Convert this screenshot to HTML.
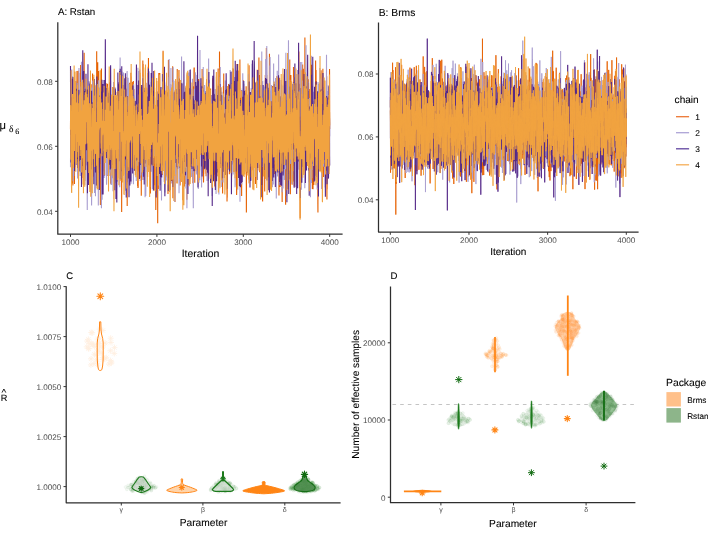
<!DOCTYPE html>
<html><head><meta charset="utf-8"><style>
html,body{margin:0;padding:0;background:#fff;}
svg{display:block;will-change:transform;text-rendering:geometricPrecision;font-family:"Liberation Sans", sans-serif;}
</style></head><body>
<svg width="708" height="534" viewBox="0 0 708 534">
<rect width="708" height="534" fill="#fff"/>
<path transform="translate(70.50,0) scale(0.08643,0.1)" d="M0,1292 l1-302 1-121 1 331 1 117 1 111 1-192 1 45 1-159 1 505 1-516 1 117 1-117 1 125 1 118 1-131 1-147 1 158 1 68 1-155 1 273 1 281 1-289 1 95 1 329 1-84 1-121 1 104 1 119 1-285 1-336 1 86 1 158 1-175 1-162 1 148 1-117 1-170 1 196 1 235 1-144 1-49 1-217 1 429 1 73 1 77 1 240 1-299 1-239 1 165 1-396 1-71 1 9 1 55 1-98 1 467 1-205 1-100 1 484 1-235 1 18 1-224 1 163 1-13 1-88 1 231 1-217 1 50 1-110 1 174 1-275 1-30 1 162 1-102 1-192 1-215 1 649 1-228 1-20 1 116 1 263 1-378 1 379 1-223 1-277 1 515 1-35 1 210 1-245 1-409 1-319 1 697 1 77 1-249 1-322 1 100 1 313 1-79 1 32 1 57 1 149 1-179 1-71 1 55 1 56 1 268 1-46 1-405 1 113 1 337 1-456 1-46 1-379 1 271 1 254 1 349 1-450 1-505 1 510 1 217 1-172 1 235 1-8 1 13 1-115 1-261 1 111 1-146 1 228 1-54 1 528 1 109 1-451 1 87 1-220 1-102 1-227 1 2 1-45 1 231 1 248 1 132 1 10 1 150 1-56 1-130 1-143 1 62 1 387 1-223 1-178 1-283 1-27 1 261 1 149 1-542 1 12 1-236 1-185 1 571 1 14 1-9 1-27 1-10 1 72 1 42 1 399 1-102 1 80 1-157 1 56 1-217 1-154 1 38 1 18 1 59 1 151 1 12 1 80 1-158 1 4 1-125 1 367 1-315 1 214 1 101 1-71 1 47 1-169 1 111 1 166 1 33 1-469 1 51 1 298 1-116 1 295 1-606 1 443 1-230 1-129 1 384 1-202 1-258 1-9 1 41 1-134 1 111 1 15 1 112 1-114 1 297 1-242 1 171 1 217 1-219 1-408 1-40 1 313 1-117 1 201 1 26 1-35 1 525 1-303 1 124 1-13 1 168 1 94 1-82 1-440 1-409 1 177 1-164 1 224 1 483 1-223 1-178 1 108 1-111 1-116 1 265 1 271 1-148 1-75 1-7 1-304 1-319 1 323 1-90 1-99 1 2 1-75 1 287 1-112 1-344 1 102 1 372 1-91 1-192 1 105 1 262 1-343 1 457 1-166 1 34 1 282 1-402 1-5 1 338 1-229 1 119 1 390 1-78 1-254 1-210 1 0 1 28 1-82 1 112 1-256 1 103 1 19 1-46 1 337 1 90 1-459 1 39 1 159 1-61 1 155 1-94 1 166 1-130 1 353 1-478 1 176 1 328 1-141 1-38 1-136 1 223 1-235 1-844 1 682 1-24 1 135 1-46 1 428 1 65 1-330 1-52 1-404 1 326 1-36 1-634 1 511 1 287 1-52 1-24 1-213 1 55 1 227 1-104 1-599 1 8 1 917 1-136 1 98 1-289 1 35 1-457 1-3 1 8 1 162 1 132 1-19 1-225 1 59 1 229 1-252 1 118 1 120 1 220 1 60 1 45 1 509 1-604 1-200 1 75 1-246 1 14 1 22 1 652 1-179 1-261 1-374 1-239 1-26 1 570 1 518 1-364 1-60 1-241 1 125 1-15 1 379 1-248 1 76 1-140 1-95 1 82 1-57 1 47 1-151 1-18 1 227 1 123 1-463 1 184 1-155 1 58 1 244 1 164 1-114 1-87 1-125 1 362 1 29 1-98 1-431 1 677 1-292 1 74 1-181 1 117 1-134 1-338 1 104 1 34 1 31 1 268 1-157 1 91 1 181 1-84 1 1 1-220 1 69 1 144 1-375 1-82 1-105 1 97 1 210 1 175 1 55 1-248 1 64 1 391 1-129 1 245 1-234 1 192 1 109 1-256 1-84 1 314 1-385 1-511 1 565 1-461 1 334 1 124 1-10 1 281 1-478 1-57 1 251 1 19 1 289 1-119 1-349 1 423 1-76 1-170 1-288 1-211 1 300 1 215 1-161 1 102 1 40 1-294 1-284 1 179 1 193 1-76 1 516 1-163 1 153 1-700 1 25 1 144 1 147 1 596 1-429 1-421 1 321 1-158 1-87 1 467 1-325 1-257 1 125 1 128 1-128 1 461 1-138 1-285 1 374 1-316 1 160 1 454 1-217 1 86 1-248 1 212 1-394 1 206 1-144 1 142 1 10 1-336 1 52 1 163 1 275 1-406 1-107 1 185 1-35 1 268 1 131 1 24 1-255 1-114 1 178 1-246 1-133 1 71 1-159 1 219 1 70 1-97 1 66 1-153 1 384 1-411 1 291 1 7 1 276 1-307 1-305 1-107 1 0 1 538 1 95 1-25 1 94 1-416 1 3 1 49 1-91 1 278 1 130 1 59 1-281 1-106 1-106 1-165 1 465 1 54 1-133 1 270 1-48 1-373 1-206 1-97 1 184 1 149 1-216 1 219 1-50 1-248 1 258 1 183 1-44 1-158 1-54 1 47 1-66 1 452 1 59 1-200 1 145 1 166 1 53 1-39 1-186 1 97 1-235 1-446 1 192 1-224 1 110 1 372 1-9 1 160 1-315 1 275 1-419 1-43 1 565 1-350 1-348 1 354 1-223 1 515 1-204 1 329 1-318 1 352 1 366 1-499 1-675 1 311 1-165 1 79 1 138 1-143 1-303 1 497 1-157 1-29 1 384 1-492 1-322 1 493 1-360 1 199 1 149 1-301 1 137 1 47 1-245 1-72 1 54 1 543 1 310 1-452 1 236 1-124 1 213 1-94 1 200 1-555 1 318 1-42 1-6 1-318 1 433 1-96 1-8 1-171 1-72 1 175 1-71 1 102 1-138 1 59 1 155 1-65 1-120 1-488 1 376 1 9 1-256 1 669 1 259 1 5 1-240 1-694 1 113 1-127 1 259 1 634 1 283 1-609 1-116 1 276 1-407 1 395 1-404 1-273 1 362 1 258 1-310 1 281 1-300 1 314 1-295 1 14 1 125 1 167 1-172 1 394 1-167 1-57 1-270 1 300 1-518 1 197 1 284 1-426 1-275 1 279 1 298 1-55 1 131 1-19 1-431 1 47 1 79 1-6 1 88 1-158 1-88 1 238 1 11 1-514 1 192 1 233 1-387 1 265 1 383 1-208 1 250 1 35 1-168 1 18 1 152 1 28 1 24 1-384 1 232 1 83 1-546 1 310 1-304 1-114 1 274 1 422 1-210 1-155 1-144 1 130 1-190 1-137 1 482 1-318 1 123 1 229 1 58 1-465 1-31 1 608 1-117 1-8 1 4 1 78 1 251 1-396 1 207 1-24 1 40 1 48 1-307 1-73 1 202 1 162 1-26 1-336 1 21 1-14 1 120 1 44 1-85 1 421 1-567 1 257 1 78 1-389 1 56 1 69 1 175 1 308 1-240 1-347 1 299 1-361 1 381 1 101 1-228 1 0 1-156 1 245 1 187 1 282 1-8 1-33 1 63 1-360 1 39 1 318 1-848 1 323 1 257 1-434 1-200 1 421 1 284 1 35 1-462 1 93 1 159 1-96 1-326 1 421 1-16 1 217 1-692 1-266 1 62 1 275 1-41 1 602 1-235 1 246 1 120 1-80 1-119 1-268 1-163 1 18 1 280 1-224 1 67 1-260 1 343 1 587 1-221 1-703 1 28 1 163 1-161 1 5 1 12 1 225 1-20 1-38 1 171 1 193 1-187 1-280 1-68 1 0 1-2 1-469 1 289 1-32 1-222 1 318 1 111 1-120 1-205 1 207 1 93 1 107 1 346 1-351 1 134 1 397 1-156 1 278 1-24 1-242 1 90 1-404 1 370 1-205 1-170 1-287 1-23 1 143 1 106 1 85 1-228 1 291 1-120 1 78 1-36 1 95 1-492 1 382 1-14 1-12 1-80 1-5 1 3 1-124 1 498 1-92 1 234 1-213 1 212 1 55 1-174 1-416 1-23 1 52 1-224 1 417 1 467 1-142 1-104 1-393 1-400 1 581 1-567 1-77 1 124 1 168 1-379 1 339 1 294 1 9 1 344 1-243 1 10 1-94 1-54 1 292 1-388 1 331 1-264 1 427 1-228 1 153 1-117 1 98 1 393 1-43 1-289 1-269 1 337 1 316 1-125 1-210 1-11 1 35 1-357 1-204 1-52 1 353 1-53 1 35 1 295 1-372 1-8 1 126 1-366 1-36 1-38 1-97 1 60 1 477 1 41 1-293 1 252 1-55 1-108 1-290 1-112 1 34 1 261 1-118 1 29 1 170 1-258 1 66 1 314 1-298 1 194 1-94 1 429 1-123 1 146 1 80 1 251 1-787 1 122 1-26 1-208 1 172 1-57 1 394 1-154 1 61 1-176 1-15 1 344 1 278 1-50 1-419 1-139 1-65 1 513 1 408 1-262 1-196 1-37 1-234 1 1 1 230 1 46 1-208 1-88 1-10 1-533 1 304 1 65 1 284 1-1 1-199 1-110 1 109 1-70 1 41 1 457 1 543 1-987 1-160 1 120 1 439 1 115 1-535 1 665 1-221 1-380 1-27 1-150 1 124 1-507 1 517 1 334 1-202 1-360 1 154 1-172 1 270 1 282 1-441 1-258 1-122 1 384 1 353 1 179 1-122 1-244 1-105 1 385 1-174 1-47 1-40 1 6 1 42 1-157 1 26 1-9 1 202 1-144 1 45 1 471 1-350 1-6 1-271 1 109 1 40 1-49 1 25 1 111 1 359 1-640 1 451 1-53 1-251 1-64 1-74 1-82 1-153 1 141 1-517 1 625 1 32 1 149 1 116 1-129 1-329 1 324 1 162 1-242 1-80 1-359 1 31 1 194 1 224 1-11 1 82 1 309 1-155 1-36 1-5 1 42 1-456 1-5 1-56 1 320 1 253 1-40 1-139 1 64 1-4 1-261 1 19 1 298 1 24 1 64 1-157 1 225 1-110 1-251 1 24 1 224 1 45 1-144 1-153 1-156 1 143 1 335 1-449 1 28 1-9 1 17 1 311 1-6 1-132 1-242 1 99 1 765 1-265 1-267 1-345 1-41 1-422 1 30 1 32 1 107 1 577 1-214 1-50 1 227 1-136 1-30 1 183 1 15 1 39 1-92 1 102 1-167 1 470 1-133 1 250 1-146 1-298 1-38 1 11 1-35 1-355 1 425 1-237 1 422 1-24 1-154 1 152 1-163 1-199 1 334 1-85 1 25 1 365 1-213 1 31 1-465 1 266 1-447 1 279 1-416 1 106 1 73 1-43 1-44 1-134 1-141 1 397 1 402 1 521 1-253 1-386 1-106 1 6 1 107 1 120 1-21 1-162 1 404 1-359 1 312 1-136 1 39 1-40 1 133 1 90 1-162 1 111 1-742 1 277 1 192 1 72 1 154 1 389 1-301 1-278 1 269 1-205 1 171 1-178 1-179 1-117 1-48 1 233 1-240 1 179 1-90 1-125 1 164 1 304 1-276 1 252 1 75 1 85 1-396 1 29 1 484 1-430 1-515 1-197 1 435 1 72 1-61 1-117 1 134 1 322 1-255 1-97 1 390 1-22 1-154 1-16 1-126 1-124 1-5 1 145 1 351 1-268 1-310 1-284 1 310 1 155 1-256 1-126 1 185 1 8 1 336 1-135 1 250 1-28 1-19 1 68 1 405 1-88 1-305 1-63 1 43 1-164 1-140 1-106 1 320 1-27 1 67 1 156 1 217 1-206 1 72 1-646 1 184 1 121 1 99 1-462 1 403 1 26 1 150 1-71 1-55 1-283 1 425 1-102 1-419 1 269 1 59 1 190 1 485 1-324 1-450 1 145 1 383 1-285 1-100 1-257 1-108 1 211 1-45 1 473 1-420 1-1 1-203 1-96 1 256 1 97 1 211 1 375 1-249 1-188 1 184 1-312 1-18 1-89 1 231 1 339 1-402 1-164 1 80 1 110 1 23 1-20 1 74 1 375 1-442 1 292 1-115 1-64 1-160 1 342 1-464 1-108 1-80 1-152 1 389 1 721 1-421 1-431 1-182 1 291 1 45 1-62 1 440 1-37 1-25 1-513 1 247 1-377 1 161 1 462 1-646 1 394 1-160 1-326 1 342 1 327 1-348 1 46 1 314 1 124 1-93 1-352 1 106 1-159 1-304 1-66 1-71 1 11 1 645 1-315 1 44 1 124 1 278 1 252 1 19 1-236 1 142 1-10 1-50 1-314 1 60 1-4 1-333 1 204 1-105 1 320 1-152 1-29 1-27 1 132 1 192 1-68 1 3 1-336 1-140 1 406 1-210 1 145 1-139 1 142 1 294 1-413 1-80 1 338 1 319 1-146 1 73 1-148 1-295 1-339 1 241 1-269 1-87 1 317 1 435 1-349 1-120 1-453 1-19 1 137 1-136 1 548 1-6 1 103 1-403 1 63 1 848 1-574 1 226 1-266 1 149 1-89 1-132 1 33 1 275 1-393 1 29 1 108 1-109 1 225 1-433 1 158 1 46 1 28 1 297 1 208 1-210 1-135 1-292 1 56 1 375 1-177 1-156 1-117 1 92 1 396 1-339 1 257 1-165 1 401 1-326 1 185 1-327 1-317 1-25 1 514 1 207 1 87 1-302 1-80 1 3 1-33 1-77 1-55 1-261 1 263 1 73 1 500 1 131 1-77 1 73 1-280 1-325 1 170 1 97 1 54 1-117 1 94 1-172 1-58 1-38 1-113 1 108 1 29 1-349 1 232 1-74 1 131 1 181 1 90 1 127 1-124 1 77 1-2 1-371 1 119 1-227 1 83 1-92 1 285 1-28 1-574 1 120 1 20 1 184 1-48 1 430 1 145 1-215 1-196 1 180 1 39 1 59 1-9 1 223 1 164 1-222 1 263 1-40 1-92 1 43 1-269 1 20 1-72 1 174 1 26 1-269 1-100 1 136 1-118 1-19 1-3 1-325 1 288 1-41 1-21 1 137 1 279 1-279 1-42 1 27 1 19 1 11 1 212 1-161 1 391 1-204 1 229 1-142 1-312 1 64 1 82 1-182 1 85 1 74 1 34 1-412 1-15 1 34 1 394 1-211 1 326 1-236 1 241 1-570 1 534 1-387 1-99 1 531 1-80 1-420 1-140 1 559 1 24 1 159 1 46 1-63 1-591 1 89 1 126 1 87 1-181 1-97 1 315 1-380 1 384 1 11 1-159 1-363 1 282 1-2 1-229 1 38 1-94 1-28 1 162 1-3 1-65 1 180 1-277 1 669 1 95 1-485 1-14 1 234 1-113 1-216 1 263 1-168 1 117 1 56 1 18 1-256 1 374 1 17 1-223 1 312 1 238 1-366 1-55 1 6 1-62 1 220 1-765 1 495 1 124 1 284 1-84 1-480 1 100 1-80 1 203 1-416 1 164 1 399 1-254 1 129 1-155 1 28 1-14 1 21 1 245 1 257 1-429 1 36 1-77 1 130 1 416 1 40 1-581 1 200 1 9 1 249 1-87 1-78 1-73 1-70 1 91 1 32 1-110 1-130 1 39 1-404 1 143 1 82 1 225 1-266 1 329 1 298 1 4 1-356 1 218 1-439 1 77 1 374 1-102 1-505 1 344 1 272 1-273 1-316 1-93 1 257 1 12 1-25 1-203 1-322 1 348 1-143 1 298 1-61 1 313 1 118 1-207 1 192 1-305 1 171 1-56 1 8 1 61 1-75 1-251 1-581 1 676 1 3 1 108 1 221 1-160 1 182 1-89 1-341 1 563 1-229 1-159 1 236 1-215 1-69 1 124 1-290 1 422 1-228 1 84 1 226 1-84 1-3 1-265 1 388 1-98 1 9 1-452 1 380 1-300 1 484 1-231 1-7 1-119 1 184 1 373 1 96 1-596 1-50 1 218 1-288 1 226 1 112 1 163 1-456 1-405 1 456 1-53 1-182 1-347 1 843 1-150 1-188 1 384 1-232 1-69 1-153 1 218 1-116 1 172 1-187 1 8 1 124 1 297 1-542 1-150 1-23 1 336 1 98 1-406 1 5 1 362 1-21 1-33 1 61 1 198 1-396 1-49 1 153 1 386 1-30 1-146 1-269 1 144 1-261 1 87 1 242 1 583 1-74 1 35 1-285 1-251 1-364 1 133 1 325 1-629 1 146 1 202 1 100 1 296 1-300 1-91 1-320 1-50 1 27 1-74 1 310 1 191 1 6 1 272 1-112 1-14 1-233 1 38 1 445 1-214 1-420 1 522 1 19 1-166 1 220 1-66 1-169 1 225 1-251 1-152 1 302 1-141 1-308 1 129 1-74 1-83 1 155 1-196 1 36 1 328 1-178 1-165 1-70 1 291 1-103 1-258 1 129 1-151 1-102 1 250 1-33 1 198 1-207 1 157 1 182 1-27 1-3 1-105 1-71 1 332 1 50 1-203 1-129 1 24 1-561 1 60 1 298 1-32 1-154 1 142 1 546 1-142 1-61 1-500 1 644 1-440 1 163 1-164 1 193 1-9 1-220 1 126 1-156 1 177 1 163 1 38 1 83 1-45 1-356 1 391 1 306 1-216 1-492 1-103 1-114 1-40 1 425 1 21 1 637 1-144 1-346 1 314 1 270 1-36 1-361 1-394 1-517 1 2 1 663 1 513 1-300 1-356 1 425 1-35 1-34 1-126 1-16 1-165 1-205 1 119 1-94 1-327 1 515 1 263 1-219 1-413 1 173 1-123 1 254 1-149 1 273 1-158 1-16 1-8 1-226 1-44 1 353 1-158 1 502 1-354 1-575 1 212 1 111 1 154 1-96 1 240 1-133 1 145 1 107 1-71 1 5 1 380 1-669 1 101 1 464 1-393 1 53 1-26 1-127 1 298 1 610 1-335 1-245 1-294 1 250 1 14 1-143 1 90 1 30 1-99 1 232 1-465 1 333 1-50 1 57 1 114 1-223 1-218 1-209 1 92 1 278 1-156 1 442 1-116 1-164 1-91 1 341 1 249 1-587 1 196 1 355 1 85 1-239 1-381 1 76 1-233 1 103 1-3 1-116 1 248 1-27 1 141 1 127 1-228 1 220 1-93 1 150 1-83 1 58 1-336 1 61 1 31 1-337 1 854 1 28 1 381 1-425 1-311 1-202 1-16 1 249 1-466 1 94 1 175 1 281 1-206 1 103 1 42 1-126 1-66 1 202 1-366 1 325 1 189 1-226 1-72 1-23 1 97 1-54 1 110 1 300 1-387 1 200 1-76 1-254 1 32 1-596 1 635 1 171 1-103 1-337 1 194 1 363 1-399 1 267 1-30 1-258 1 220 1 62 1-181 1 65 1-77 1 239 1-67 1 186 1 198 1-647 1-30 1-119 1 365 1-29 1 25 1 286 1-299 1 136 1-49 1 271 1-429 1-162 1 1 1 294 1 64 1-365 1 155 1-45 1 6 1 287 1-452 1 564 1-215 1-37 1 325 1-276 1-180 1 15 1 206 1-185 1-242 1 80 1-298 1 45 1 43 1-118 1 402 1 170 1-148 1-75 1-261 1-48 1 194 1 87 1 155 1 97 1 68 1-272 1 174 1 60 1-86 1 108 1-10 1 435 1-359 1-27 1-126 1-103 1 448 1-736 1 136 1 62 1 470 1-308 1-110 1 118 1-81 1-275 1 225 1 239 1-386 1 46 1 122 1-498 1 233 1 191 1-4 1 149 1-65 1-17 1 173 1-3 1-129 1-80 1-85 1-88 1 77 1-21 1 192 1 68 1-257 1 551 1-253 1-754 1 753 1-378 1 546 1-203 1-384 1-160 1 460 1 320 1 192 1-388 1 56 1-61 1-86 1-77 1-66 1 60 1 420 1-479 1 707 1-543 1 143 1-19 1 63 1-2 1-79 1 18 1 194 1-341 1 151 1-358 1 159 1 203 1-155 1-179 1 318 1 15 1-377 1 357 1 145 1-156 1 233 1 398 1 19 1-450 1-288 1-130 1-19 1 355 1-252 1-233 1 300 1-219 1 185 1-33 1-57 1 389 1-470 1 288 1-26 1 75 1-177 1-82 1 51 1-288 1 110 1 209 1 663 1-253 1-125 1 68 1 32 1-312 1-257 1-320 1 9 1 421 1-6 1 361 1-290 1-62 1 188 1-20 1 22 1 98 1-391 1-598 1 215 1 55 1 229 1 229 1-458 1 348 1 2 1 117 1-101 1 93 1-98 1 370 1-78 1-370 1 356 1 96 1-411 1 12 1-143 1 672 1-200 1 220 1 136 1-338 1-343 1 433 1 129 1-54 1-130 1 207 1-706 1 24 1 226 1 149 1-567 1-264 1 483 1 54 1-179 1 462 1 96 1-389 1 267 1 75 1 245 1-11 1-331 1 175 1 197 1-54 1-570 1 77 1 205 1-59 1-95 1 26 1 449 1-251 1-10 1-244 1 376 1-356 1 172 1 361 1-508 1 165 1-119 1 62 1-254 1-129 1-66 1 57 1 557 1 294 1-280 1 122 1-260 1-63 1 328 1 78 1 61 1-25 1-167 1-285 1-292 1 379 1 96 1-432 1-66 1 116 1 645 1 18 1-256 1 43 1-566 1 150 1 30 1 330 1 152 1-9 1-14 1-97 1-186 1-62 1-205 1 433 1-139 1-76 1-344 1 238 1-5 1 258 1-153 1-71 1 198 1 56 1-65 1-171 1 308 1-309 1 122 1-447 1-123 1 363 1 231 1-586 1 123 1 76 1 263 1 65 1-180 1-47 1 305 1-319 1 53 1 313 1-286 1 123 1-156 1 226 1-96 1 404 1-252 1 304 1-230 1 498 1-313 1-335 1-114 1-218 1 407 1-398 1-207 1 535 1 175 1 37 1-107 1-100 1 553 1-420 1-16 1 165 1-365 1 112 1-281 1-3 1 192 1-243 1-38 1 279 1 391 1-47 1-287 1 50 1-429 1 127 1 78 1-8 1 288 1-29 1 108 1 437 1 89 1-526 1 5 1-71 1 272 1-65 1-344 1-17 1 132 1-399 1 161 1 146 1-266 1 521 1-259 1 249 1 51 1 1 1-184 1-87 1-88 1-22 1-282 1-207 1 120 1 49 1 281 1 305 1-231 1 10 1-181 1 518 1-763 1 515 1-39 1-237 1 421 1 21 1 344 1 38 1 134 1-396 1-241 1 18 1-350 1-203 1 215 1 156 1 90 1 85 1-356 1 64 1 161 1 57 1-147 1 141 1-91 1 33 1-298 1-105 1 531 1-19 1-207 1 159 1-206 1 5 1-56 1 121 1-23 1-62 1 422 1 85 1 66 1-580 1 23 1-4 1 43 1 178 1 141 1-292 1 132 1-377 1 125 1 86 1 114 1 23 1-12 1-344 1-356 1 613 1-14 1-109 1 311 1 93 1 8 1 444 1-469 1-77 1-29 1-53 1-65 1-499 1 232 1-31 1 290 1-52 1 125 1 25 1 183 1 71 1-252 1-191 1-31 1 240 1-104 1 593 1-490 1-23 1-82 1-242 1 236 1-193 1 219 1-113 1 158 1-82 1-300 1 325 1 153 1 12 1-135 1-622 1 441 1 551 1-38 1 191 1-137 1-198 1 121 1-2 1 267 1-330 1 45 1-391 1-189 1 340 1 57 1-68 1-192 1 452 1-136 1-504 1 188 1 24 1 61 1 300 1-334 1-13 1 17 1-119 1-73 1 569 1-252 1 114 1-111 1 142 1 105 1-358 1 37 1 81 1 41 1-63 1-10 1 526 1-75 1-181 1-313 1-296 1 370 1-463 1 184 1 2 1 232 1 131 1-395 1 175 1 62 1-255 1-255 1 600 1 3 1-38 1-432 1-363 1 386 1 97 1-63 1-96 1 283 1-124 1 289 1 590 1 2 1-359 1-308 1 532 1 164 1-320 1 596 1-591 1-404 1 704 1-494 1-31 1-380 1 66 1 151 1-7 1-188 1 74 1 71 1 370 1-251 1-23 1-420 1 208 1 120 1 181 1-214 1 102 1 164 1-439 1-260 1 374 1 316 1-328 1 279 1-687 1 325 1-86 1 468 1-52 1-281 1 7 1 225 1-564 1 105 1 271 1 221 1 35 1-350 1 305 1-29 1 178 1-380 1 131 1-167 1-17 1 252 1-165 1-136 1 404 1-217 1-754 1 495 1 36 1 464 1-174 1 151 1-232 1 69 1 290 1-371 1 113 1 237 1-126 1 171 1-224 1-7 1 66 1-203 1 340 1-340 1 505 1-567 1 40 1 121 1 168 1-208 1 57 1 33 1-259 1 204 1 57 1-123 1-208 1 174 1 17 1 34 1-141 1-241 1 431 1 33 1-2 1-147 1-280 1 205 1 50 1-184 1 449 1 116 1-14 1-108 1-108 1 117 1-460 1 331 1 51 1-268 1-63 1 148 1-15 1-108 1 136 1-83 1 316 1-68 1 358 1 8 1 61 1-515 1 134 1-107 1 226 1-51 1-8 1 128 1-328 1 413 1-317 1-622 1 484 1 48 1 388 1-156 1 314 1-383 1 65 1 344 1 46 1 91 1-252 1-386 1 94 1 227 1 35 1-199 1 485 1-448 1-182 1 566 1-551 1 372 1-139 1-389 1 452 1 275 1-28 1-23 1-227 1-25 1-18 1-13 1-74 1 117 1-213 1-31 1 219 1-545 1 440 1-242 1 219 1-144 1-110 1-133 1-196 1 422 1-640 1 243 1 401 1 326 1-690 1-184 1 290 1-35 1-145 1 207 1 223 1 22 1-191 1 93 1 334 1-289 1 426 1-12 1-464 1-1 1 0 1 29 1-198 1 150 1 513 1-250 1 638 1 85 1-793 1-272 1 210 1 16 1-29 1-226 1 296 1 173 1 29 1-162 1-110 1 96 1-217 1 301 1-66 1 108 1 126 1-451 1 131 1 223 1-129 1 176 1-281 1-198 1-140 1 410 1-5 1-461 1 243 1-219 1-170 1 585 1-305 1-47 1-52 1-213 1 176 1 176 1-34 1 202 1-92 1 532 1-596 1 222 1-135 1-15 1 40 1 19 1 20 1 402 1-50 1-426 1 297 1 157 1-652 1-117 1-140 1 293 1 81 1-72 1 10 1 154 1 394 1 29 1 193 1-611 1 148 1 24 1-94 1 15 1-110 1 210 1 312 1-596 1 268 1 80 1 114 1 0 1-130 1-231 1 297 1-159 1 142 1-359 1 379 1-116 1-198 1 376 1-149 1-82 1 176 1-46 1-298 1 21 1 162 1 34 1-133 1-253 1-19 1 6 1-187 1 615 1 284 1 332 1-541 1 440 1-290 1-327 1 326 1-4 1-92 1-272 1 375 1-229 1-201 1 26 1 10 1-243 1 112 1 111 1 127 1-160 1 133 1-147 1 52 1-207 1 332 1-31 1-77 1-53 1-189 1 72 1-79 1-278 1 113 1 487" fill="none" stroke="#E66101" stroke-width="1.10" vector-effect="non-scaling-stroke"/>
<path transform="translate(70.50,0) scale(0.08643,0.1)" d="M0,1672 l1-338 1 67 1-117 1 47 1-312 1-131 1 460 1-86 1 86 1 271 1-306 1 25 1-119 1-519 1 0 1 50 1 367 1 358 1-370 1 166 1 4 1 97 1-59 1-550 1 340 1 162 1-28 1-33 1 319 1 289 1-124 1-145 1 57 1 78 1 25 1-110 1-116 1 283 1-102 1-255 1-19 1 270 1-92 1-121 1-238 1 421 1-310 1 103 1-98 1-157 1 272 1 121 1-95 1-236 1 168 1 279 1-21 1-253 1-301 1 224 1 72 1 3 1-8 1 179 1-24 1-160 1-54 1-9 1 226 1 11 1 42 1-375 1-277 1 110 1-225 1 310 1 154 1 303 1-191 1 58 1-94 1-135 1 95 1 245 1-119 1-54 1-49 1-169 1 114 1 68 1-413 1-59 1 230 1 304 1 42 1-164 1-185 1-442 1 370 1 96 1 161 1-17 1 94 1 200 1-366 1 15 1-250 1 273 1-35 1-105 1 512 1 131 1-396 1-53 1 404 1-42 1 48 1-103 1-503 1 220 1-470 1 273 1 243 1-391 1-58 1-125 1-189 1 101 1 15 1 662 1 131 1-217 1-55 1-144 1 195 1-257 1-330 1 153 1 20 1 83 1-53 1 132 1 226 1-44 1-2 1 363 1-210 1-60 1-70 1 134 1-163 1-113 1 240 1-109 1-157 1-69 1 336 1 191 1-137 1 170 1-703 1 386 1 190 1-225 1 137 1 487 1-245 1 65 1-69 1 209 1-52 1-190 1-113 1 175 1 0 1 31 1-204 1-37 1 227 1-307 1 145 1-169 1 207 1-166 1 10 1-34 1-116 1-44 1 39 1 21 1 328 1-102 1 420 1 221 1-318 1-178 1-472 1-51 1-124 1 252 1-41 1-181 1 50 1 64 1 87 1 270 1 129 1 184 1-318 1-8 1 85 1-186 1 113 1-304 1-344 1 151 1 330 1 343 1-608 1 43 1 382 1-308 1 455 1-46 1-68 1-6 1 170 1-702 1 271 1-39 1 58 1 393 1-37 1-188 1-255 1 157 1-80 1 117 1-149 1 609 1-381 1 81 1 32 1 521 1-137 1-443 1-601 1 373 1 177 1-169 1-39 1 176 1-6 1 45 1-202 1-140 1-286 1 45 1 78 1 153 1-98 1 381 1-513 1 164 1-172 1 408 1-205 1 39 1 150 1 184 1 139 1-531 1-136 1 180 1 72 1 242 1 370 1 175 1-178 1-190 1 132 1-375 1-124 1 17 1 440 1-127 1-105 1 224 1 320 1-762 1-89 1 181 1-355 1-68 1 114 1 108 1-71 1-189 1 219 1 177 1-95 1 718 1-295 1-36 1-106 1-15 1-125 1-10 1 3 1 47 1-109 1 162 1-254 1 473 1-189 1-150 1 313 1-33 1-411 1 122 1 230 1 587 1-454 1-173 1-201 1-425 1 250 1 94 1 232 1-25 1-20 1-186 1-48 1 273 1 71 1-382 1 336 1-216 1-306 1 66 1 123 1-189 1 133 1 148 1 118 1-245 1-21 1-201 1 322 1 156 1 106 1-108 1 165 1-282 1-9 1 293 1 593 1 40 1-715 1-20 1-57 1 101 1-134 1 454 1 245 1 41 1-363 1-325 1-111 1 80 1 300 1-318 1 84 1-17 1 4 1 90 1 103 1 22 1 169 1-263 1-36 1-287 1 494 1-425 1 68 1 54 1 172 1 89 1 197 1-441 1 31 1-195 1-122 1 238 1 60 1 54 1-282 1 60 1 22 1-113 1 122 1-416 1 462 1-261 1-165 1 492 1-206 1 28 1-119 1 407 1-122 1 215 1-39 1-414 1 143 1 548 1 82 1-17 1-494 1 139 1 263 1-471 1-40 1-41 1 237 1-383 1 157 1 496 1 59 1-36 1-172 1-294 1 188 1 66 1-599 1 179 1 227 1-13 1 283 1-261 1-228 1 235 1-239 1 171 1-45 1 210 1 118 1 216 1-279 1-26 1-19 1 187 1 102 1-69 1-283 1-104 1 170 1-135 1-397 1 173 1-344 1 185 1-109 1 364 1-202 1 431 1-107 1 77 1 413 1 64 1-530 1-120 1-242 1 127 1 761 1-329 1 20 1-5 1-15 1 65 1 75 1-458 1-49 1 222 1 60 1-285 1-8 1 37 1 339 1-9 1 154 1 252 1-506 1 22 1 30 1 139 1-318 1-459 1 110 1-23 1 478 1-80 1-50 1-312 1 178 1 304 1-46 1 60 1-393 1-21 1 62 1 68 1-116 1 243 1 218 1 326 1-528 1-111 1-86 1 93 1-319 1 436 1-274 1 324 1 74 1 210 1-190 1-9 1-167 1 146 1 255 1-314 1-319 1-35 1 160 1-23 1 463 1-76 1-375 1-29 1 281 1-244 1 100 1-144 1 409 1 7 1-189 1-89 1-101 1 76 1 81 1-111 1-144 1 464 1-37 1-45 1-103 1-245 1 405 1-217 1 401 1-19 1-62 1-87 1 33 1-6 1-42 1-36 1 335 1 68 1-183 1-308 1-260 1-546 1 343 1 373 1-30 1-128 1 57 1 298 1-67 1-46 1 283 1 97 1-492 1 523 1-276 1-42 1-390 1-21 1 320 1-316 1 250 1-447 1-148 1 314 1-33 1 115 1 300 1-290 1-2 1-96 1-98 1-126 1 21 1 263 1 91 1-27 1 105 1 79 1-430 1 92 1-269 1 461 1 68 1 122 1 50 1 3 1-36 1 52 1-474 1 15 1 324 1 118 1-229 1-70 1 222 1-231 1 410 1-9 1-495 1 719 1-176 1-354 1 75 1 180 1 114 1 323 1-7 1-314 1-16 1-131 1-36 1-114 1 376 1-113 1-50 1-31 1 113 1 347 1-455 1-269 1-481 1 125 1-141 1 163 1 299 1-46 1 348 1-141 1 8 1 215 1-400 1-177 1 58 1-50 1-210 1 291 1 418 1 119 1-308 1-50 1 358 1-448 1 23 1-300 1-43 1 328 1 45 1 208 1 127 1-57 1-207 1-298 1 356 1-178 1 58 1 87 1-258 1 202 1-286 1 238 1 251 1-252 1 370 1 125 1-162 1-123 1-1 1 381 1 47 1-389 1-201 1 246 1-163 1-68 1-215 1 283 1-348 1 219 1-281 1-25 1 421 1 54 1-107 1-217 1 429 1 16 1-243 1-89 1 298 1 115 1-240 1 205 1-178 1-243 1 81 1 644 1-541 1-266 1-192 1 28 1 585 1-403 1 39 1-114 1 189 1 114 1 55 1-383 1 104 1 160 1 321 1-232 1-13 1-39 1-206 1-44 1 140 1 22 1 39 1-121 1-55 1 96 1 272 1-246 1-135 1 374 1-139 1 104 1 456 1-253 1-349 1 203 1 96 1-339 1 306 1 118 1-81 1-251 1-127 1 196 1 49 1-65 1 75 1 145 1 123 1-343 1 37 1-673 1 166 1 392 1 27 1-63 1-44 1-33 1-18 1 124 1-115 1-403 1 389 1 181 1-154 1-198 1-3 1-91 1 239 1 160 1-118 1-64 1-256 1-102 1 708 1-230 1 210 1 427 1-346 1-48 1 17 1 218 1 49 1-155 1 211 1-206 1-153 1-16 1-110 1 28 1 260 1 101 1-212 1-292 1 37 1 165 1-67 1 410 1 22 1-127 1-134 1-8 1-16 1 197 1-39 1-203 1 367 1 40 1-171 1-497 1-67 1-233 1-66 1 368 1 100 1 297 1-378 1-90 1-13 1-23 1 34 1 73 1 22 1-199 1 349 1 232 1-119 1-320 1 47 1 124 1-172 1 76 1 490 1 44 1 265 1-287 1-92 1-246 1-498 1 359 1 44 1 109 1 599 1-160 1-89 1-268 1 116 1 159 1-342 1-24 1 174 1 56 1-75 1-288 1-280 1 473 1-319 1 90 1-24 1-148 1 359 1-229 1 371 1-3 1 85 1-527 1-253 1 72 1 89 1 280 1-370 1-108 1 58 1 255 1 180 1 31 1-301 1 358 1-59 1-369 1-17 1-201 1 196 1 95 1-166 1 79 1 109 1 245 1 340 1-495 1 178 1 162 1-279 1 252 1 229 1-60 1-143 1-147 1-127 1-166 1 159 1-28 1 92 1 164 1-150 1-65 1-367 1 97 1 337 1-120 1 128 1-343 1 560 1 48 1 23 1-162 1-26 1 313 1 217 1-347 1-460 1-226 1 299 1-42 1 274 1 266 1-462 1-108 1 170 1 94 1-240 1 12 1 153 1-62 1 34 1 106 1 121 1-304 1 158 1 236 1-545 1-148 1 86 1 174 1 29 1 380 1-128 1-128 1 41 1-121 1 207 1-107 1 335 1-174 1 44 1 180 1-116 1-150 1 61 1-306 1 207 1-258 1-83 1 254 1-324 1 456 1-190 1 8 1-150 1 440 1 137 1-10 1-193 1-110 1-40 1 42 1 120 1 206 1-104 1-263 1-239 1 217 1-240 1 416 1-263 1 281 1-154 1 188 1 98 1-45 1-456 1 232 1-168 1 19 1-23 1-14 1-76 1 365 1-92 1-113 1 148 1-132 1 237 1-267 1 182 1-3 1-237 1-182 1 272 1 151 1-282 1 711 1-574 1-277 1 381 1-306 1 29 1-6 1 608 1-98 1-115 1-9 1-10 1-27 1 555 1-310 1-46 1-156 1 12 1-103 1-114 1-386 1 379 1-363 1 244 1 265 1 255 1-382 1 334 1-368 1-60 1 172 1 108 1-200 1-27 1-143 1 92 1 159 1-152 1 307 1-297 1 26 1 271 1 114 1-96 1 282 1-568 1-190 1 360 1-36 1-418 1 76 1 352 1 428 1 101 1-577 1-94 1 312 1-290 1 92 1 114 1 24 1 0 1-474 1 344 1 51 1-360 1-218 1 443 1-456 1-13 1 568 1-448 1 507 1-227 1 294 1 288 1-443 1-125 1 49 1-36 1 47 1 59 1 210 1-264 1-6 1 56 1 100 1-14 1 269 1-135 1 83 1-465 1 267 1 22 1-94 1-220 1-36 1 81 1-438 1 267 1 58 1-509 1 554 1-137 1 48 1 417 1 54 1-299 1 361 1-102 1-301 1 111 1-57 1 180 1 81 1 38 1-40 1-240 1 5 1-421 1 106 1 115 1-383 1 335 1 324 1-53 1 251 1-233 1-306 1 9 1 239 1 60 1-110 1-211 1 247 1 128 1-272 1 57 1 1 1-30 1 265 1-7 1-274 1 135 1 77 1-73 1-56 1-510 1 494 1 35 1-402 1 242 1 44 1 431 1-326 1-141 1-59 1 194 1-26 1 85 1-163 1 112 1-123 1 413 1-19 1 554 1-327 1-369 1 46 1-560 1 467 1 87 1 175 1-7 1-11 1 219 1-1 1-673 1 176 1-175 1 401 1-58 1-174 1 71 1 112 1-17 1-57 1-208 1-188 1 472 1 400 1-216 1-153 1-235 1-196 1 289 1-465 1 171 1 539 1-342 1-17 1-11 1 415 1-81 1-144 1-2 1-189 1-222 1-171 1-25 1 301 1-267 1 192 1-36 1 227 1 372 1 381 1-359 1 14 1-143 1-273 1 406 1 255 1-325 1-186 1 49 1 82 1 279 1-197 1 48 1-239 1-234 1 219 1-108 1-2 1-117 1-245 1 73 1 26 1-6 1 270 1 41 1-58 1-229 1-127 1-283 1 612 1 71 1 412 1-59 1 217 1-520 1-168 1 326 1-153 1-167 1-307 1 50 1 182 1 140 1-90 1 26 1 189 1 260 1-379 1 208 1 3 1-238 1 73 1-230 1 389 1-226 1 354 1 216 1 6 1-257 1 49 1 182 1-487 1 241 1-70 1-117 1 105 1-135 1-125 1 99 1-206 1 262 1 236 1-165 1 180 1-211 1 1 1 83 1-193 1-87 1 740 1-222 1-213 1-185 1 139 1 205 1-183 1-216 1 506 1 128 1-141 1 378 1-257 1-447 1 200 1-170 1 145 1-221 1-161 1-228 1 162 1-138 1 77 1 235 1-320 1 305 1-19 1-521 1 93 1 427 1-38 1 172 1-6 1 302 1-235 1 279 1-291 1-147 1-179 1-400 1 672 1 232 1 72 1-60 1-356 1 96 1 104 1 174 1-25 1-56 1-103 1 247 1-181 1-235 1-68 1 324 1-302 1-148 1 40 1 363 1 236 1-222 1 130 1 134 1-434 1-222 1-50 1-175 1 4 1 465 1-285 1 88 1-29 1-267 1 119 1-195 1 244 1 220 1 184 1-37 1 329 1-199 1-87 1 50 1 407 1 184 1-550 1 100 1-475 1 233 1-126 1 343 1-10 1-99 1-230 1-362 1-20 1 534 1-62 1 9 1 110 1-221 1-334 1 292 1-209 1-167 1 470 1-404 1-182 1 222 1-207 1 224 1-90 1 67 1 375 1-66 1 64 1 105 1 202 1 16 1 111 1-479 1 458 1-230 1 41 1 163 1-363 1 162 1-371 1 127 1-52 1 78 1-136 1-133 1 246 1 24 1-387 1 333 1-371 1 311 1 192 1 351 1-14 1 195 1-167 1-367 1-15 1 115 1 153 1 0 1 173 1 45 1-702 1 33 1 277 1-219 1-296 1 333 1 48 1 282 1 218 1-561 1-742 1 567 1 484 1-444 1-141 1 61 1-195 1 311 1 17 1-107 1 195 1-81 1 121 1-95 1 18 1 491 1-220 1 232 1-14 1 176 1-470 1 22 1 24 1-355 1-57 1 180 1 510 1-362 1 27 1 36 1-229 1 192 1-27 1-232 1-45 1 245 1-343 1-103 1-219 1 329 1 103 1-137 1 70 1 102 1 105 1 98 1 127 1 63 1-206 1 57 1 278 1-191 1-457 1-161 1 678 1 77 1-327 1-7 1-1 1 44 1-20 1 232 1-379 1 311 1-47 1-401 1-99 1 196 1 98 1 181 1 69 1-25 1-366 1 214 1-117 1-28 1-9 1 149 1-153 1 52 1 40 1 148 1 450 1-422 1-216 1 173 1 14 1-97 1 233 1-260 1-131 1-97 1-65 1 600 1-243 1 94 1-300 1-139 1-15 1 194 1-548 1 364 1 403 1-249 1 416 1-546 1-70 1-105 1 10 1 148 1 459 1 68 1-226 1 58 1-99 1 186 1 116 1-185 1-191 1 69 1 254 1 280 1-683 1 365 1 123 1 30 1-347 1 195 1-193 1-40 1 301 1-140 1 239 1-117 1-260 1 89 1 195 1-12 1-58 1-145 1 515 1 158 1-442 1-84 1-71 1-80 1 44 1 88 1-82 1-164 1-9 1 67 1 270 1-149 1 235 1 10 1-178 1-82 1-258 1-82 1 47 1 204 1 33 1 67 1-406 1 81 1 287 1 187 1-371 1 284 1-133 1-25 1-210 1 327 1-134 1-10 1-137 1-194 1 183 1 164 1-163 1 426 1-141 1 189 1 145 1 155 1 94 1-506 1-262 1 39 1-187 1 130 1 181 1 221 1-301 1-161 1-180 1 368 1 70 1 271 1-419 1-112 1-13 1 111 1 84 1 91 1-279 1 244 1-217 1 26 1 300 1 248 1-24 1-177 1 190 1-332 1-280 1-7 1 493 1 393 1-519 1-398 1 221 1-94 1 129 1 146 1-290 1 199 1-213 1-300 1 260 1-314 1 553 1-221 1 92 1-524 1 301 1 337 1-372 1 519 1-181 1 179 1-390 1 137 1-147 1 128 1 301 1 386 1-688 1 3 1 312 1-32 1-307 1 402 1-641 1 243 1 148 1-296 1 93 1 319 1-271 1-31 1-167 1 376 1 234 1-276 1 100 1 436 1-133 1-339 1 134 1-382 1 209 1 13 1 349 1-9 1-143 1-243 1-33 1-213 1 620 1-183 1-54 1 175 1-137 1 89 1-219 1 65 1-160 1 239 1-371 1 11 1-306 1 278 1 222 1-33 1 119 1 189 1-143 1-54 1 105 1-7 1 129 1-187 1 241 1-564 1 93 1-159 1 404 1-146 1 34 1-234 1-93 1 520 1-368 1 411 1-433 1 98 1 306 1-275 1 12 1 239 1 63 1-244 1 296 1 33 1-597 1 294 1-111 1-72 1-152 1-58 1 740 1-91 1-422 1 235 1-474 1 119 1 392 1-208 1-416 1 384 1-87 1 283 1 74 1-121 1-151 1-39 1 12 1-491 1 545 1 448 1-324 1-78 1 329 1-551 1 274 1 297 1-266 1-183 1-481 1 642 1 262 1-96 1-10 1-88 1 100 1 242 1-130 1-328 1-182 1 237 1-153 1-48 1 182 1 58 1-60 1-656 1 270 1 375 1 21 1 101 1-335 1 583 1 49 1-414 1-113 1 33 1-142 1 395 1-187 1 248 1 157 1-327 1 132 1-35 1-241 1 260 1-247 1-496 1 309 1-110 1-12 1 458 1 251 1-186 1 393 1-299 1-198 1-147 1-70 1-236 1 262 1-253 1 60 1 30 1 171 1-168 1 305 1-184 1-182 1 316 1 223 1 67 1-130 1-157 1-195 1-331 1-103 1 256 1 279 1 326 1-300 1-80 1 142 1 44 1 12 1 566 1-291 1-233 1-14 1 208 1-150 1-173 1-388 1-25 1 94 1 194 1 390 1-3 1 203 1-187 1-359 1-176 1-56 1 174 1-134 1 221 1 495 1-231 1-92 1 360 1-97 1 389 1-255 1-512 1 167 1-363 1 66 1 254 1 363 1-395 1-178 1 402 1-42 1-369 1 238 1-142 1 465 1-3 1-377 1 247 1 183 1 80 1-192 1 178 1-245 1-276 1-360 1 261 1-329 1 76 1 216 1-61 1-258 1-124 1 107 1 247 1-88 1 97 1 59 1 9 1-350 1 512 1 0 1 232 1-331 1-222 1-166 1 307 1 60 1-133 1 67 1 8 1 26 1-4 1 86 1-84 1 392 1-42 1 187 1-190 1 51 1-263 1-296 1 421 1 106 1-200 1-353 1-25 1 63 1 146 1 160 1-108 1-81 1 38 1 187 1 327 1-8 1-112 1 123 1-277 1 259 1-125 1-211 1-212 1 25 1-207 1 306 1 194 1-327 1 285 1-22 1 347 1-476 1-145 1 261 1 357 1-276 1-142 1-275 1-293 1 221 1 214 1 111 1 70 1 278 1 32 1-168 1 270 1 60 1-546 1 157 1-256 1-196 1 150 1-112 1 173 1 245 1-52 1-66 1-46 1-11 1 100 1-280 1 145 1 122 1-244 1 315 1-68 1-370 1 135 1-240 1 260 1 187 1 14 1 97 1 3 1 20 1-272 1-44 1 115 1 180 1-806 1 368 1-178 1 494 1 148 1-371 1 341 1 164 1-148 1 79 1-59 1-131 1-228 1 42 1-4 1-236 1-138 1 331 1 505 1 61 1-440 1 131 1 117 1 0 1-462 1 116 1 156 1 151 1 166 1-804 1 245 1 80 1 146 1-241 1 349 1 381 1-113 1-264 1-567 1 245 1 301 1 6 1 129 1 65 1-166 1-129 1 152 1-322 1 104 1 10 1 147 1-127 1-73 1-94 1 288 1-184 1 180 1-61 1-178 1-263 1 313 1 306 1-130 1-310 1 196 1-527 1 714 1-411 1-129 1-52 1 414 1-289 1-102 1-69 1 299 1 154 1-272 1 79 1 200 1 207 1-145 1 295 1-291 1-50 1 362 1-274 1-306 1 63 1 389 1 31 1-312 1 329 1-46 1-367 1 141 1 138 1-246 1-305 1 122 1 453 1 291 1-163 1 271 1-255 1-352 1 632 1-246 1-237 1 78 1-173 1-110 1-181 1-465 1 308 1 431 1 244 1 170 1-357 1-94 1-76 1 23 1-306 1-39 1-1 1 384 1 111 1 279 1-10 1-172 1 212 1-27 1-617 1 192 1 395 1 140 1-194 1-308 1 57 1-188 1 32 1 340 1-318 1 179 1-442 1 341 1 69 1 126 1 0 1-165 1 64 1-280 1 33 1-247 1 220 1-168 1-63 1 273 1-472 1-4 1 218 1 277 1 112 1 76 1-66 1 289 1-126 1 87 1-471 1-33 1-221 1-272 1 295 1-201 1 271 1 77 1 397 1-36 1-323 1 50 1 222 1 25 1 181 1 75 1 212 1-472 1-233 1 157 1 358 1-71 1-546 1 484 1 56 1 20 1-278 1 330 1-183 1 155 1-28 1 180 1-304 1 78 1 62 1-352 1-6 1-459 1 209 1 181 1 81 1-555 1 64 1 378 1 53 1 215 1-159 1 184 1 105 1-175 1-293 1-34 1 7 1 164 1 639 1-190 1-85 1-211 1-382 1 35 1 585 1-108 1 5 1-214 1 71 1 455 1-1 1-132 1 326 1-273 1-100 1-357 1 91 1 161 1-32 1-49 1-240 1 317 1 455 1-912 1-1 1 162 1-460 1 581 1 211 1 25 1-198 1 117 1-224 1 146 1-303 1 39 1 503 1-119 1 194 1-132 1-96 1-560 1 285 1 457 1-164 1 209 1-578 1-34 1-214 1 344 1 319 1-145 1 308 1 61 1-17 1-148 1 241 1 244 1-677 1 113 1-26 1-191 1-60 1 220 1 63 1-441 1-139 1 47 1-187 1 719 1-103 1 42 1 398 1-320 1-230 1-28 1 461 1-135 1-166 1 20 1-109 1-105 1-264 1 140 1-482 1 314 1 141 1-43 1 174 1 144 1-287 1 632 1 232 1-768 1-77 1 7 1 57 1 34 1 299 1-3 1 169 1-416 1-90 1 46 1-11 1 114 1 291 1-511 1-13 1 182 1-85 1-198 1-79 1 80 1 2 1 243 1-241 1-29 1-14 1 509 1-191 1-102 1-81 1 741 1 204 1-392 1 86 1-262 1-21 1-230 1 213 1 223 1-253 1 57 1 237 1 304 1-1029 1 294 1 120 1 457 1 11 1-192 1-209 1-208 1 249 1-160 1-234 1 267 1 31 1 417 1-20 1 121 1-413 1-10 1-415 1 117 1-84 1 24 1 85 1 337 1-463 1 173 1 491 1-46 1 98 1-479 1-210 1-217 1-260 1 527 1 551 1 56 1-285 1 581 1-199 1-435 1 177 1-82 1 143 1-547 1-321 1 530 1 226 1-116 1-191 1-34 1-72 1-116 1-113 1-215 1 285 1 293 1 51 1-513 1 66 1 61 1-117 1-34 1-281 1 600 1 64 1-98 1-63 1 250 1 416 1-108 1 44 1-114 1-339 1-75 1 394 1 106 1-168 1-304 1 130 1-1 1 406 1-35 1 54 1-204 1 9 1 148 1 124 1-240 1 83 1-376 1 43 1 120 1-214 1 386 1-300 1 232 1-221 1 219 1 172 1 297 1-292 1-249 1 316 1-583 1 127 1 324 1-559 1 273 1-299 1 850 1-736 1 90 1 91 1-30 1 330 1-321 1-47 1 5 1 210 1 244 1-234 1-223 1 47 1 103 1 126 1-225 1-284 1 232 1 280 1-633 1 619 1-112 1 28 1-315 1 179 1 445 1 99 1-239 1-89 1 104 1 29 1 246 1 105 1-146 1-59 1-156 1 162 1-556 1 492 1-363 1-108 1-295 1-102 1 577 1-101 1-146 1-115 1 41 1 272 1-296 1 178 1 175 1-70 1 112 1 107 1-130 1-646 1 211 1 161 1 204 1-84 1 312 1-229 1-65 1 9 1-85 1 114 1-143 1-42 1-26 1 115 1-145 1 173 1-253 1 197 1-223 1 125 1 129 1 289 1-234 1-54 1 45 1-61 1 33 1 259 1 190 1-323 1-58 1-338 1-283 1 132 1 110 1 71 1 143 1 243 1 581 1-493 1-206 1 25 1-10 1-199 1-87 1 123 1 164 1-115 1-103 1-377 1 532 1-59 1 289 1 46 1-624 1 326 1 96 1 152 1-256 1 168 1 372 1-231 1-274 1 60 1-12 1 192 1 152 1-142 1 193 1-63 1 95 1-126 1-302 1 42 1-249 1 53 1 142 1 251 1-108 1 239 1-324 1 324 1 173 1-37 1 171 1-326 1 41 1-52 1-275 1 516 1-195 1-237 1-273 1 70 1 220 1-261 1-129 1-362 1-167 1 462 1-134 1 202 1 385 1-207 1-242 1 725 1-489 1 255 1-436 1 99 1 69 1-253 1 273 1-424 1 494 1 164 1 195 1-279 1 2 1-200 1-168 1-14 1-73 1-38 1 253 1 278 1 196 1-302 1 145 1 175 1 58 1-115 1-160 1 32 1 196 1-264 1 509 1-186 1-406 1-24 1-225 1 139 1-40 1 105 1 162 1-106 1-189 1 586 1 26 1 310 1-112 1 26 1-172 1-127 1-352 1-239 1 351 1 104 1-205 1 190 1 40 1 354 1-418 1-101 1 231 1 199 1 40 1-326 1 50 1 194 1-109 1-328 1-254 1-149 1 203 1 70 1 26 1-73 1-20 1 347 1 121 1-20 1-261 1 149 1 134 1-345 1-273 1 407 1 27 1-284 1 215 1-195 1 439 1-56 1-229 1-315 1-25 1 579 1 270 1-18 1-399 1-176 1-170 1 5 1 293 1 102 1 169 1-311 1 325 1-141 1-113 1-282 1 317 1-109 1 267 1-332 1 153 1 64 1 180 1 11 1 14 1-1 1-407 1 290 1-138 1-206 1 350 1 408 1-397 1 287 1-56 1-184 1-177 1 35 1 118 1-330 1 11 1-383 1 455 1 42 1 10 1-129 1 6 1 50 1-417 1 276 1 0 1 58 1 212 1-204 1 494 1-441 1 397 1-85 1-138 1 67 1 40 1-373 1-460 1 79 1 241 1 300 1 183 1-361 1-108 1-152 1-3 1-75 1 402 1 244 1 174 1-139 1-31 1-85 1 258 1-185 1-237 1 47 1 657 1-281 1-65 1-322 1 84 1-139 1 163 1-81 1-187 1 189 1-37 1 14 1-95 1 119 1-76 1 487 1-120 1-301 1-115 1 314 1 120 1-212 1-97 1-73 1 55 1 18 1-202 1 345 1 275 1-405 1 200 1-229 1 195 1 194 1-503 1 114 1 361 1-89 1-55 1-18 1-94 1 251 1-70 1-201 1-139 1 52 1 226 1 378 1-588 1 290 1-6 1-108 1-152 1 30 1 194 1-78 1-517 1-355 1 437 1 23 1 552 1-167 1-197 1 131 1-414 1 6 1 62 1 760 1-72 1-336 1 104 1 338 1-97 1-523 1-72 1-78 1 112 1-264 1 864 1 70 1-669 1-138 1 113 1 189 1 426 1-100 1-115 1 120 1-460 1-152 1 221 1-158 1 135 1-4 1 168" fill="none" stroke="#A99ED0" stroke-width="1.10" vector-effect="non-scaling-stroke"/>
<path transform="translate(70.50,0) scale(0.08643,0.1)" d="M0,661 l1 664 1 26 1-253 1-125 1 537 1 115 1-135 1 92 1 16 1-86 1-65 1-317 1 476 1-386 1 97 1-135 1 143 1-538 1 669 1-341 1 198 1 51 1-349 1 193 1-154 1-201 1 362 1-411 1-34 1 318 1 58 1 241 1-107 1-185 1-123 1 115 1 226 1 141 1 141 1-82 1-241 1 148 1 96 1 133 1-302 1 37 1 327 1-454 1-216 1 128 1 147 1 2 1 203 1-335 1-254 1-46 1 156 1 79 1-28 1-280 1 426 1 37 1 170 1 203 1-247 1-304 1 343 1-291 1-74 1 9 1-197 1 357 1-334 1 278 1-64 1 438 1-348 1 39 1 153 1 182 1-187 1-347 1 6 1 200 1 196 1 161 1-81 1 247 1-153 1-408 1 57 1 49 1 126 1-233 1-98 1-227 1 364 1 276 1 25 1 153 1-190 1-8 1 93 1-137 1-305 1-88 1 259 1-19 1-73 1-115 1 170 1 297 1-218 1 186 1-41 1-44 1-290 1 169 1-59 1 56 1 103 1-269 1 167 1-128 1-21 1 470 1 190 1-701 1 575 1-271 1 40 1 20 1-36 1 52 1-107 1-54 1 165 1-438 1-126 1 256 1-452 1-290 1 128 1 74 1 436 1 158 1 363 1-80 1-353 1 134 1 353 1-562 1-363 1-80 1 645 1-208 1 269 1-21 1-200 1-287 1 342 1 109 1 260 1-156 1 144 1-37 1-301 1 23 1-18 1-45 1-141 1-201 1 474 1 337 1-310 1-196 1-255 1 9 1-209 1 171 1 344 1-198 1 329 1 118 1-188 1 56 1-241 1 175 1-410 1 439 1-171 1 178 1-335 1 282 1-162 1 807 1-145 1-614 1 24 1 35 1-164 1-426 1 580 1 60 1 115 1-206 1 216 1 302 1 142 1-423 1-110 1-202 1 456 1 69 1-46 1-338 1-78 1 100 1 239 1-151 1 75 1-271 1-330 1 203 1 382 1-601 1 94 1 69 1 130 1 52 1 43 1-16 1 390 1 17 1-132 1-121 1-71 1-88 1 465 1 39 1-48 1-205 1-29 1-507 1 281 1 110 1 350 1-588 1 100 1 95 1 167 1-82 1 58 1-326 1 295 1 63 1 54 1-227 1-56 1-175 1 12 1 0 1 116 1-134 1 28 1 48 1 462 1-26 1 37 1 274 1-569 1-317 1-77 1 79 1-168 1 632 1-351 1 571 1-209 1-95 1-136 1-100 1-63 1 288 1 138 1 105 1-165 1 25 1 294 1-429 1 260 1-17 1 49 1 25 1-286 1 144 1 240 1-55 1 56 1 143 1-482 1-296 1 439 1-460 1-290 1 582 1-117 1 99 1-201 1 751 1-429 1 9 1-186 1-185 1 641 1-202 1-112 1-192 1-217 1-23 1 334 1-168 1 248 1-221 1 102 1 52 1-44 1 368 1-104 1 146 1-407 1-280 1 473 1 416 1-352 1 7 1 85 1-684 1 268 1 272 1-33 1-144 1-363 1 105 1 404 1 30 1-511 1 553 1-106 1-329 1 40 1 129 1 216 1-128 1-146 1-6 1-183 1 93 1-200 1 160 1-93 1 231 1-351 1-65 1 94 1 426 1-53 1 680 1-242 1-240 1 113 1-175 1-202 1-360 1 225 1 470 1 411 1-288 1-384 1-242 1 109 1 227 1 123 1-66 1-86 1-157 1 29 1-411 1 211 1 30 1-110 1-33 1 344 1 391 1 124 1-316 1-208 1-48 1-126 1-176 1 377 1-562 1-305 1 276 1 349 1 78 1 413 1-116 1 132 1-97 1 2 1-537 1 391 1-68 1 127 1-386 1-75 1 547 1 151 1-209 1 98 1-193 1-13 1 256 1-49 1-199 1 24 1-36 1-70 1 76 1-294 1 443 1-170 1 138 1-139 1-169 1-38 1-28 1-33 1 35 1 190 1-123 1-116 1-33 1 115 1 58 1 541 1 7 1-136 1-339 1-214 1 132 1 352 1-188 1-207 1-53 1 304 1 238 1 79 1 80 1-430 1-59 1-447 1-108 1 90 1 428 1-90 1 3 1 421 1 180 1-31 1-466 1 140 1 295 1-185 1-209 1 306 1-554 1 326 1-246 1-39 1 302 1 12 1-25 1 73 1-215 1 50 1 431 1-198 1 182 1-116 1-163 1-4 1-258 1 120 1 160 1-412 1 2 1 197 1 67 1 126 1-46 1 213 1-511 1-135 1 721 1 69 1-172 1 50 1 361 1-459 1 197 1-326 1-111 1-297 1 398 1-416 1 484 1-377 1-90 1 97 1 395 1-416 1-25 1 548 1 486 1-196 1-53 1-383 1-62 1-71 1 152 1-255 1 217 1 322 1 364 1-482 1 15 1 259 1-60 1-141 1-317 1 483 1-150 1-336 1-108 1-133 1-331 1 479 1 181 1-292 1-270 1 155 1 226 1 304 1-254 1-65 1 290 1 20 1 114 1-299 1 16 1-307 1-179 1 142 1-125 1-30 1-119 1 388 1-57 1-306 1 116 1 301 1 0 1-465 1 375 1 242 1-228 1 177 1 359 1 183 1-272 1 11 1-472 1 234 1 297 1 9 1 109 1-494 1 198 1-422 1 3 1-334 1 321 1-57 1 641 1-49 1 38 1-414 1 86 1-141 1 247 1 254 1-148 1-392 1 114 1-314 1 277 1 144 1 72 1 15 1 105 1-50 1 106 1 103 1-532 1-119 1 210 1 175 1 306 1-338 1 119 1-535 1 570 1-190 1-295 1 252 1-461 1 4 1 5 1 425 1-219 1-105 1 146 1-307 1 180 1 684 1-253 1-450 1 314 1-152 1 240 1-25 1 608 1 97 1-296 1-84 1 254 1-462 1-149 1 208 1 376 1-417 1 37 1-260 1-222 1 228 1 89 1-182 1 144 1 467 1-357 1-111 1 150 1-175 1 121 1 67 1-241 1 378 1 246 1-212 1 162 1-420 1 159 1 307 1-151 1 344 1-653 1-7 1-166 1-45 1 50 1 310 1-264 1 124 1 161 1 373 1-575 1 61 1 70 1 378 1-462 1 8 1-252 1 113 1 243 1-203 1 388 1 190 1-245 1-308 1-239 1 156 1 85 1-32 1 78 1 107 1-176 1 142 1 5 1-321 1 63 1 201 1-178 1 103 1-136 1 284 1 122 1 210 1-477 1-302 1-102 1 139 1 105 1 152 1-111 1 120 1 249 1-333 1-144 1 13 1 141 1 143 1-37 1-45 1 291 1-17 1 129 1-428 1 345 1 140 1-3 1-238 1 128 1-544 1-40 1 689 1-249 1-152 1 289 1-121 1-100 1 114 1-65 1-131 1 127 1-38 1 238 1-294 1 139 1-350 1-366 1-96 1 436 1 16 1 164 1-80 1 251 1 168 1-134 1 103 1-407 1-91 1 43 1 131 1 71 1-223 1 91 1 59 1-391 1 196 1 188 1 87 1-297 1 253 1 122 1-295 1-163 1-138 1 444 1-71 1 192 1-127 1 388 1-118 1-348 1 23 1 604 1-470 1-91 1 98 1-12 1 66 1-301 1 118 1 414 1 38 1-544 1-158 1-5 1 357 1-123 1-172 1 124 1-81 1-133 1-44 1 110 1 52 1 410 1-7 1-260 1-327 1 181 1-114 1 186 1 314 1-159 1-86 1 263 1 125 1-144 1 54 1-202 1 320 1-333 1 159 1-141 1 363 1-383 1-26 1-445 1 631 1 354 1-400 1-240 1 487 1-281 1-232 1-223 1 177 1 468 1 323 1-751 1 6 1-128 1 232 1 96 1 42 1 186 1-53 1 160 1-78 1-385 1 53 1 186 1-452 1-130 1 220 1 515 1-430 1-219 1 320 1-296 1 363 1 54 1 71 1-111 1 18 1-347 1 230 1-65 1 58 1-16 1 235 1-62 1-353 1-50 1 428 1 40 1 157 1 14 1-11 1 126 1-319 1-260 1 40 1 163 1-62 1 177 1-320 1-454 1 909 1-239 1-43 1-55 1 80 1 317 1-163 1-9 1-62 1-53 1 75 1-593 1 504 1 58 1 230 1-138 1-456 1 133 1 245 1 235 1-306 1 131 1-238 1 181 1 53 1-80 1 317 1-483 1 288 1-148 1-141 1-502 1 174 1 5 1 307 1 71 1 5 1-240 1 345 1-144 1-626 1 550 1 474 1-62 1-118 1-466 1 33 1-132 1 353 1 24 1-62 1 225 1-143 1 57 1-87 1 323 1 307 1-617 1-10 1 26 1-592 1 57 1 156 1 328 1-70 1-4 1 107 1-326 1-12 1 35 1 331 1 136 1-339 1 28 1 192 1-102 1 14 1 111 1-2 1-213 1-11 1 264 1 104 1-180 1 212 1-158 1-23 1 255 1 375 1-163 1-267 1-135 1-351 1 107 1 71 1-64 1 151 1-411 1 313 1 220 1 31 1-371 1 215 1 152 1-227 1-247 1 237 1-133 1 239 1-343 1 385 1 13 1 42 1 133 1-124 1-230 1 222 1-504 1 122 1 41 1 270 1-24 1-226 1 313 1 86 1 75 1 145 1-363 1 141 1-481 1 412 1 2 1-87 1 191 1 354 1-159 1-220 1 99 1-225 1 367 1-303 1-555 1-23 1-20 1 295 1 163 1-268 1 195 1-122 1 304 1-155 1-31 1 525 1-211 1-260 1-124 1-24 1-218 1 196 1 255 1-250 1-398 1 356 1-241 1 262 1 426 1 79 1 32 1-440 1 18 1 157 1-74 1-325 1 172 1 231 1-128 1 205 1-199 1-210 1 77 1 177 1-35 1 329 1-510 1-433 1 312 1 626 1 0 1 174 1 184 1-300 1-144 1 33 1-376 1 54 1 256 1-187 1 286 1-63 1 77 1-216 1 20 1 80 1-151 1-122 1-10 1-202 1 388 1-133 1-354 1 198 1 601 1-419 1 57 1-165 1 3 1-77 1-174 1 159 1-69 1 437 1 127 1-111 1-440 1 324 1 54 1-202 1 168 1 259 1 280 1-482 1 192 1-237 1-157 1 264 1-195 1 487 1-214 1 103 1-236 1-111 1-51 1-125 1 222 1 294 1 100 1-455 1 233 1-40 1-179 1 26 1 201 1 354 1-512 1 87 1 280 1-82 1-197 1 356 1-297 1-119 1-159 1 19 1 238 1 262 1-192 1-23 1-475 1 174 1-71 1 45 1 430 1-350 1 99 1 273 1-283 1-328 1 143 1 108 1 135 1 19 1-337 1 63 1-44 1-57 1 761 1-316 1-250 1-46 1 362 1 23 1-318 1-100 1-56 1 329 1-154 1-341 1 146 1-222 1-1 1 8 1 341 1 165 1 88 1-365 1-206 1 412 1 261 1-187 1-359 1 54 1-55 1 7 1-18 1 151 1-63 1-77 1 140 1-332 1 450 1 72 1 140 1-359 1-184 1 320 1-25 1 106 1 257 1 4 1-253 1-179 1 201 1-63 1-216 1-233 1 115 1 316 1 329 1-203 1-17 1 52 1 50 1-4 1-161 1-198 1 235 1-481 1-143 1 301 1 27 1-257 1 414 1 141 1 69 1 123 1-323 1 46 1-47 1-21 1 53 1-356 1 197 1 252 1 242 1-34 1-211 1-102 1-77 1 119 1-131 1-70 1 334 1-190 1-98 1 103 1-253 1 105 1 233 1-261 1-316 1 494 1 5 1-209 1-45 1-113 1-122 1 630 1-238 1 398 1 47 1 55 1-321 1 316 1-234 1 243 1-661 1 233 1 2 1 260 1-4 1-424 1 27 1 327 1 17 1-69 1-461 1 187 1-30 1-153 1-374 1 201 1 485 1 224 1-490 1 44 1 544 1-43 1-34 1-43 1-242 1-127 1-214 1 617 1-181 1 21 1 203 1-325 1 323 1 176 1-587 1-22 1-104 1-163 1 501 1-345 1 112 1-41 1-82 1-3 1 227 1 32 1-25 1-213 1 628 1-502 1 277 1-561 1 100 1-236 1 328 1-278 1 157 1 79 1 30 1 679 1 113 1 88 1-341 1-101 1-286 1-37 1-219 1 329 1-73 1 155 1 228 1 252 1-252 1 62 1-57 1 68 1 65 1-852 1 202 1 407 1-49 1-72 1 301 1-421 1 239 1-208 1 119 1 140 1-845 1 449 1 432 1-11 1 103 1-421 1-63 1 337 1-501 1 203 1 346 1-371 1-87 1 336 1 194 1-123 1 55 1-250 1-64 1 303 1 127 1-126 1-415 1 233 1-165 1 201 1-146 1 157 1-148 1 226 1 80 1-570 1-56 1 469 1-319 1 148 1-273 1 478 1-44 1 53 1 89 1 150 1-633 1 127 1 134 1 373 1-448 1-225 1 182 1 366 1-261 1-1 1 333 1-644 1-11 1 386 1 152 1-288 1-238 1 17 1 23 1 216 1-452 1 309 1 39 1-18 1 143 1-172 1-262 1 731 1-95 1-383 1-227 1 315 1-103 1 58 1 39 1 196 1-275 1-182 1-182 1 212 1 135 1-159 1-580 1 520 1 227 1-310 1 506 1 573 1-517 1-353 1-161 1-8 1-26 1 396 1-199 1 366 1 314 1-149 1 169 1 42 1-82 1-94 1-175 1 180 1-7 1-104 1-123 1-133 1-134 1 56 1-23 1-61 1 126 1 17 1 259 1-132 1-237 1 256 1-323 1 257 1-235 1-254 1 203 1 243 1-70 1 158 1 195 1-347 1 501 1-392 1 187 1-296 1 180 1-442 1 310 1 553 1-903 1 209 1 141 1 44 1 93 1-94 1 193 1-574 1 370 1-122 1-219 1 247 1-126 1 260 1 234 1 72 1-394 1-190 1 353 1-263 1 308 1-95 1-165 1 548 1-339 1 42 1 291 1-348 1-84 1-58 1 117 1 149 1 222 1-137 1 120 1-79 1-233 1-206 1-17 1 23 1 139 1-209 1-157 1 303 1 138 1 194 1-60 1 3 1-545 1-136 1 551 1-210 1 126 1 406 1-252 1 87 1-182 1-140 1 198 1-391 1 115 1 267 1 328 1-717 1 333 1-32 1-65 1-171 1 426 1 461 1-349 1 191 1-181 1-626 1 295 1-143 1 337 1-767 1 385 1 15 1 130 1 173 1-297 1 149 1 233 1 29 1-37 1-110 1-63 1 186 1 25 1-578 1 245 1-247 1 290 1-37 1 207 1 413 1-118 1-386 1-281 1-97 1 325 1 112 1 244 1-203 1-225 1 23 1 235 1-146 1-3 1-89 1 107 1-36 1 194 1 123 1 450 1-404 1-191 1 161 1-493 1-173 1-202 1 318 1 190 1-40 1-158 1-212 1 458 1 48 1 450 1-180 1-360 1-128 1-448 1 160 1 333 1 243 1-113 1-376 1 480 1 171 1-152 1 20 1-273 1 175 1-30 1-2 1-53 1-291 1 466 1 334 1 111 1-220 1-203 1-198 1-48 1 18 1 448 1-34 1-267 1 250 1-48 1-36 1-230 1 200 1 282 1-158 1-98 1-306 1 176 1 4 1 67 1 26 1-574 1 772 1-333 1 152 1-124 1 309 1-244 1 109 1-260 1-314 1 443 1 303 1-480 1-426 1 234 1 594 1 180 1-488 1-427 1 218 1 390 1-380 1 387 1 38 1 8 1 5 1-268 1 213 1-151 1-291 1-146 1-132 1 329 1 471 1-200 1-109 1-69 1 121 1-134 1 274 1-287 1-362 1 193 1 115 1-76 1-19 1-14 1 77 1 149 1-350 1 460 1-302 1 303 1-154 1 250 1 262 1 13 1-7 1-531 1 178 1 112 1 120 1-157 1-80 1-173 1 201 1 217 1-152 1-290 1-116 1 338 1 57 1-161 1 128 1 252 1-239 1 6 1-145 1-200 1 207 1 250 1 39 1-331 1-11 1-160 1 176 1-160 1 198 1 135 1-77 1-12 1 20 1-56 1-234 1 254 1 373 1-308 1-488 1-55 1 484 1-133 1-217 1-60 1-241 1 102 1 879 1-327 1 144 1 107 1 233 1 18 1-198 1-434 1-227 1-5 1-133 1 306 1 255 1-501 1 79 1 227 1-139 1 272 1-395 1 462 1 55 1-53 1-24 1 229 1-368 1-130 1 63 1-87 1 194 1-230 1 237 1 232 1-88 1-40 1-146 1-147 1-307 1 538 1 329 1-265 1-368 1-121 1 198 1 129 1 76 1-434 1 234 1-4 1 350 1-314 1 82 1 71 1 43 1-17 1-656 1 149 1 63 1 355 1 326 1 331 1-191 1-267 1-148 1 309 1-324 1 113 1-328 1 151 1 7 1 180 1 79 1-125 1-185 1-125 1 261 1 252 1-252 1-321 1 242 1 106 1 56 1-148 1-215 1 321 1-150 1-302 1 39 1 328 1 318 1-178 1-387 1-68 1-180 1 318 1 62 1 227 1-194 1 72 1 169 1-6 1-218 1-181 1-69 1-384 1 163 1 459 1-222 1 324 1 217 1-302 1 144 1-63 1 84 1-30 1 333 1-426 1-287 1 186 1-243 1-34 1-94 1-111 1 554 1-183 1 124 1-141 1 159 1-445 1-132 1 310 1 52 1 74 1 32 1-137 1 360 1 281 1-432 1-42 1 159 1 130 1 247 1-148 1 253 1-294 1-179 1 127 1-316 1-99 1 78 1 252 1 106 1 119 1 289 1-297 1-310 1 353 1-246 1 14 1-74 1-172 1-132 1 296 1-173 1 177 1 573 1-752 1 77 1 119 1-316 1 43 1 251 1-48 1-50 1 94 1 540 1-302 1 96 1 72 1-211 1-582 1 468 1-108 1 352 1 205 1-178 1-381 1-45 1-23 1-225 1 54 1 271 1 218 1-37 1-167 1 70 1 15 1 80 1 96 1 137 1-23 1-595 1-138 1-139 1 218 1 162 1-130 1 204 1-242 1 108 1-96 1 307 1-434 1 148 1-30 1 304 1 140 1-245 1 408 1-449 1 191 1-257 1 238 1-19 1-39 1-208 1 297 1-170 1-26 1-122 1 303 1-38 1 148 1-6 1-332 1-192 1 383 1 18 1-11 1 192 1-29 1 139 1-299 1 192 1-439 1 545 1-301 1-158 1 205 1 340 1-253 1 190 1-428 1 8 1 32 1-12 1-151 1 100 1-79 1 2 1 201 1-266 1-244 1-12 1 217 1-17 1 385 1 138 1 82 1-26 1-332 1 208 1 62 1 227 1-70 1 184 1-482 1-6 1-246 1-221 1 90 1 76 1 83 1 167 1 475 1-291 1 53 1 92 1-47 1-148 1-234 1 260 1 190 1-428 1-97 1-103 1 188 1 344 1-436 1-199 1 312 1-70 1-188 1-406 1 83 1 187 1 265 1 186 1 4 1 136 1-222 1-2 1 83 1 215 1-144 1 27 1-149 1 225 1-252 1 52 1-430 1 385 1-420 1-420 1 445 1-243 1 79 1 566 1 134 1-286 1 14 1-121 1 38 1-213 1 275 1 320 1 72 1-106 1 143 1-124 1-22 1 13 1-54 1 50 1-283 1 58 1-121 1 433 1-111 1 57 1 359 1-714 1 395 1-281 1-126 1-153 1 281 1 614 1-406 1-40 1-190 1 87 1-281 1 32 1 210 1-512 1 415 1 565 1-235 1-199 1-119 1 188 1-23 1 173 1-9 1-246 1 142 1-206 1 113 1-18 1 83 1-288 1 88 1 245 1-81 1-277 1 67 1 330 1 98 1 111 1-479 1 24 1-142 1-59 1 228 1-205 1 170 1-13 1 520 1-169 1-13 1 74 1-180 1 241 1-102 1 461 1-289 1-38 1-563 1 66 1-59 1 761 1-178 1 76 1-518 1-180 1 99 1 40 1 34 1 53 1-131 1-52 1 140 1 199 1-425 1 245 1 189 1-590 1 202 1 157 1 349 1 102 1-490 1 134 1-265 1 367 1-244 1 26 1 138 1 373 1-514 1 12 1 40 1-184 1 331 1-380 1-54 1 28 1 3 1 286 1 30 1-122 1 152 1-343 1-52 1-154 1 573 1-398 1 258 1 191 1-11 1-389 1 21 1 23 1-131 1-75 1-54 1 20 1 153 1 29 1 436 1-52 1 433 1-255 1-171 1 108 1 2 1-353 1 140 1-13 1-428 1 139 1-63 1 75 1 11 1-121 1 243 1-94 1 229 1 99 1-180 1 186 1 542 1-261 1-470 1 279 1-216 1 107 1 310 1-111 1 385 1-584 1 62 1-139 1 17 1 339 1-73 1-387 1-111 1 209 1 183 1-52 1 246 1-222 1 310 1-42 1-376 1 1 1 146 1-105 1 39 1-96 1-233 1 147 1 429 1-258 1 144 1-362 1-144 1 150 1-31 1 411 1 268 1-177 1-241 1-346 1 277 1 196 1 81 1 17 1-197 1 258 1-357 1 283 1-653 1 204 1 53 1 414 1-224 1 376 1-423 1 118 1-139 1-127 1-158 1-171 1-36 1 66 1 335 1 283 1-276 1-45 1 165 1-20 1-231 1-108 1 280 1 299 1 283 1-182 1-123 1 162 1-448 1-409 1 386 1-141 1 118 1-93 1 41 1 78 1-189 1-41 1 226 1-86 1 198 1-26 1-156 1-47 1 424 1-262 1 264 1-182 1-199 1 389 1 100 1-368 1-74 1 494 1-426 1 136 1 192 1-222 1 87 1-106 1-102 1-531 1 67 1 182 1 126 1 8 1-27 1 233 1-135 1 198 1 73 1-70 1-281 1-97 1 791 1-530 1-9 1-9 1-310 1 328 1 236 1 326 1-15 1-450 1 137 1 118 1-256 1 183 1 36 1 28 1-252 1 116 1 17 1-62 1 336 1-183 1 253 1-7 1-163 1-213 1-23 1-302 1 58 1-72 1 197 1 135 1-446 1 512 1-367 1 243 1-193 1 337 1-227 1-74 1 501 1-75 1-322 1-244 1 38 1 209 1-9 1 272 1 68 1-235 1-68 1-190 1 21 1-79 1 111 1-102 1-459 1 531 1 16 1 142 1-143 1-64 1 249 1-90 1-57 1 41 1-73 1-275 1 34 1 209 1-7 1-392 1 382 1-194 1 298 1 356 1-24 1-239 1 8 1 107 1 71 1 76 1 60 1-70 1 381 1-455 1-196 1-56 1-207 1 229 1-15 1 567 1-334 1-36 1-241 1-173 1 140 1 310 1-199 1-211 1-121 1 258 1 217 1-35 1 153 1 323 1-395 1-214 1-155 1 258 1-52 1 234 1 176 1-342 1 336 1-160 1-676 1-86 1 76 1 53 1 205 1 189 1-483 1 248 1 211 1-173 1 74 1-265 1 296 1 190 1 1 1-443 1-74 1 110 1 93 1-10 1 286 1-185 1 129 1-97 1-2 1-63 1 137 1-244 1 9 1 254 1-141 1 102 1-109 1-158 1 217 1 7 1-18 1-3 1-443 1 151 1 405 1-75 1 108 1-606 1 376 1 292 1-260 1 147 1 42 1-11 1 91 1-12 1 388 1-269 1-300 1-421 1 188 1-75 1 305 1-330 1-339 1 252 1 275 1 50 1-306 1 464 1-326 1 339 1 133 1-176 1-171 1-157 1-180 1 475 1-29 1-169 1 26 1-177 1 153 1 150 1 505 1 172 1-503 1 177 1-233 1-193 1 74 1-213 1 260 1-143 1 87 1 344 1 287 1-257 1-531 1-163 1 71 1-35 1-42 1 234 1-228 1 118 1 230 1-853 1 281 1 315 1-40 1 420 1 212 1-591 1-8 1 374 1 308 1-182 1 119 1-467 1 490 1-455 1 272 1 188 1-193 1 196 1-54 1-32 1 401 1-75 1-379 1 351 1 17 1-90 1-456 1-228 1-241 1 428 1-184 1 38 1 363 1-226 1 5 1 150 1 169 1 204 1-372 1-173 1 77 1 60 1 79 1-266 1-6 1 441 1-199 1-186 1 148 1 46 1 48 1-250 1 107 1-30 1-41 1-348 1 511 1-607 1 492 1 24 1 144 1-139 1-164 1-483 1 15 1 428 1 11 1 29 1 190 1-187 1-21 1 149 1 130 1-250 1 61 1-264 1-58 1 437 1 420 1-273 1 26 1 94 1-24 1-500 1 125 1-415 1 44 1 589 1-197 1-334 1 570 1 169 1-176 1 11 1-501 1 326 1-415 1 492 1 123 1-206 1-146 1 10 1-325 1-209 1-140 1 396 1-21 1 248 1-261 1 716 1-18 1-108 1 8 1-467 1 441 1 91 1 132 1-196 1 98 1-370 1-173 1 593 1 300 1-516 1-162 1 368 1-168 1 188 1-367 1 296 1-10 1-253 1-30 1-241 1 22 1 444 1-170 1 224 1-470 1-265 1-33 1-256 1 188 1-59 1 91 1 58 1 33 1 147 1-268 1 520 1 368 1 4 1-531 1 154 1 201 1 108 1-243 1-3 1-286 1 202 1-179 1 312 1-161 1-646 1 409 1 188 1-155 1 366 1 63 1 51 1-155 1 290 1-489 1 49 1 13 1 85 1 13 1 522 1-550 1 212 1-280 1 81 1 54 1-134 1-334 1 234 1 227 1-123 1 602 1-62 1-2 1-143 1 157 1-422 1 49 1-76 1-10 1 69 1 112 1-384 1-87 1-194 1 276 1 40 1 1 1 156 1 12 1 364 1 84 1-18 1 41 1-335 1-152 1-86 1 108 1-233 1-96 1 31 1 219 1-314 1 460 1 330 1 91 1-521 1-10 1 150 1 466 1-240 1 53 1 274 1-581 1-51 1-333 1 152 1-55 1 255 1-170 1 147 1-154 1 11 1 302 1-102 1-84 1 154 1-56 1-263 1-201 1 164 1 609 1-378 1-434 1 250 1 266 1-129 1-44 1-173 1 254 1-409 1-17 1 426 1-249 1 138 1-116 1 16 1 78 1-21 1 157 1 149 1-39 1-8 1-156 1-33 1 392 1-358 1 19 1-193 1-57 1 64 1-35 1 433 1-456 1-315 1 136 1 326 1-109 1 178 1-354 1 288 1 307 1 78 1 20 1-320 1 13 1-67 1 106 1-320 1 132 1 20 1-294 1 139 1 254 1 65 1-279 1 31 1 275 1-300 1 441 1 377 1-75 1 168 1-297 1-201 1-32 1 53 1 134 1-378 1 461 1-375 1-81 1 33 1-100 1 401 1-370 1-79 1-175 1 626 1-207 1-16 1 479 1-202 1-189 1 96 1-216 1-149 1 154 1 54 1-224 1 282 1-193 1-282 1 165 1-9 1 74 1-142 1 452 1 272 1-55 1-82 1-398 1-289 1 33 1-133 1 306 1 182 1 317 1-449 1-84 1 88 1 338 1 96" fill="none" stroke="#542788" stroke-width="1.10" vector-effect="non-scaling-stroke"/>
<path transform="translate(70.50,0) scale(0.08643,0.1)" d="M0,1298 l1-249 1 80 1 241 1 228 1-151 1-444 1-300 1 462 1-51 1 253 1-95 1 649 1-170 1 180 1-645 1 93 1-145 1 24 1 321 1-281 1-244 1 71 1-38 1-146 1 49 1 180 1 430 1 39 1 0 1-343 1-302 1 144 1-146 1 689 1-257 1 199 1-378 1-262 1-101 1 23 1-67 1-182 1 429 1-257 1 297 1 384 1-252 1-164 1 16 1 225 1-171 1 103 1-552 1 196 1 85 1 250 1-126 1-303 1 384 1 113 1 404 1-209 1-483 1 390 1 16 1 89 1-60 1 82 1-52 1 146 1-226 1-282 1-96 1 544 1-444 1-87 1-137 1 384 1 128 1-222 1-351 1 430 1-61 1-66 1 144 1-85 1 150 1-327 1 487 1-188 1 90 1-56 1 162 1 551 1-739 1-192 1-28 1 87 1-34 1 123 1-36 1-305 1 300 1 204 1-512 1 273 1-23 1 76 1-133 1-78 1 78 1 284 1 136 1-161 1-471 1 572 1-90 1-172 1 146 1-106 1 22 1-190 1-288 1 298 1 11 1-27 1 51 1 59 1 511 1-244 1 138 1-72 1-229 1-144 1 156 1 81 1 1 1 172 1-495 1-290 1 287 1-259 1 58 1 442 1-224 1-56 1 87 1 404 1 10 1 386 1-314 1-99 1 135 1 98 1-528 1 372 1-316 1-18 1-261 1 508 1-132 1-321 1 155 1 356 1 299 1-130 1-449 1-339 1 158 1-106 1-78 1 49 1 347 1-176 1 299 1-101 1-203 1-166 1 185 1-188 1-182 1 33 1 243 1 41 1 84 1 35 1-133 1-149 1 167 1-81 1 70 1 56 1 281 1-163 1 29 1-75 1-198 1-42 1-13 1 266 1 379 1-81 1-124 1-108 1-313 1 79 1-213 1 303 1 302 1-283 1 302 1 250 1-100 1-249 1-294 1 95 1-151 1 130 1 423 1 94 1 174 1-239 1 300 1 4 1-130 1-449 1-144 1 132 1-62 1 68 1-628 1 663 1 414 1 185 1-18 1-247 1-408 1 57 1 36 1-7 1-79 1 207 1-238 1 32 1-48 1-92 1-50 1-74 1 331 1-131 1 382 1 313 1-224 1-285 1-158 1-52 1-134 1 511 1-13 1-77 1 90 1-206 1-159 1-19 1 33 1-469 1 259 1 140 1-193 1-229 1 486 1 261 1-386 1-143 1-11 1 237 1-83 1 413 1 149 1-520 1 359 1-63 1-205 1-32 1 293 1 36 1-239 1 104 1-406 1 190 1-335 1 237 1-156 1 96 1 130 1 377 1-235 1-8 1-64 1 165 1 171 1 91 1-142 1-294 1 129 1 234 1 57 1 98 1 156 1-196 1-37 1-83 1-536 1-61 1-143 1 241 1 67 1 268 1 345 1 133 1-201 1-285 1-531 1 244 1 442 1-33 1-211 1 261 1-18 1-227 1-29 1-85 1 39 1 37 1-287 1-42 1 121 1-1 1 127 1 63 1-71 1 8 1-512 1 249 1 86 1-335 1 503 1 23 1-241 1 109 1 110 1 228 1-73 1 123 1-323 1-57 1 159 1-237 1 357 1 145 1-280 1-38 1 293 1 60 1-83 1 49 1-162 1-11 1-137 1 53 1-65 1 140 1-109 1-46 1-101 1 27 1 176 1 16 1-290 1 197 1 26 1-318 1 46 1 14 1 349 1 178 1-169 1-485 1 613 1 281 1-348 1-108 1 216 1-302 1 5 1 148 1-12 1 94 1-136 1 151 1 169 1-5 1-239 1-284 1 241 1 204 1-184 1-270 1 190 1-316 1 339 1-310 1 5 1 521 1-224 1 52 1 16 1 129 1-99 1 97 1-123 1-263 1-199 1-42 1 30 1 110 1 193 1 296 1-315 1 158 1-57 1 309 1-238 1-323 1 158 1-137 1 160 1 12 1 145 1 548 1-384 1-218 1-130 1-308 1 15 1 107 1 297 1-628 1 612 1 95 1 72 1-304 1 8 1-41 1 477 1-28 1-353 1 158 1 240 1-195 1 75 1-91 1-123 1 230 1-90 1-349 1 176 1 78 1 115 1-139 1-109 1 248 1-94 1-384 1 530 1-311 1-133 1 462 1 258 1-107 1-478 1 203 1-45 1-41 1 24 1-442 1 153 1 394 1-123 1-139 1 307 1-122 1 111 1 211 1 18 1-366 1 30 1 340 1-350 1 52 1 605 1-106 1 228 1-267 1-876 1-281 1 248 1 370 1 257 1 34 1-201 1-324 1 103 1-213 1 197 1 532 1-266 1-288 1-49 1-138 1 377 1 44 1-44 1-93 1-96 1-139 1 237 1 263 1-4 1-56 1 27 1 119 1-338 1-190 1-100 1-3 1 51 1 244 1 112 1-97 1 423 1-251 1 365 1-658 1-63 1 246 1-10 1 102 1-403 1-106 1 171 1 216 1-133 1 4 1 70 1 139 1 297 1 108 1-85 1 157 1-74 1-638 1 68 1-113 1 227 1-312 1 111 1-93 1-114 1 90 1-285 1 488 1 113 1-126 1 67 1-89 1-422 1 334 1 41 1 196 1 163 1 324 1-366 1-386 1 107 1-205 1 458 1-23 1-20 1-205 1 50 1-84 1-249 1 447 1 4 1-110 1 180 1-139 1 400 1 36 1-148 1 269 1-742 1-306 1-18 1 84 1 25 1 273 1 128 1 465 1-424 1 34 1 413 1-45 1-318 1 311 1-87 1 322 1-211 1-196 1 418 1-151 1-344 1 8 1-404 1-68 1-97 1 479 1 175 1-194 1-138 1 163 1 13 1 173 1-23 1-205 1-333 1 26 1-58 1 150 1-23 1-114 1 359 1-236 1-36 1-110 1 72 1 282 1 90 1-60 1 537 1-107 1-100 1-64 1 67 1 52 1-148 1 2 1-426 1 79 1 55 1-173 1 115 1 44 1-241 1-75 1 220 1 353 1 21 1-245 1 360 1-112 1-114 1 262 1-463 1 87 1 325 1 45 1-289 1-353 1 59 1 53 1 110 1-341 1-100 1 583 1-66 1-153 1 91 1-94 1-94 1 295 1-332 1 82 1-160 1 93 1 127 1-250 1 86 1-220 1 103 1-293 1 502 1 61 1 216 1 179 1-190 1 269 1-166 1-388 1-28 1 220 1 49 1-187 1-279 1 258 1 46 1-57 1 119 1-58 1-11 1-234 1 300 1 4 1-56 1 205 1 17 1-58 1 282 1-69 1 105 1-82 1-4 1-43 1-281 1-257 1-40 1 336 1-78 1 308 1-244 1-160 1 155 1-6 1-171 1-67 1 246 1 161 1 288 1-147 1-19 1-136 1-191 1 330 1 26 1-77 1 235 1-188 1-28 1-198 1-167 1-90 1 162 1-27 1-6 1-185 1 532 1-77 1 72 1-151 1-279 1 40 1 37 1 199 1-121 1-42 1 246 1-230 1 122 1 419 1-207 1-253 1-114 1 12 1 44 1-130 1-46 1 495 1 9 1-172 1-49 1-219 1-148 1 110 1 169 1-368 1 370 1 24 1-450 1 77 1 45 1 153 1-185 1-465 1 330 1 284 1-161 1-241 1 212 1 365 1-73 1 209 1-274 1 116 1-100 1 46 1-139 1 547 1-236 1-88 1-65 1 344 1-436 1 217 1-133 1 146 1 5 1 56 1 282 1-71 1-459 1 301 1-123 1 347 1-444 1 313 1 109 1-164 1-233 1 286 1-122 1-198 1 15 1 177 1-176 1-233 1-378 1 34 1 667 1-319 1-102 1 107 1-32 1-109 1 246 1 334 1-45 1-224 1 155 1 97 1 183 1-302 1 200 1-88 1 69 1-409 1-140 1-353 1 479 1 301 1-122 1 297 1-44 1-278 1-3 1-176 1 261 1 70 1-37 1-233 1-174 1-110 1 186 1 274 1 71 1-58 1 310 1 22 1 187 1-350 1-159 1 170 1-326 1 26 1 61 1-143 1 0 1 305 1 68 1 200 1-346 1-15 1-230 1 238 1 223 1-390 1-134 1 433 1-332 1 221 1-376 1 33 1 258 1 49 1 8 1 611 1-485 1-27 1-245 1 657 1-442 1-72 1 215 1-567 1-34 1 367 1 154 1-225 1-376 1 89 1 252 1-363 1 343 1-248 1 17 1 183 1 196 1 91 1-74 1-344 1 143 1 250 1-359 1-113 1 150 1-179 1 142 1-288 1 279 1 276 1 74 1-86 1-49 1 133 1 56 1 200 1-67 1-507 1 144 1 245 1 54 1 50 1-117 1 102 1-388 1 242 1-4 1-377 1 137 1-214 1 211 1-109 1-357 1 498 1-68 1 322 1-71 1 103 1-122 1 228 1 316 1-432 1-113 1-317 1 82 1 62 1 243 1 234 1-215 1 180 1-472 1-245 1 73 1-114 1 230 1 214 1-542 1 314 1-178 1 369 1-81 1-140 1 487 1 208 1-72 1-114 1-148 1 106 1 50 1 90 1 45 1-287 1 52 1 153 1 95 1-35 1 162 1-319 1-204 1 281 1-34 1-55 1-286 1 199 1 10 1 157 1 66 1-35 1-892 1 32 1 186 1 111 1 455 1 106 1-332 1-4 1-241 1 121 1-60 1 66 1-59 1 5 1-157 1 280 1 74 1 139 1-80 1-145 1 13 1 456 1-50 1-59 1-77 1 30 1-44 1-307 1-83 1-225 1 565 1 153 1 125 1-442 1-154 1 208 1 96 1-133 1-298 1-201 1 386 1-149 1 167 1-315 1-381 1 266 1 119 1 769 1-315 1 350 1-73 1-363 1 366 1-697 1 299 1-147 1 223 1-165 1 203 1-16 1 499 1-485 1-181 1 141 1 62 1 206 1 24 1-206 1-118 1-155 1-173 1-50 1 107 1 67 1 155 1-244 1 318 1 173 1-167 1 313 1-93 1 222 1-37 1-992 1 654 1-262 1 224 1 235 1 195 1-372 1 35 1-70 1-401 1 473 1 410 1-303 1-428 1 56 1-250 1-66 1 143 1 318 1-44 1-246 1 21 1 125 1-27 1 75 1-150 1 161 1-338 1 108 1 100 1 490 1 328 1-277 1-78 1-570 1 312 1 207 1-291 1 489 1-228 1 195 1 432 1-3 1-370 1-216 1-49 1 122 1-155 1-127 1-14 1-357 1-32 1 409 1 144 1 137 1-175 1-285 1-265 1 182 1 265 1 235 1 245 1-630 1 148 1 110 1-469 1 317 1 37 1-99 1 459 1 118 1-971 1 160 1 602 1-10 1-113 1-214 1 49 1 266 1-130 1-315 1 226 1 236 1 106 1 323 1-632 1-112 1 38 1-39 1-262 1 233 1 330 1-377 1 571 1-149 1-417 1-290 1 214 1 110 1 65 1 63 1-2 1-338 1 32 1-258 1 128 1 272 1 115 1-492 1 380 1-178 1 356 1-159 1 123 1 79 1 136 1 42 1-181 1-365 1 39 1 307 1-146 1 590 1-249 1-648 1 721 1-106 1-349 1-376 1-46 1 357 1-292 1-131 1 365 1 88 1 265 1-1 1-380 1 383 1-340 1 19 1 5 1 220 1-196 1 105 1 65 1 350 1-192 1-3 1-282 1 25 1 60 1 131 1 84 1 69 1-286 1 343 1 176 1-302 1-416 1 42 1 136 1-450 1 181 1 291 1-21 1-200 1 215 1-159 1 179 1-20 1-47 1 603 1-532 1-119 1-26 1 47 1 120 1-298 1 156 1-116 1 522 1-569 1 114 1 41 1 316 1 131 1-230 1 720 1-662 1 123 1 74 1-149 1-496 1 132 1-132 1 466 1 85 1-291 1 313 1 491 1-190 1-168 1-117 1-271 1-118 1 184 1-134 1 87 1-11 1 236 1-247 1 101 1-304 1 444 1-352 1 344 1-192 1 253 1 81 1-326 1 366 1-393 1-467 1 83 1 551 1-220 1 57 1-33 1 26 1-234 1-261 1 178 1-158 1 350 1-473 1 516 1 288 1-18 1-279 1-179 1 488 1-165 1-119 1-548 1 371 1 434 1 278 1-193 1-258 1-65 1 37 1 179 1-80 1-58 1-593 1 297 1 375 1 43 1-28 1 415 1-263 1-179 1-82 1 219 1-57 1-153 1-201 1 20 1 375 1-268 1-329 1 243 1 652 1-455 1-274 1 93 1 144 1-282 1-70 1 153 1 110 1-27 1-204 1 101 1 348 1 47 1-151 1-127 1 154 1-223 1 202 1-263 1-291 1 49 1 190 1-13 1 610 1-507 1 276 1 170 1-42 1 108 1-156 1-13 1-56 1-304 1 20 1 239 1 27 1 161 1-336 1 310 1 0 1-465 1 208 1 0 1-79 1 444 1-192 1-274 1 44 1-73 1 301 1-63 1 50 1-48 1 278 1-20 1-259 1 123 1-204 1-325 1 121 1 99 1-69 1 305 1 65 1 159 1 28 1-558 1 275 1-34 1 58 1 48 1-7 1-20 1-136 1 76 1-120 1 65 1 63 1 10 1-417 1 434 1-16 1-195 1-64 1 306 1 176 1-140 1-340 1-77 1 140 1 132 1 38 1 5 1 275 1 136 1-221 1-545 1 94 1 482 1 99 1-176 1 115 1-212 1 105 1 65 1 149 1-309 1-134 1-81 1-103 1 125 1-230 1 373 1-202 1 152 1 91 1 89 1-230 1-35 1-215 1 330 1-81 1 214 1-218 1-304 1 364 1-266 1 328 1-383 1 98 1-39 1 340 1-421 1 163 1 160 1-235 1 264 1 23 1 34 1 106 1-356 1-308 1 420 1-341 1-66 1 284 1-78 1-335 1 407 1 187 1 188 1-578 1-57 1 367 1 40 1-156 1 122 1-249 1 115 1-204 1 97 1 74 1 214 1-98 1-154 1 443 1-245 1-280 1-63 1 80 1 171 1 275 1 100 1-68 1 116 1-194 1 32 1-27 1-345 1 50 1-84 1 479 1-255 1 173 1-437 1 450 1 69 1-309 1-422 1 549 1 6 1 116 1-450 1-324 1 214 1-28 1 316 1 268 1-224 1 95 1-212 1 118 1-282 1 175 1 55 1-179 1 78 1-217 1 316 1 229 1-278 1-52 1 207 1 220 1 17 1-126 1-16 1 173 1 38 1-280 1-263 1-217 1 383 1 260 1-225 1 79 1-190 1-127 1 216 1 56 1 340 1 163 1-401 1-492 1 561 1 227 1-89 1-300 1 402 1-200 1-384 1 581 1 55 1-369 1-272 1 276 1-223 1-126 1 435 1-58 1 73 1-22 1-122 1 223 1 278 1 34 1 2 1-236 1-360 1 130 1 105 1 10 1-266 1 57 1-8 1 149 1-60 1 44 1-307 1 80 1-207 1 59 1 69 1 462 1-95 1 109 1-361 1-39 1-31 1 104 1-272 1 585 1-292 1 93 1 181 1 28 1-130 1-139 1-242 1 259 1 147 1-308 1-176 1 375 1 120 1-161 1 52 1-184 1 219 1 88 1-760 1 39 1-88 1 214 1 334 1-232 1-193 1 278 1 157 1-104 1 92 1 355 1-301 1-177 1 475 1-540 1 369 1 209 1 35 1-174 1-73 1 318 1-237 1-188 1 154 1 434 1-42 1-115 1-374 1 81 1-163 1-608 1 320 1 203 1-140 1-148 1-95 1 239 1 407 1 347 1-54 1-143 1 121 1 122 1-189 1-68 1-6 1-532 1-74 1 461 1-263 1 106 1 199 1 52 1-698 1 273 1 309 1-7 1-205 1 34 1 94 1 209 1 44 1 181 1-221 1-218 1-99 1 65 1-280 1 64 1-10 1 366 1 27 1 30 1-326 1 103 1 60 1 45 1-373 1 278 1 187 1-131 1 2 1-324 1-112 1 129 1 166 1 41 1-277 1 69 1-14 1 672 1 58 1-190 1-273 1-140 1 53 1 444 1-194 1 108 1 359 1-100 1-160 1-212 1-237 1 13 1 46 1 137 1-41 1 224 1-298 1 8 1-228 1-8 1 206 1 38 1 6 1-15 1 572 1-74 1-682 1 69 1-263 1 306 1 378 1-87 1-31 1 78 1-403 1-257 1 348 1-420 1 22 1 480 1-257 1 20 1 89 1 407 1-253 1 144 1-501 1 385 1 295 1-290 1 219 1-486 1 294 1-220 1 275 1 30 1-134 1 123 1-251 1 186 1-382 1-73 1 525 1-549 1 102 1 310 1-97 1-11 1-161 1-91 1-121 1 489 1-98 1 151 1 286 1-28 1 45 1-300 1 3 1-146 1 27 1-36 1-96 1 241 1-26 1-10 1 75 1 145 1-216 1-186 1-367 1 186 1 81 1 344 1-59 1-327 1-331 1 170 1-176 1-96 1-147 1 229 1 421 1 35 1-218 1 292 1 27 1 194 1 37 1 216 1-477 1 175 1-87 1-134 1 115 1 236 1 11 1 108 1-209 1 61 1-360 1 152 1-121 1 267 1 326 1-161 1-372 1-191 1-144 1 289 1 134 1-42 1 83 1-156 1-144 1-96 1 344 1-338 1 591 1-58 1 20 1-102 1 3 1-314 1 270 1-203 1 318 1-89 1-134 1-202 1 380 1 420 1-665 1 258 1-15 1-34 1-370 1-34 1-124 1-92 1 140 1 232 1-236 1-42 1 134 1 547 1-4 1-234 1 88 1-275 1-522 1 311 1 96 1-65 1-239 1 760 1 13 1-425 1 116 1 437 1-289 1 273 1-368 1-199 1 206 1 282 1-239 1 77 1 24 1 80 1 17 1 118 1-350 1-244 1 328 1 261 1-330 1-285 1 25 1-124 1 18 1 172 1 161 1 194 1-55 1 351 1-555 1 308 1-160 1-102 1 52 1 15 1 176 1 5 1-261 1-118 1 398 1-86 1 340 1-208 1-138 1 252 1-503 1 380 1-392 1 453 1-310 1 440 1-96 1 132 1-296 1 106 1-83 1-140 1 206 1 14 1-182 1 179 1-213 1 384 1-668 1-124 1 517 1 109 1-45 1-229 1-156 1-151 1-97 1 466 1-56 1 45 1-149 1 95 1 416 1-85 1-713 1 200 1-167 1 203 1 149 1 7 1 58 1-215 1 188 1 412 1-412 1-128 1 150 1 15 1-198 1-13 1 300 1-377 1-458 1 342 1 400 1-265 1-207 1 410 1 345 1 137 1-123 1 75 1-105 1-53 1 245 1-318 1-398 1 575 1-114 1-7 1 68 1-152 1 178 1-330 1 97 1 203 1-222 1-39 1-318 1 127 1 184 1-421 1 170 1 52 1-221 1 343 1 69 1 186 1-518 1 374 1 244 1 129 1-601 1-134 1 332 1 176 1-604 1 363 1 30 1 184 1-630 1 407 1 364 1-181 1-115 1 77 1 133 1 317 1-53 1-654 1 470 1-430 1-445 1-8 1 213 1-106 1-47 1 562 1-152 1 276 1 382 1-499 1 152 1-166 1 270 1-387 1-100 1 160 1 215 1 63 1-166 1 102 1 134 1-295 1-96 1-199 1-66 1 434 1-78 1 188 1 203 1-238 1-27 1-171 1 105 1-197 1 92 1-50 1-206 1-260 1 347 1 543 1 172 1-547 1-392 1 5 1-143 1 346 1 214 1-307 1-38 1 30 1-1 1 143 1 440 1-411 1-8 1 219 1 54 1-278 1 204 1 209 1-239 1-223 1-130 1-45 1 97 1 158 1 467 1-163 1 23 1-497 1 234 1-68 1-142 1 363 1 190 1-452 1-212 1 541 1-122 1-347 1 310 1-35 1-29 1 88 1 82 1 525 1-81 1-215 1-231 1-470 1-389 1 48 1 291 1 435 1 15 1-278 1 134 1-22 1-241 1 373 1 137 1-427 1-4 1-92 1 106 1 342 1-356 1 209 1-99 1-67 1-8 1 356 1-189 1 306 1-211 1 59 1-400 1 272 1 38 1 23 1 408 1-174 1-129 1 101 1-88 1-141 1-95 1-85 1-156 1-97 1 272 1-3 1 80 1 137 1 77 1 169 1-200 1-271 1 173 1 100 1 148 1 163 1 33 1-269 1 279 1-592 1-117 1 112 1 201 1-236 1 158 1-431 1 250 1-8 1 285 1-288 1-12 1-8 1-267 1 434 1 434 1 246 1-161 1-158 1-74 1-229 1-247 1 280 1-297 1 246 1 221 1-274 1-164 1-43 1 354 1-355 1 40 1 284 1-41 1-56 1 24 1 133 1-436 1 264 1-61 1 65 1-37 1 398 1-605 1-191 1 249 1-141 1 164 1-80 1 162 1 404 1-10 1-10 1 22 1 306 1-244 1-300 1-106 1 210 1-444 1 195 1-30 1 112 1 189 1-114 1 182 1 127 1 235 1-336 1-266 1 13 1 82 1 2 1-228 1 180 1-9 1-97 1 57 1-70 1-107 1 153 1-409 1 367 1 33 1-38 1 45 1 263 1-124 1 155 1-97 1-201 1-149 1 96 1 149 1-503 1 244 1-300 1 419 1-14 1-302 1 389 1 263 1-343 1-306 1 13 1 89 1 258 1-65 1-146 1 203 1 374 1-414 1 294 1 185 1-98 1-392 1 328 1-129 1-464 1 87 1 181 1 220 1 274 1-507 1 343 1-151 1-260 1 213 1 23 1-258 1 68 1-205 1-84 1-122 1 578 1-91 1 6 1 61 1 362 1-158 1-391 1-128 1 301 1 20 1 12 1-197 1 229 1 106 1 223 1-373 1-427 1 112 1 11 1-37 1 404 1-181 1-288 1-39 1 249 1 249 1 106 1-354 1 215 1-51 1-52 1 89 1 181 1-205 1 158 1 7 1-341 1-77 1 594 1 67 1-379 1 179 1-287 1-199 1-98 1-204 1 564 1 194 1 10 1 0 1-312 1-52 1 257 1 47 1 190 1-92 1 169 1-623 1-78 1 215 1 64 1-175 1 89 1-235 1 121 1-409 1 155 1 466 1 214 1 0 1-503 1 206 1-171 1 432 1-214 1 247 1-10 1-107 1 251 1-696 1 416 1 70 1-449 1-57 1 713 1-271 1-279 1 320 1-65 1 131 1 68 1-512 1-94 1 352 1 265 1-306 1-38 1 103 1-74 1 305 1 29 1 13 1-431 1 62 1 249 1 66 1-370 1-26 1 184 1 52 1-216 1 121 1 50 1 121 1 447 1-445 1-55 1-246 1-627 1 449 1 18 1 220 1 193 1 112 1-41 1-111 1-431 1 88 1 250 1-217 1 309 1-201 1 4 1 172 1-133 1-215 1-1 1 556 1 254 1-236 1-76 1 213 1-375 1-129 1-225 1 93 1-273 1 390 1 137 1-163 1-21 1 411 1 44 1-284 1-39 1 169 1-11 1-37 1-5 1-150 1-119 1 257 1-555 1 167 1 179 1-355 1 235 1 380 1 222 1-49 1-17 1 241 1-180 1 14 1-465 1-48 1 260 1-283 1 128 1 462 1-204 1-425 1 88 1 198 1-55 1 118 1-200 1-32 1 117 1-195 1-291 1 155 1-135 1 34 1 240 1 68 1-284 1 99 1-78 1 520 1-254 1 425 1-606 1 61 1-96 1 296 1 14 1 234 1 88 1-215 1 16 1-2 1-29 1-354 1-98 1-245 1 347 1 249 1-56 1-145 1 406 1-252 1 83 1-130 1-29 1 116 1 170 1-30 1-316 1 466 1-185 1-20 1-2 1-86 1-95 1 48 1-267 1 222 1-436 1 685 1-435 1 220 1 300 1 81 1-47 1-170 1-31 1-324 1 162 1 113 1 69 1-163 1 26 1-314 1 307 1 110 1 80 1 112 1-24 1 95 1 342 1 68 1-93 1 285 1-247 1-443 1-144 1 354 1 158 1-137 1-11 1-310 1-55 1-55 1 88 1-224 1 51 1-520 1 152 1 199 1 185 1 172 1 182 1-177 1-165 1-313 1 118 1-79 1 93 1 163 1-87 1-55 1 158 1 81 1 13 1 436 1-309 1 233 1-718 1 189 1-3 1-21 1 457 1-503 1 228 1-272 1-193 1-5 1 851 1 38 1-137 1 115 1-215 1-473 1-162 1 291 1 302 1-272 1-130 1 164 1 216 1-442 1-255 1-30 1 90 1 323 1 4 1 316 1-447 1 380 1 120 1-51 1-51 1-398 1-54 1 341 1-84 1-33 1-293 1 567 1 39 1 129 1-216 1-271 1 116 1-486 1 474 1-14 1 179 1 257 1-92 1-157 1 92 1 42 1-120 1 84 1-328 1-90 1 80 1-181 1 654 1 37 1-493 1 250 1-298 1-31 1 58 1 99 1 276 1 214 1 157 1-415 1-99 1-129 1 266 1-135 1-307 1 270 1 75 1 9 1-552 1-63 1-219 1-269 1 526 1 135 1 684 1-226 1 30 1-113 1-72 1 489 1-326 1 17 1 199 1-51 1-346 1 163 1-391 1 8 1 129 1 281 1 124 1-395 1 64 1-24 1-18 1-142 1-48 1 229 1-37 1 93 1-117 1 411 1-92 1-395 1 393 1 64 1-173 1 244 1-174 1-139 1-177 1 47 1-2 1 165 1-75 1-41 1-68 1-97 1-51 1-12 1 91 1 87 1 177 1-179 1-221 1 281 1-113 1 115 1 70 1 227 1-58 1-233 1-86 1-122 1 285 1 495 1-422 1-37 1-184 1-360 1-2 1 731 1-7 1-40 1-464 1 310 1 59 1-298 1 516 1-26 1 179 1 21 1-346 1-76 1 4 1-17 1 79 1-46 1-157 1 220 1-105 1 86 1-282 1-208 1 24 1-74 1 308 1 119 1-64 1 81 1-164 1 93 1 300 1 90 1-249 1-611 1 214 1 490 1-166 1 132 1 213 1-805 1-351 1 388 1 192 1 153 1-179 1-94 1-104 1 449 1 37 1-230 1 35 1 393 1-145 1-304 1 573 1-564 1 110 1-324 1-42 1 115 1 163 1 100 1 171 1-108 1-97 1 378 1-17 1 398 1 15 1-170 1-377 1-78 1-60 1 100 1 203 1-350 1-143 1 358 1-19 1-165 1 252 1 64 1-256 1-57 1-222 1 177 1-128 1-38 1-339 1 445 1 57 1 244 1-249 1-148 1-294 1 279 1-100 1 89 1-294 1 230 1 169 1-156 1 137 1 208 1 353 1-341 1-350 1 81 1-160 1 238 1-141 1-96 1 241 1 349 1-85 1-108 1-212 1 503 1-530 1-63 1 164 1 268 1 37 1-223 1-112 1-41 1 426 1-44 1-120 1-17 1 86 1-136 1-313 1 418 1-368 1 319 1 156 1 91 1-364 1-112 1-192 1 328 1 255 1-627 1 45 1 716 1 29 1-238 1-439 1-318 1 517 1-141 1 130" fill="none" stroke="#F1A340" stroke-width="1.10" vector-effect="non-scaling-stroke"/>
<path d="M57.80,22.20 V234.20 H342.60" fill="none" stroke="#2e2e2e" stroke-width="1.25" stroke-linejoin="round"/>
<line x1="55.10" y1="211.30" x2="57.80" y2="211.30" stroke="#333" stroke-width="1"/>
<text x="52.80" y="214.60" font-size="8.10" text-anchor="end" fill="#4D4D4D" stroke="#4D4D4D" stroke-width="0.00" >0.04</text>
<line x1="55.10" y1="146.30" x2="57.80" y2="146.30" stroke="#333" stroke-width="1"/>
<text x="52.80" y="149.60" font-size="8.10" text-anchor="end" fill="#4D4D4D" stroke="#4D4D4D" stroke-width="0.00" >0.06</text>
<line x1="55.10" y1="81.30" x2="57.80" y2="81.30" stroke="#333" stroke-width="1"/>
<text x="52.80" y="84.60" font-size="8.10" text-anchor="end" fill="#4D4D4D" stroke="#4D4D4D" stroke-width="0.00" >0.08</text>
<line x1="70.50" y1="234.20" x2="70.50" y2="236.90" stroke="#333" stroke-width="1"/>
<text x="70.50" y="245.20" font-size="8.10" text-anchor="middle" fill="#4D4D4D" stroke="#4D4D4D" stroke-width="0.00" >1000</text>
<line x1="156.90" y1="234.20" x2="156.90" y2="236.90" stroke="#333" stroke-width="1"/>
<text x="156.90" y="245.20" font-size="8.10" text-anchor="middle" fill="#4D4D4D" stroke="#4D4D4D" stroke-width="0.00" >2000</text>
<line x1="243.30" y1="234.20" x2="243.30" y2="236.90" stroke="#333" stroke-width="1"/>
<text x="243.30" y="245.20" font-size="8.10" text-anchor="middle" fill="#4D4D4D" stroke="#4D4D4D" stroke-width="0.00" >3000</text>
<line x1="329.70" y1="234.20" x2="329.70" y2="236.90" stroke="#333" stroke-width="1"/>
<text x="329.70" y="245.20" font-size="8.10" text-anchor="middle" fill="#4D4D4D" stroke="#4D4D4D" stroke-width="0.00" >4000</text>
<text x="200.50" y="256.90" font-size="10.40" text-anchor="middle" fill="#000" stroke="#000" stroke-width="0.08" >Iteration</text>
<text x="57.90" y="15.20" font-size="9.75" text-anchor="start" fill="#000" stroke="#000" stroke-width="0.08" >A: Rstan</text>
<text x="-0.40" y="129.30" font-size="11.20" text-anchor="start" fill="#000" stroke="#000" stroke-width="0.08" >μ</text>
<text x="9.00" y="131.60" font-size="9.40" text-anchor="start" fill="#000" stroke="#000" stroke-width="0.08" font-family="Liberation Serif">δ</text>
<text x="15.20" y="133.60" font-size="8.00" text-anchor="start" fill="#000" stroke="#000" stroke-width="0.08" font-family="Liberation Serif">6</text>
<path transform="translate(390.30,0) scale(0.07870,0.1)" d="M0,1104 l1 46 1 71 1 506 1-468 1 436 1-547 1-71 1-67 1-16 1 111 1 207 1 3 1-392 1 354 1 12 1 111 1-18 1-50 1-134 1 86 1 34 1 66 1-137 1 276 1-233 1-330 1 366 1-64 1-635 1 665 1 302 1-183 1-528 1-182 1 658 1-222 1 67 1 145 1 329 1-559 1 267 1-183 1 1 1-387 1 54 1 517 1-64 1-296 1 438 1-94 1-158 1 360 1 7 1 103 1-404 1 82 1-302 1 101 1-74 1 123 1-149 1 147 1 227 1-411 1-59 1-293 1 447 1 207 1 239 1 581 1-406 1-490 1 175 1 413 1-589 1 112 1-22 1 10 1-62 1-147 1 441 1-216 1 7 1-354 1 381 1-483 1 102 1-194 1 455 1-213 1 43 1 413 1-165 1 1 1 111 1-15 1 141 1-175 1-217 1 187 1 216 1-510 1 179 1-42 1 47 1 77 1-227 1 188 1-74 1 300 1 117 1-241 1-557 1 234 1-320 1 240 1 60 1 239 1-62 1-407 1 29 1 399 1 66 1-374 1 307 1-234 1 337 1-248 1-256 1 85 1 150 1 59 1 64 1 2 1-259 1-59 1 146 1 397 1-60 1-192 1 5 1 305 1-360 1-508 1 700 1-104 1-363 1 350 1 86 1-104 1-112 1 184 1-255 1 560 1-414 1-41 1 104 1-92 1 50 1-265 1 322 1-11 1 288 1 16 1-188 1 238 1-94 1 80 1-160 1-172 1-222 1 569 1-235 1-289 1-183 1-52 1 602 1-49 1-245 1-143 1 107 1 30 1 13 1 221 1-146 1-177 1 205 1-276 1 799 1-344 1-524 1 48 1-112 1 253 1 350 1-57 1-454 1 613 1-38 1 155 1-217 1-78 1-236 1 244 1-487 1 109 1 269 1 179 1 155 1-312 1-480 1 343 1 273 1-141 1 63 1 100 1 240 1-338 1-418 1-49 1 40 1 177 1-12 1-120 1 200 1-22 1 141 1-296 1 371 1-254 1-102 1-21 1 21 1 260 1 86 1-11 1-11 1 160 1-108 1 15 1 71 1-266 1 175 1-173 1-308 1-124 1 330 1-135 1 133 1-430 1 53 1 128 1 308 1 97 1-148 1 88 1 69 1-187 1 374 1 257 1-149 1-6 1-235 1 113 1-118 1 367 1-667 1 67 1 290 1-183 1-245 1 23 1 209 1-101 1-84 1 434 1 158 1-144 1-379 1-202 1 242 1-238 1 51 1 245 1 208 1 30 1-151 1-325 1 42 1 476 1 103 1-419 1 30 1 256 1-289 1-223 1 68 1 168 1-226 1 318 1 124 1 103 1-587 1-197 1 422 1-33 1 22 1-99 1-81 1 91 1 191 1 140 1 144 1 383 1-452 1 47 1-176 1-14 1 197 1-65 1-216 1 0 1 228 1 29 1-280 1 2 1-15 1 99 1-171 1 97 1-504 1 525 1 182 1-466 1 258 1 218 1-209 1 545 1-463 1-23 1-60 1 218 1-405 1 116 1 101 1-57 1 245 1-92 1 275 1-18 1-307 1-38 1-145 1 269 1-53 1 112 1-176 1-158 1-101 1 83 1 316 1-138 1 236 1 250 1-390 1-78 1-162 1-58 1 431 1 38 1-186 1-63 1-88 1 349 1-141 1-228 1-328 1 599 1-471 1 294 1 324 1-518 1 389 1 119 1-378 1-163 1 169 1 213 1 220 1-291 1 457 1-77 1-562 1-45 1-141 1 140 1 371 1-256 1 429 1-434 1-253 1 449 1-326 1 132 1 77 1 411 1-290 1-294 1 485 1-145 1 12 1 203 1-527 1 89 1 18 1-199 1 325 1-785 1 607 1 303 1-313 1-24 1 283 1 58 1-361 1 25 1-20 1-105 1 292 1-331 1 184 1-105 1 328 1-280 1 32 1-468 1 451 1-251 1 130 1-170 1 245 1 8 1 585 1-57 1-516 1 5 1-74 1 205 1-175 1 202 1-14 1-278 1-40 1 317 1-26 1-46 1 70 1 8 1 184 1-280 1 279 1 51 1-469 1-237 1-64 1 307 1 268 1-208 1-227 1 253 1 175 1 317 1 83 1-713 1 509 1-45 1-91 1-140 1 298 1-328 1-83 1 88 1 172 1-11 1 333 1-467 1 132 1 215 1-233 1-173 1-13 1-60 1-132 1 332 1-70 1-32 1 361 1-458 1 192 1-76 1-30 1 234 1-295 1-106 1 147 1 697 1-743 1 140 1 142 1 23 1 113 1-126 1-244 1 311 1-206 1 122 1-42 1 13 1-142 1-188 1 174 1-153 1-165 1 592 1-334 1 150 1 13 1-247 1 198 1 135 1-375 1-48 1 124 1-489 1 699 1 312 1-227 1 142 1-289 1 134 1 36 1-123 1 153 1 271 1-190 1-356 1 12 1-147 1-199 1 124 1 233 1 207 1-210 1-299 1-35 1 96 1 399 1-199 1-77 1-130 1 504 1 3 1-179 1-42 1 148 1-202 1 121 1-272 1 275 1-78 1 475 1-377 1 92 1-273 1 122 1-272 1 312 1 273 1-293 1-147 1 249 1 182 1-398 1-163 1 28 1 146 1 56 1-339 1 95 1 392 1 134 1-333 1-106 1 263 1 97 1-347 1 189 1-201 1 368 1 67 1 172 1-319 1 1 1 275 1-326 1 65 1-49 1-362 1 2 1 103 1 204 1 236 1-56 1-75 1-370 1 378 1 12 1-112 1-114 1-178 1-97 1 294 1-374 1 177 1 359 1 131 1-88 1-58 1-239 1 287 1 19 1 65 1-225 1 315 1-353 1 201 1-74 1-158 1-11 1-538 1 661 1 419 1-62 1-477 1 290 1-379 1 173 1-164 1 450 1-442 1-136 1 417 1-382 1-379 1 474 1 320 1 7 1-65 1-297 1-251 1 422 1 64 1 267 1-120 1-244 1 474 1-464 1-160 1-108 1 357 1 305 1-203 1 113 1 185 1-170 1 94 1-692 1 81 1-9 1 428 1-429 1 270 1-197 1 354 1-266 1 430 1-217 1-39 1 233 1-243 1 68 1-20 1-250 1-183 1 277 1-251 1-2 1 55 1-168 1 625 1-455 1 91 1 189 1-1 1-256 1-104 1 78 1 425 1 171 1-283 1-198 1 236 1-280 1-12 1 24 1 275 1-364 1-32 1-92 1 188 1 401 1-255 1-168 1 175 1 260 1-302 1-94 1 386 1-17 1 152 1-345 1-54 1-349 1 485 1-363 1 244 1-45 1 314 1-193 1 71 1-72 1-82 1-85 1-97 1 161 1 227 1-356 1 114 1 177 1-382 1 137 1-59 1 506 1-104 1-595 1 177 1 49 1 269 1-56 1-123 1 65 1 25 1 360 1-116 1-103 1-245 1-51 1 102 1 179 1 45 1-198 1 296 1-170 1-22 1-18 1-416 1 284 1-145 1-194 1 184 1 156 1 310 1-542 1 453 1 314 1-590 1 398 1 43 1-93 1 79 1 234 1-451 1-175 1-102 1 144 1 116 1 58 1-362 1-9 1 273 1-92 1 298 1-288 1 268 1-133 1-14 1 524 1-591 1 4 1 163 1 28 1-126 1-17 1-136 1 31 1-91 1 55 1 366 1 92 1-378 1-79 1 65 1 296 1-55 1 8 1-315 1 237 1 177 1-76 1-256 1-336 1 360 1-257 1 272 1 64 1 106 1-326 1 191 1-259 1 224 1-404 1 224 1 91 1 289 1-460 1 96 1 71 1 29 1 118 1 34 1-177 1 201 1-92 1-538 1 377 1 127 1-221 1 346 1-422 1 192 1 299 1-144 1 82 1-277 1 179 1-210 1 515 1-190 1-263 1-52 1 82 1-127 1-38 1 158 1-6 1-149 1 119 1 615 1-58 1-211 1-340 1 48 1-113 1-105 1 73 1 337 1-298 1 396 1 85 1-158 1 354 1-755 1-337 1 460 1 162 1 408 1-459 1 150 1 148 1 76 1-252 1-41 1-28 1 97 1 264 1-612 1-20 1 296 1 239 1-14 1-369 1-52 1 34 1-187 1 329 1-344 1 184 1 244 1-211 1-11 1 216 1-482 1 617 1-254 1-96 1 217 1-111 1-298 1 447 1 104 1-135 1-216 1-185 1 69 1 383 1-385 1-10 1-70 1 560 1 149 1-179 1-92 1-116 1 205 1 46 1-309 1 471 1-84 1-280 1-225 1 45 1-272 1 209 1-34 1-31 1 158 1 332 1-139 1-50 1 131 1-297 1 184 1 252 1-253 1 151 1-292 1 603 1-46 1-378 1-146 1 0 1-309 1 302 1 132 1-255 1 184 1-109 1-213 1 251 1 52 1 119 1-185 1-96 1-114 1 50 1-274 1 325 1 85 1 110 1-308 1 178 1 123 1 247 1-190 1-260 1 672 1-148 1-79 1-41 1-195 1 42 1-100 1-59 1-242 1 282 1-58 1 107 1-56 1 93 1 195 1-281 1-218 1 377 1-99 1-25 1 440 1-757 1-87 1 38 1 49 1 407 1 441 1-398 1-131 1 43 1 47 1-292 1-29 1 163 1 144 1-557 1 170 1 197 1 349 1 140 1 295 1-462 1-232 1 42 1-27 1-59 1-142 1 522 1 18 1-451 1 17 1-44 1 311 1-459 1 181 1 121 1 168 1-187 1-43 1 50 1-360 1 2 1 256 1 186 1 16 1-164 1 627 1-505 1-13 1-507 1 234 1 188 1-1 1 145 1 50 1-123 1 385 1-335 1 277 1-137 1-31 1-314 1-264 1-37 1 400 1 45 1-46 1-37 1-217 1 42 1 156 1-376 1 126 1-170 1 363 1-45 1 40 1 43 1 273 1-211 1 314 1-317 1-366 1 33 1 188 1 174 1-183 1 342 1 121 1 51 1-351 1 280 1-340 1-176 1 27 1 177 1-69 1 330 1-217 1-371 1-46 1 641 1-163 1 16 1-263 1 71 1 98 1 141 1-135 1 30 1-36 1 36 1 242 1-292 1-82 1 30 1-2 1-206 1-23 1-128 1 174 1 11 1 172 1 278 1 97 1-338 1 0 1-90 1 590 1-299 1-143 1 70 1-4 1 329 1-278 1-363 1 426 1-256 1 209 1-141 1-302 1 218 1-14 1-62 1 128 1-244 1 638 1-202 1 291 1-11 1-326 1 175 1-128 1-410 1 71 1-672 1 660 1 127 1 578 1-382 1-2 1-201 1 43 1 158 1 322 1-505 1 191 1 268 1-388 1 419 1-191 1 266 1-315 1 224 1-937 1 152 1 180 1 72 1-49 1-54 1 111 1 324 1-191 1 326 1-178 1-211 1 271 1-263 1 133 1-587 1 451 1-77 1-46 1 92 1-17 1 123 1-57 1-24 1-148 1-134 1 243 1-250 1 243 1 263 1-46 1 37 1-86 1-86 1-55 1-221 1 38 1 262 1-146 1 98 1-158 1-141 1 257 1-126 1-163 1 176 1 360 1-122 1 139 1-374 1 78 1-6 1-316 1 143 1 168 1 462 1-161 1-4 1-109 1 201 1-353 1-224 1 292 1 312 1-261 1 9 1-264 1 162 1 188 1 186 1-255 1 444 1-156 1-432 1 81 1-4 1 41 1 258 1-151 1-221 1-68 1 320 1-161 1-223 1 89 1-251 1 262 1 422 1-246 1-98 1-135 1 2 1-219 1 143 1 123 1 185 1-15 1-336 1-213 1 280 1 103 1 111 1-66 1 22 1 125 1-270 1 363 1-177 1-48 1-118 1 146 1 208 1-132 1 167 1-103 1 63 1-671 1 822 1-3 1-524 1 178 1 296 1-357 1-408 1 345 1-96 1 453 1-49 1-182 1-41 1 174 1 24 1 14 1 39 1-41 1-6 1-220 1 347 1-325 1-352 1 254 1 199 1 150 1-52 1 136 1-280 1 6 1-185 1 59 1-100 1-179 1 70 1-369 1 253 1 406 1-130 1-67 1 122 1-106 1 8 1-162 1 272 1 244 1-47 1 311 1 238 1-286 1-182 1-7 1-407 1 391 1 125 1-659 1 595 1-349 1 102 1 554 1-626 1 127 1-122 1 3 1-25 1-128 1-308 1 335 1 183 1-191 1 47 1 659 1-478 1 62 1-17 1 257 1-660 1 139 1 241 1 54 1-37 1-27 1-200 1 37 1 203 1-7 1-185 1 296 1-48 1-309 1 130 1-279 1 487 1-28 1 69 1 29 1-344 1-152 1 168 1 87 1-389 1-61 1 778 1-234 1 361 1-14 1-194 1 58 1-364 1 130 1-8 1-35 1-403 1 209 1-79 1 64 1-133 1 218 1 79 1-271 1 173 1 425 1 33 1-169 1-244 1 213 1-437 1 124 1 178 1 251 1-352 1-69 1 367 1-444 1-89 1-77 1 307 1-131 1 611 1-379 1 86 1-47 1-129 1 218 1-57 1 160 1-2 1 72 1-299 1-271 1 413 1 239 1-237 1-191 1-17 1 303 1-175 1 139 1-57 1-75 1 45 1-179 1 163 1-394 1 202 1 318 1-374 1-67 1 111 1 85 1-53 1-123 1 179 1-159 1 259 1-164 1 279 1-218 1-103 1 213 1-140 1 441 1-267 1-32 1-198 1 93 1-204 1-240 1 325 1-85 1-192 1 106 1-5 1 277 1-60 1 281 1-330 1 11 1 2 1 487 1-494 1-231 1-31 1 191 1-139 1 239 1 205 1-76 1 122 1-494 1 771 1-380 1 138 1-29 1-275 1 98 1-221 1 207 1 49 1-34 1-250 1 346 1 9 1 54 1-6 1 163 1-154 1-196 1-253 1 136 1 256 1-364 1 578 1-322 1 279 1-158 1 216 1 92 1-181 1-536 1 165 1-73 1 241 1-15 1 162 1 3 1-54 1-283 1 61 1 238 1-59 1 132 1-263 1-9 1 0 1-96 1 6 1-188 1 416 1-209 1 139 1-197 1 251 1 303 1-182 1-2 1 95 1-125 1-352 1 224 1-158 1-185 1 27 1 123 1-64 1 267 1 250 1 107 1-486 1-211 1 295 1 6 1 492 1-513 1 46 1 379 1-399 1-122 1-80 1 179 1-33 1 229 1-422 1 260 1-271 1 83 1 181 1-278 1 343 1-131 1 15 1 60 1-52 1-123 1 197 1 75 1-44 1 63 1 108 1-236 1 364 1-252 1 20 1-124 1-94 1 21 1 61 1-264 1 322 1 221 1-145 1-234 1-290 1-134 1 325 1-86 1-120 1 410 1-313 1 141 1 153 1-102 1-48 1 546 1-300 1-103 1 167 1-142 1 86 1 108 1-116 1 364 1-414 1-127 1 15 1-46 1 196 1 77 1 271 1 63 1-190 1-397 1 98 1-261 1 54 1 389 1 8 1 107 1 103 1-331 1-171 1 287 1-340 1-49 1 292 1-119 1 244 1-145 1-144 1 464 1-582 1 520 1-247 1 59 1-274 1 302 1-7 1-764 1 107 1 202 1 383 1-127 1 391 1-84 1-279 1-145 1 204 1-177 1-66 1 369 1-168 1 21 1-309 1 491 1-237 1 71 1-448 1 807 1-647 1 241 1-94 1 409 1 63 1-208 1-122 1 508 1-253 1-106 1-89 1-201 1 28 1 130 1 238 1 143 1-330 1-374 1 216 1-141 1 404 1-338 1 156 1-29 1-126 1-53 1 93 1-3 1 11 1 225 1-30 1-75 1-366 1 511 1-146 1-229 1 9 1 346 1 158 1-114 1-207 1-161 1 178 1-26 1 103 1 119 1-406 1-216 1 351 1 230 1-256 1 388 1 68 1-298 1-431 1 362 1-4 1-318 1 501 1 206 1-741 1 59 1 315 1-116 1-112 1 222 1-539 1 753 1-506 1 134 1 77 1 3 1 193 1-47 1 53 1 215 1-380 1 316 1 2 1-621 1 370 1-346 1-40 1 227 1-231 1 397 1 168 1-47 1-34 1-192 1-361 1 510 1 7 1-52 1-75 1 108 1-336 1 294 1 190 1-514 1-70 1 286 1 260 1-161 1-161 1-223 1-75 1 396 1 20 1 63 1-39 1 100 1 6 1-43 1-69 1 397 1-205 1-295 1-12 1-57 1-25 1 39 1-100 1 193 1 316 1-451 1 80 1 464 1-434 1-95 1 425 1-266 1 36 1-79 1 182 1-438 1 455 1 137 1-97 1-106 1 86 1-419 1 431 1-606 1 651 1-240 1-338 1-210 1 491 1 395 1-68 1-59 1-270 1 281 1-338 1 317 1-294 1-447 1 269 1-25 1 204 1 156 1-140 1-54 1 731 1-260 1-686 1 151 1 121 1 157 1 37 1-39 1 654 1-900 1 62 1 270 1-387 1 216 1-276 1 367 1-219 1 480 1-423 1 404 1-225 1-141 1 402 1-278 1 57 1-109 1-213 1 156 1-231 1 391 1 126 1-379 1 336 1-219 1 207 1-117 1-130 1 215 1 44 1 174 1-443 1 258 1 80 1-168 1 20 1 106 1-219 1-4 1 168 1 2 1-376 1 156 1 174 1-46 1-150 1-330 1 580 1-201 1 161 1-145 1 148 1 75 1 23 1-49 1-180 1-393 1 526 1 89 1-54 1-441 1-99 1-14 1 184 1 161 1 295 1-196 1-100 1 138 1 75 1 136 1-308 1 38 1-213 1 280 1 61 1-365 1 143 1 387 1-78 1 42 1-166 1 323 1-468 1-116 1 135 1 31 1 8 1 89 1-317 1 368 1-633 1 581 1-145 1 231 1 15 1-123 1 254 1-375 1-18 1-84 1-63 1 318 1-54 1-4 1-292 1 193 1 206 1-206 1 112 1-246 1-171 1 39 1 388 1-261 1 314 1-32 1-292 1 85 1-328 1 137 1 170 1-159 1 184 1-215 1 702 1-278 1 110 1-140 1 57 1-523 1 161 1 187 1-165 1 681 1-654 1 573 1-330 1-471 1 548 1 84 1 309 1-3 1-458 1-93 1 112 1-149 1 139 1 128 1-74 1 151 1 281 1-374 1-238 1-226 1 62 1 215 1 170 1-117 1-121 1 53 1 109 1-164 1 537 1-501 1-357 1 551 1-264 1 150 1 115 1-280 1-61 1 158 1-377 1 168 1 548 1-586 1 158 1-281 1 488 1 106 1-71 1-189 1-132 1 285 1-832 1 738 1 71 1-509 1-98 1 55 1 259 1 120 1-428 1 654 1 18 1-132 1-66 1-202 1 154 1-3 1-35 1 157 1-77 1 283 1 20 1-195 1 29 1-202 1 74 1-32 1-155 1 543 1 0 1-170 1-501 1 356 1-391 1 72 1 211 1-13 1-40 1 208 1-357 1 129 1 130 1 162 1-212 1-53 1-75 1-327 1 271 1 338 1 92 1 151 1-23 1 63 1-468 1 565 1-642 1 283 1 228 1-57 1-179 1-68 1 103 1-307 1 427 1 28 1-346 1 346 1-25 1-290 1-88 1-18 1-21 1 140 1-12 1 8 1 45 1-202 1 145 1-145 1 147 1-157 1 656 1-769 1 428 1-9 1 30 1-505 1 591 1-90 1-38 1-574 1 65 1 505 1-4 1-88 1 176 1-434 1 132 1 465 1-262 1-38 1 82 1-137 1-132 1 175 1 123 1-181 1 405 1-485 1 379 1-223 1 15 1-151 1 202 1-160 1 401 1-553 1 41 1-74 1 299 1-90 1 119 1-55 1 216 1-164 1 507 1-674 1 335 1-372 1-202 1 97 1 421 1-212 1-138 1-49 1 65 1 90 1 108 1 16 1-90 1 31 1 57 1 26 1-82 1 116 1-297 1 113 1-213 1 355 1 127 1-43 1-103 1-50 1-226 1 603 1-349 1 319 1-72 1-178 1-95 1-299 1 259 1-248 1 66 1 193 1-193 1 246 1-155 1-327 1 174 1 207 1 183 1-36 1 65 1-504 1 76 1 166 1-24 1-332 1 388 1 117 1-374 1 82 1 397 1-256 1 73 1 68 1 45 1 33 1-127 1-180 1 336 1-214 1 366 1-176 1-309 1 134 1 102 1-366 1 106 1 81 1-40 1 393 1-119 1-477 1 104 1-169 1 507 1 17 1-259 1-79 1 604 1-291 1-4 1 80 1-194 1 232 1-204 1-93 1 235 1-64 1 501 1-481 1-10 1 365 1 95 1-318 1-561 1 276 1 351 1-93 1 362 1-219 1-14 1-203 1-281 1 247 1-428 1 331 1 9 1 98 1 209 1-26 1-55 1-435 1 249 1 339 1-294 1-77 1 283 1-255 1-17 1 319 1-400 1 398 1-17 1-327 1 393 1 317 1-339 1-254 1-33 1 90 1 214 1-471 1-82 1 139 1-31 1 483 1-413 1-251 1 53 1-7 1 141 1 46 1 520 1-227 1-218 1 196 1 167 1-195 1 58 1-439 1 232 1 5 1-316 1 436 1-180 1-322 1 440 1 12 1-297 1-56 1 300 1 67 1 22 1 57 1-309 1 139 1 126 1 33 1-333 1 695 1-333 1-224 1 142 1 98 1-294 1-15 1-369 1 460 1-111 1 281 1-410 1-57 1 65 1-72 1 50 1 68 1 113 1-168 1 35 1 197 1-11 1-54 1-296 1 235 1 98 1 264 1-372 1 22 1 20 1 5 1-77 1 444 1-43 1-146 1-261 1 8 1-94 1 94 1-33 1 268 1 33 1-57 1-5 1-199 1 89 1 18 1 24 1-306 1 320 1-152 1 210 1-132 1-36 1 110 1 197 1-235 1-30 1 87 1 1 1 34 1-546 1 446 1 344 1 104 1-463 1 406 1-391 1 131 1-117 1 14 1-182 1 243 1-18 1 161 1 307 1-637 1 400 1-306 1-168 1 81 1 294 1-470 1 481 1-341 1-138 1 500 1-300 1 250 1-231 1 470 1-689 1 55 1 147 1 124 1-362 1 118 1 48 1 181 1 26 1-39 1 145 1-189 1-384 1 168 1-23 1 67 1-382 1 507 1 415 1 346 1-444 1-281 1-237 1 481 1-74 1-461 1 552 1-1 1-131 1 124 1-184 1 365 1-169 1-58 1-356 1 15 1-9 1 355 1-413 1 212 1-267 1 561 1 48 1-91 1-473 1 420 1-112 1 63 1-282 1 157 1-351 1 474 1-552 1 324 1 348 1-337 1 93 1 198 1-435 1 287 1 225 1-270 1-166 1-28 1 468 1-549 1 158 1-37 1 362 1 31 1-50 1-138 1-509 1 302 1 92 1-248 1-107 1 120 1 321 1 344 1 224 1-357 1-14 1-339 1-333 1 443 1 60 1-41 1 409 1-325 1-284 1-473 1 786 1-305 1-243 1 539 1-70 1-373 1 353 1 17 1-132 1-255 1 122 1 229 1-194 1 311 1 165 1-181 1-73 1-90 1-38 1 153 1 344 1 65 1-298 1-326 1 296 1-4 1-265 1 356 1-351 1 178 1 54 1-241 1 217 1-300 1 380 1 44 1-68 1-285 1 304 1-199 1-78 1-174 1 329 1-131 1-142 1-273 1 367 1-8 1 59 1 785 1-552 1-80 1 210 1-9 1-150 1-100 1 12 1 100 1-96 1-215 1 176 1-267 1-133 1 76 1 351 1 30 1 552 1-385 1-61 1 98 1 353 1-608 1-204 1 233 1-179 1 224 1 424 1-321 1 5 1-39 1-44 1 209 1 167 1-548 1 66 1-51 1 333 1 418 1-148 1-648 1-1 1 570 1-149 1 74 1-268 1-458 1 416 1-125 1 94 1 92 1 144 1-45 1-287 1-45 1-74 1 312 1 56 1-167 1 26 1 168 1-43 1-481 1 272 1-92 1-109 1 208 1-375 1 235 1-57 1 254 1-187 1 119 1-118 1 243 1 58 1-95 1-208 1 402 1-207 1-19 1-263 1 677 1-3 1-503 1-31 1-48 1 96 1-42 1-38 1-108 1 453 1 11 1-419 1-103 1 426 1-481 1 136 1-44 1 237 1 199 1-142 1-15 1 227 1-208 1-38 1 362 1-92 1-172 1 102 1-294 1-185 1 443 1-166 1-82 1-122 1 498 1 7 1-297 1-244 1 122 1 285 1-219 1 209 1 211 1-296 1-245 1-81 1 153 1 246 1 159 1-362 1 269 1-206 1-73 1 212 1-55 1-40 1-181 1 253 1-53 1-86 1 287 1-86 1-15 1-150 1 244 1-173 1-122 1-267 1 226 1-269 1 170 1-10 1 300 1 48 1-217 1 182 1-435 1 200 1-485 1 573 1-114 1-6 1 72 1-30 1 532 1-337 1-295 1 169 1 310 1-119 1-122 1-213 1 280 1-312 1 324 1-286 1 82 1-422 1 249 1-60 1 320 1 430 1-318 1-89 1 148 1-108 1 369 1-248 1 13 1-433 1 188 1 43 1 23 1 426 1-94 1-504 1 16 1 428 1-240 1 83 1-162 1 34 1 39 1 290 1-143 1 76 1-103 1-279 1 42 1-25 1-56 1 402 1-91 1-297 1-119 1 704 1-72 1-322 1-657 1 645 1 46 1-68 1-159 1 449 1-51 1-46 1 33 1-20 1-233 1-222 1 85 1 98 1 87 1 159 1 161 1 33 1-497 1-143 1 106 1 77 1 75 1-73 1 173 1 152 1 140 1-293 1 162 1 238 1-256 1 28 1-347 1-232 1 125 1-33 1-243 1 636 1 148 1-236 1 27 1-130 1-227 1 196 1 423 1-883 1 616 1 204 1-466 1 489 1 11 1-257 1 116 1-180 1-256 1 159 1 145 1-167 1 8 1-559 1 698 1-317 1 261 1-85 1 510 1-70 1 15 1 110 1-208 1-522 1 566 1-522 1 210 1 19 1 315 1-271 1-340 1 359 1-56 1 7 1 90 1 150 1-437 1-28 1 318 1-333 1 368 1-115 1 339 1 157 1-270 1-563 1 211 1-162 1-185 1 258 1 320 1-124 1 103 1-201 1 188 1-379 1-37 1 181 1 73 1-65 1 99 1-28 1-177 1 315 1 17 1-36 1 432 1-671 1 192 1-347 1 680 1 191 1-334 1-177 1-244 1-25 1-127 1 249 1-477 1 251 1 633 1-48 1-9 1-157 1 88 1-187 1-266 1 545 1-59 1-549 1-132 1-58 1 337 1-137 1 152 1 497 1-93 1-326 1 54 1 237 1 82 1-295 1-34 1 168 1-422 1 343 1 82 1-90 1 2 1 12 1 418 1-871 1 179 1 97 1 238 1-43 1-142 1 208 1-270 1-34 1 206 1 146 1-292 1-419 1 351 1-77 1 227 1 207 1-383 1 227 1-492 1 501 1 319 1-323 1-195 1-53 1 151 1 328" fill="none" stroke="#E66101" stroke-width="0.85" vector-effect="non-scaling-stroke"/>
<path transform="translate(390.30,0) scale(0.07870,0.1)" d="M0,970 l1 413 1-615 1 466 1 37 1 26 1-364 1-211 1 272 1 63 1 335 1-343 1 645 1-602 1 0 1 286 1-295 1-63 1-264 1-18 1 324 1 20 1 382 1-360 1 358 1-53 1 176 1-149 1-271 1 231 1-140 1 250 1-313 1-177 1 139 1 64 1 209 1-301 1-186 1 262 1 23 1 104 1 203 1-205 1 271 1-531 1-271 1 121 1 157 1 139 1-13 1 290 1-255 1-27 1-132 1-281 1 250 1-233 1 109 1 361 1-212 1 76 1-91 1-26 1 29 1 122 1-139 1 154 1 132 1-121 1 299 1-384 1-148 1 175 1-288 1 38 1 150 1-45 1-75 1 275 1-136 1-77 1 18 1 206 1-310 1 662 1-212 1-136 1-372 1 580 1 66 1 23 1-183 1 73 1 85 1-404 1-18 1 121 1 170 1-42 1-44 1-505 1 572 1 17 1 5 1-71 1-216 1 405 1 29 1-468 1 75 1-255 1 418 1 283 1-129 1-10 1-297 1 246 1-136 1-179 1 89 1 123 1 26 1-112 1-125 1 338 1 164 1-596 1 517 1-132 1 93 1-447 1 112 1-209 1-44 1 419 1-89 1 373 1-143 1-315 1-14 1 8 1 76 1 128 1-212 1 54 1 53 1-212 1 259 1-432 1 342 1-325 1 243 1 204 1-8 1-201 1-6 1-32 1 79 1 122 1 114 1 55 1-86 1 340 1-379 1-58 1 26 1 168 1-139 1-185 1 328 1 77 1-132 1-151 1 263 1-337 1 497 1-666 1 499 1 56 1-88 1 145 1-214 1 57 1-467 1 203 1-140 1 134 1-197 1 107 1 425 1-114 1-198 1-57 1 528 1-109 1 121 1 16 1-352 1-85 1 499 1-100 1-519 1-166 1 35 1 440 1-175 1-245 1 188 1 123 1 83 1-191 1-178 1-233 1 351 1 48 1 360 1-487 1 267 1-383 1 377 1-51 1-174 1 45 1 574 1-314 1-166 1-542 1 100 1-27 1 187 1-137 1 271 1 381 1-39 1-259 1 159 1-71 1 6 1-350 1 806 1-91 1-339 1 5 1-503 1 114 1 185 1 222 1-101 1 35 1 309 1-59 1-331 1-38 1 51 1-343 1 488 1-6 1-253 1-146 1 379 1-137 1 109 1 170 1-187 1 125 1-328 1 36 1 143 1-272 1-120 1 424 1 317 1-119 1-207 1 487 1 70 1-695 1 83 1-93 1 77 1 145 1-147 1 82 1-257 1 172 1-24 1 103 1 228 1-44 1-303 1 267 1-137 1 88 1-18 1-378 1 476 1 61 1 2 1-465 1 36 1 460 1-24 1-141 1-12 1 57 1-320 1 313 1-205 1 37 1 37 1 373 1-98 1-512 1 51 1 438 1-269 1 357 1-452 1 212 1-460 1-32 1 98 1 436 1-147 1 189 1-52 1 51 1-126 1-200 1-80 1 601 1-89 1 17 1-473 1 323 1-270 1 28 1-142 1 209 1 96 1-270 1-126 1 235 1 114 1 53 1-42 1-270 1 309 1-365 1 465 1-204 1 158 1-209 1-496 1 547 1-277 1 479 1-274 1-489 1 325 1 506 1-114 1-171 1 222 1-527 1 53 1 342 1-238 1 31 1 444 1-623 1-31 1 666 1-543 1 156 1-137 1 149 1 291 1-218 1-359 1 648 1-227 1 79 1-259 1 359 1-308 1 94 1-182 1 98 1 238 1-148 1-136 1 5 1-301 1 332 1-65 1-133 1-185 1 401 1 74 1-19 1 158 1 92 1-427 1-35 1-141 1-93 1 440 1 0 1 117 1-85 1-367 1 497 1-448 1 325 1-193 1-379 1 91 1 575 1-171 1-297 1 491 1 129 1-279 1 241 1 61 1-241 1-336 1 100 1-152 1 126 1 39 1-105 1 267 1-3 1 4 1 29 1 156 1-109 1-20 1-305 1 303 1-258 1 236 1-453 1 491 1 572 1-665 1-125 1-25 1-241 1 20 1 362 1 172 1-182 1 137 1 3 1-6 1-331 1-106 1 187 1-146 1 329 1-41 1-199 1 255 1-384 1 245 1 3 1-154 1 455 1-296 1 106 1 316 1-223 1-263 1 540 1-402 1 428 1-193 1-153 1-427 1 188 1 57 1-82 1-67 1 162 1-4 1-46 1 157 1-268 1 52 1-70 1-42 1 361 1 7 1-141 1 109 1 16 1-5 1-22 1-225 1 583 1-446 1 259 1-525 1 144 1-89 1 48 1 112 1 182 1-98 1-249 1 301 1 34 1 26 1-125 1 66 1-241 1 388 1 72 1-359 1-143 1 37 1-251 1 99 1 409 1 177 1-102 1-6 1-171 1 119 1 24 1-30 1-100 1-121 1 34 1-182 1 110 1 51 1-180 1-262 1 429 1 289 1 137 1-428 1 454 1-297 1-292 1 635 1-332 1-199 1 34 1 36 1 493 1-306 1 240 1-98 1-206 1-192 1 28 1-173 1 447 1-261 1 71 1 141 1-13 1-232 1-144 1 494 1-498 1 392 1-99 1-75 1 109 1 404 1-253 1-266 1 122 1-168 1 70 1-85 1-88 1-331 1 262 1-86 1 307 1-110 1 369 1-329 1-120 1 415 1-287 1-1 1-114 1 89 1 135 1 222 1-144 1-137 1 282 1 9 1 322 1-374 1-241 1-132 1 554 1-289 1 217 1-485 1 399 1 176 1-489 1 291 1-77 1 312 1-721 1 567 1 26 1 22 1-197 1 237 1-185 1-182 1-454 1-37 1 527 1-57 1 127 1 357 1-100 1-188 1 8 1-71 1-250 1-3 1 77 1 245 1-63 1-267 1 38 1 456 1-312 1 46 1 75 1-261 1 137 1 142 1-143 1 186 1-140 1 246 1-365 1 386 1-250 1 230 1-386 1-20 1 254 1-116 1-159 1 326 1-12 1-227 1 495 1 169 1-454 1 17 1 292 1-132 1-328 1-21 1 338 1-437 1 41 1 163 1-228 1-53 1 223 1 207 1-360 1-175 1 188 1 380 1-28 1-583 1 466 1-17 1-73 1 128 1-237 1-51 1 247 1-176 1-61 1-271 1-144 1 651 1-26 1-146 1-173 1 360 1 282 1-508 1 218 1 22 1-26 1 19 1-326 1 599 1-523 1-150 1 173 1-26 1 352 1-234 1 24 1 236 1-120 1-57 1-144 1 129 1 173 1-111 1 137 1-332 1-30 1-52 1-240 1 58 1 254 1 237 1-142 1 155 1-414 1 97 1 200 1-249 1 83 1-139 1 153 1 158 1-511 1 238 1 76 1 59 1 212 1 107 1-299 1 252 1 101 1 0 1-160 1 489 1-474 1 7 1-478 1 153 1 515 1-670 1 241 1 314 1-306 1 293 1-439 1 572 1 11 1-166 1-204 1-171 1 318 1 190 1 12 1-308 1-184 1 613 1-361 1-296 1 174 1 149 1-185 1-136 1 148 1 296 1-314 1-457 1 200 1 100 1 442 1-11 1-236 1-36 1 108 1 463 1-260 1-292 1-552 1 395 1 139 1-230 1 293 1 45 1-138 1-43 1-60 1-39 1 98 1 210 1-6 1-172 1 172 1 137 1-209 1 582 1-609 1 15 1 160 1 28 1 7 1-291 1 259 1-237 1 47 1 60 1-132 1 244 1-696 1 325 1 251 1 344 1-162 1 27 1-5 1-65 1-506 1 122 1-49 1 180 1 333 1-107 1 114 1-211 1-77 1-361 1 563 1-331 1 190 1-92 1 260 1-550 1 219 1-55 1-259 1 330 1 132 1-90 1 176 1 193 1-369 1 0 1 329 1-330 1 257 1 171 1-184 1-129 1 68 1 10 1-264 1-83 1 173 1 484 1-189 1 407 1-70 1-344 1-265 1-213 1 136 1-196 1-59 1 507 1 28 1-137 1 241 1-185 1 110 1 92 1-183 1-343 1 535 1-62 1-90 1-218 1 107 1 314 1-385 1-54 1-54 1-57 1 81 1 601 1-56 1-233 1-157 1-95 1-59 1 303 1-164 1 68 1-141 1-312 1 464 1-200 1 210 1-23 1 111 1-127 1-129 1 505 1-690 1-81 1-144 1 236 1-5 1 283 1-131 1 223 1-424 1 256 1-173 1 135 1-189 1 88 1 427 1 251 1-256 1-123 1 211 1-412 1-132 1 30 1 17 1 70 1 251 1-210 1 447 1-310 1-222 1 519 1-683 1 461 1-328 1 220 1-31 1 164 1-113 1-14 1 114 1-333 1 12 1 70 1 326 1-285 1-229 1-8 1-15 1 132 1 8 1 337 1-266 1 151 1 190 1-245 1-56 1-63 1 290 1-172 1-271 1 74 1 83 1 11 1 175 1-178 1 509 1-60 1 68 1 203 1-573 1 71 1-61 1-17 1 125 1-236 1 233 1-160 1 85 1 175 1-255 1-333 1 34 1-90 1 453 1-380 1 649 1-293 1-110 1-72 1 7 1 160 1 100 1-156 1 105 1 323 1-756 1 364 1-255 1 193 1 165 1-46 1 26 1 72 1-37 1 86 1-207 1-18 1-22 1 364 1-300 1-361 1 512 1-144 1-290 1 221 1-222 1 285 1 493 1-840 1 66 1 516 1-163 1-58 1 222 1 318 1-475 1-130 1 346 1 172 1-597 1 39 1 157 1-238 1 127 1 312 1-210 1-548 1 530 1-213 1 162 1-101 1-5 1-108 1-89 1 270 1-302 1 169 1 385 1-792 1 361 1 319 1-235 1-23 1-256 1-35 1 186 1 69 1-58 1-18 1 5 1 11 1 321 1-298 1-97 1 7 1 362 1-45 1 548 1 70 1-494 1-208 1 72 1-53 1-116 1 294 1-243 1-112 1 312 1-265 1 248 1-76 1 0 1 23 1 476 1-725 1 471 1-234 1 41 1-31 1 191 1-111 1-87 1-138 1-141 1 168 1 194 1-162 1-23 1-100 1 311 1-197 1 502 1-496 1 81 1-248 1 135 1-128 1-113 1 529 1 167 1-434 1-24 1 287 1 15 1 11 1-262 1 312 1 131 1-170 1 47 1-290 1-46 1 309 1-291 1-95 1 187 1 166 1 173 1-325 1-302 1-26 1 142 1-482 1 740 1-246 1 256 1-177 1 190 1-24 1-227 1 382 1-66 1 92 1-264 1-113 1-67 1 464 1 94 1-350 1-68 1 229 1-187 1-70 1 141 1-697 1 641 1-256 1 158 1 29 1 228 1-55 1-43 1 32 1-206 1-97 1 106 1-97 1 178 1 158 1 29 1 49 1-80 1-41 1-169 1 118 1-288 1-15 1 199 1 285 1-196 1-89 1-125 1-45 1 39 1 20 1-59 1-239 1 302 1 178 1-430 1 140 1 363 1-96 1 88 1-383 1 389 1 36 1 107 1 149 1-483 1 550 1-480 1 94 1-311 1 205 1-276 1-97 1-59 1 192 1 52 1-12 1 608 1-734 1 272 1 91 1-90 1-84 1 102 1 210 1-15 1-379 1 143 1 147 1 137 1 76 1-93 1-202 1 27 1 320 1-31 1 211 1-356 1-245 1-3 1-269 1 382 1-385 1 535 1-164 1 98 1-86 1-133 1 264 1 331 1-139 1-116 1 38 1-537 1 316 1 156 1-285 1 18 1 153 1 70 1-199 1-17 1-90 1 24 1 363 1-333 1 464 1 93 1 54 1-260 1-589 1 292 1 49 1 86 1-324 1 611 1-335 1-151 1-230 1 266 1 130 1 54 1 300 1-227 1-132 1-123 1-97 1 448 1 38 1-301 1 293 1-622 1 576 1-141 1 108 1-304 1 233 1-151 1 70 1 60 1-137 1-238 1 88 1 178 1 284 1-48 1 181 1-541 1 321 1-274 1-212 1-236 1 154 1 448 1-92 1 63 1 236 1 220 1-626 1 158 1-163 1-11 1 163 1 13 1-285 1-104 1-14 1 220 1-25 1 158 1 359 1-505 1 364 1-68 1 144 1-289 1-374 1-20 1 369 1-265 1 558 1-161 1 126 1-87 1-221 1 405 1-549 1-78 1 58 1 163 1-138 1-95 1 280 1 384 1-165 1-141 1 376 1-436 1 88 1 21 1-342 1 322 1 144 1-261 1 215 1-334 1 264 1-8 1-246 1 207 1 149 1-367 1 475 1-37 1-363 1 85 1-190 1 298 1-172 1 123 1-370 1-16 1-72 1 95 1 149 1 58 1 140 1-120 1 202 1-76 1 332 1-404 1-11 1 56 1 57 1-89 1 177 1 29 1-449 1 692 1-485 1 247 1-233 1 286 1-96 1-496 1 473 1 53 1-212 1 60 1 123 1 333 1-214 1-49 1-288 1-4 1 433 1-307 1-236 1-66 1 121 1-307 1 651 1 197 1-690 1 223 1-69 1 172 1-13 1-556 1 8 1 74 1 353 1 35 1 485 1-39 1-298 1-119 1 42 1-125 1-252 1 170 1 325 1-208 1 46 1-194 1 77 1 243 1-139 1-369 1-239 1 130 1 478 1-29 1-66 1 249 1-145 1 182 1 338 1-382 1-5 1-549 1 127 1 338 1 124 1 23 1-713 1 122 1 358 1 317 1-496 1 269 1 264 1-343 1-17 1-38 1 8 1 79 1-41 1 144 1-332 1 449 1-385 1 106 1 329 1-406 1 93 1-193 1-354 1 482 1 179 1 217 1 103 1-86 1-439 1-145 1 428 1-386 1-68 1 363 1 112 1-81 1 151 1 124 1-309 1 48 1 417 1-144 1-191 1-643 1 203 1 157 1 123 1-132 1 171 1 147 1-647 1 675 1-168 1-573 1 141 1-84 1 792 1-646 1 27 1 521 1-729 1-44 1 567 1-8 1-117 1 378 1-128 1-338 1 129 1 53 1-44 1-39 1-27 1 291 1-648 1 199 1 109 1 235 1 145 1-332 1 333 1 83 1-138 1-445 1 239 1-141 1 318 1 13 1 70 1-203 1 296 1-167 1 180 1-412 1-103 1 32 1 335 1 107 1 48 1-411 1 124 1-77 1-188 1-290 1 346 1 127 1 158 1-342 1 331 1-507 1 355 1 94 1-116 1-125 1 145 1-46 1 347 1-322 1 191 1-72 1 28 1-162 1-44 1 178 1-308 1 486 1 553 1-648 1-573 1 777 1-147 1-127 1 4 1-47 1-18 1-22 1 78 1-166 1 236 1 97 1 118 1-48 1 225 1-367 1-103 1-177 1 271 1-243 1 111 1-305 1 153 1 42 1 212 1-279 1 210 1-352 1 52 1 371 1-93 1-111 1-272 1 170 1 100 1-216 1 399 1 152 1 54 1-304 1 287 1-631 1 213 1-79 1 73 1 258 1 49 1 38 1-327 1 113 1 608 1-508 1-329 1 21 1 121 1-290 1 247 1-92 1 134 1-31 1 45 1 381 1-260 1-121 1 27 1-157 1-46 1 488 1-331 1-419 1 309 1 71 1 385 1-290 1-182 1-608 1 301 1 115 1 323 1 125 1-108 1 183 1-222 1-208 1 301 1-354 1 279 1-72 1 222 1 121 1-271 1 170 1-196 1-24 1 341 1-141 1-224 1-220 1 120 1 168 1 194 1 180 1-296 1-107 1-35 1 0 1-147 1 244 1-34 1-213 1 406 1-116 1-51 1 338 1 168 1-19 1-461 1 71 1 218 1 42 1-156 1-390 1-217 1 289 1 205 1-95 1 151 1 83 1 167 1-1 1-284 1 50 1-58 1-287 1 424 1-264 1 235 1 164 1-615 1 413 1 3 1-54 1-240 1 161 1-219 1 492 1-221 1 180 1-187 1-21 1 206 1-281 1 69 1-187 1 181 1 128 1 148 1 69 1 214 1-438 1-72 1 172 1-228 1 20 1 225 1-296 1-69 1-21 1 29 1-190 1 213 1-238 1-63 1 87 1 115 1 467 1-357 1 82 1-411 1 179 1 210 1 399 1 1 1-131 1-106 1-234 1-61 1 255 1 400 1-190 1-399 1-31 1-87 1 207 1-65 1-273 1-397 1 716 1 2 1-604 1 575 1-257 1 159 1 466 1 6 1-322 1-130 1 3 1 124 1 10 1 63 1 328 1-740 1-212 1 21 1 653 1-164 1 366 1-96 1-598 1 539 1 138 1-401 1-172 1 302 1 13 1 53 1 432 1-390 1 32 1-246 1-14 1 472 1-210 1 3 1-278 1-15 1 63 1 85 1-73 1-56 1 240 1-8 1 191 1-14 1-557 1 131 1 15 1 74 1 498 1-231 1-442 1 26 1 248 1-229 1 247 1-355 1 272 1-344 1 403 1 227 1-198 1-113 1 569 1-280 1-35 1 13 1-105 1 120 1-55 1-174 1 127 1-460 1 514 1 113 1-21 1-305 1 316 1-700 1 93 1 229 1 234 1-154 1 142 1-58 1-409 1 241 1-108 1 24 1-177 1 355 1-368 1-280 1 596 1-164 1 186 1-67 1 145 1 60 1-99 1 68 1-46 1 134 1 287 1-701 1 180 1 164 1 221 1-497 1 297 1-300 1 181 1-465 1 403 1-150 1 293 1-83 1-514 1 430 1-21 1 353 1 50 1-273 1-186 1-4 1 210 1-25 1-247 1 261 1-77 1-13 1 176 1 81 1-238 1-131 1-152 1 320 1-94 1-245 1-43 1 538 1-37 1 47 1-304 1 242 1-344 1 54 1 414 1 30 1-364 1 37 1 6 1 180 1-33 1-47 1-114 1-176 1 372 1-373 1 87 1 295 1-385 1 265 1-351 1 161 1-65 1 71 1-44 1 533 1-325 1-134 1 55 1 282 1-592 1-166 1 561 1 131 1 113 1-472 1 308 1 141 1 124 1-256 1 6 1 296 1-216 1-225 1 257 1-117 1-197 1-66 1-15 1 352 1-265 1 173 1-53 1-164 1 41 1 24 1-41 1 230 1 287 1-556 1 250 1-121 1 397 1-761 1 245 1 183 1-210 1 58 1 187 1-39 1-389 1-52 1 450 1-300 1-125 1 348 1-289 1 625 1-186 1-33 1 39 1-260 1 60 1 214 1 83 1-5 1-82 1 234 1-235 1-280 1 20 1 522 1 9 1-269 1-248 1-552 1 521 1-26 1 424 1-201 1 173 1-171 1-299 1 279 1-435 1 196 1 46 1-205 1 375 1-237 1 328 1-101 1-83 1 210 1-312 1 152 1-226 1 94 1 523 1-167 1-54 1 155 1-359 1 307 1-332 1-119 1 216 1 127 1 43 1 133 1-283 1 186 1-491 1 93 1-228 1 462 1 81 1-199 1-379 1 323 1 499 1-158 1-9 1 147 1-4 1-349 1-55 1 828 1-671 1 192 1-273 1-448 1 600 1-40 1-447 1 175 1-32 1 235 1-276 1 610 1-336 1 403 1-384 1-54 1-107 1 216 1-193 1-30 1-47 1 248 1 56 1-51 1 72 1-231 1 69 1-113 1-99 1 152 1-165 1 68 1 579 1-824 1 53 1 423 1-544 1 536 1-75 1-177 1 124 1 59 1-230 1 21 1-186 1 158 1 239 1-97 1-350 1 287 1-255 1-2 1 298 1 412 1-109 1 64 1-263 1 62 1-6 1-225 1-189 1 213 1-385 1 762 1-275 1-694 1 552 1 275 1 114 1-194 1-122 1-186 1 498 1-8 1-104 1-100 1 120 1-358 1 146 1 264 1-74 1-234 1-66 1-45 1 141 1-32 1 330 1-121 1-6 1-251 1 798 1-337 1-245 1 247 1 86 1-325 1-102 1 260 1-329 1 13 1 107 1 56 1 494 1-865 1 23 1 93 1 185 1-173 1 339 1 110 1-128 1-474 1 349 1-59 1 300 1-420 1 328 1 13 1-93 1 263 1-66 1-218 1 21 1-288 1 477 1-63 1-289 1-190 1-40 1 129 1 64 1-84 1-197 1 764 1-265 1 296 1 55 1 174 1-350 1-695 1 340 1 146 1 176 1-166 1-317 1 499 1-160 1-166 1-72 1 335 1-7 1-161 1 193 1-285 1-14 1-337 1 447 1-209 1 445 1-112 1 211 1-266 1-252 1-171 1 296 1 8 1 382 1-187 1-242 1 109 1-140 1 323 1 203 1-262 1-588 1 337 1-80 1 296 1 106 1 266 1-316 1-331 1 286 1-61 1-348 1-55 1 191 1-25 1-223 1 404 1 340 1-252 1-146 1-138 1 529 1-105 1-64 1-108 1-459 1 255 1 163 1 163 1-554 1 359 1 419 1-57 1-269 1 107 1-161 1 22 1-108 1 80 1 75 1-335 1 348 1 138 1-403 1-140 1 678 1-414 1-228 1 248 1 110 1-31 1-177 1 143 1 25 1-18 1-92 1-11 1-206 1 177 1 241 1 373 1-14 1-525 1 238 1-111 1-89 1-228 1 496 1-592 1 459 1 161 1-576 1 218 1-152 1 273 1-243 1 230 1-156 1-28 1 196 1-403 1 135 1 22 1-59 1 313 1-57 1-222 1 588 1-487 1-126 1 161 1 35 1 277 1-380 1 412 1-367 1 397 1-222 1 321 1-476 1 63 1 59 1 113 1 166 1-11 1-219 1-150 1-177 1 261 1 413 1-270 1 191 1-542 1 181 1 116 1 50 1-255 1-77 1 525 1-567 1 341 1 49 1-194 1 20 1-292 1-1 1 33 1 273 1-359 1 551 1-38 1 127 1-435 1 115 1-108 1 398 1-510 1 283 1-274 1-30 1 283 1 60 1-59 1-232 1 324 1 262 1-598 1-77 1 621 1-199 1-104 1-97 1 147 1-203 1-37 1-10 1-213 1 76 1 119 1 209 1 56 1-81 1-59 1-267 1-65 1 345 1 38 1-191 1-6 1 301 1-458 1 143 1 198 1 196 1-290 1 38 1 34 1-298 1 117 1-57 1-161 1 417 1 31 1-84 1-2 1 23 1-225 1 402 1 4 1-78 1 8 1 459 1-230 1-668 1 351 1-611 1 1005 1-326 1 63 1-220 1-178 1-142 1 275 1 224 1-236 1 202 1-96 1 166 1 175 1 47 1-567 1 124 1-44 1 119 1-47 1-44 1 36 1 215 1-34 1-220 1 665 1-208 1-368 1 80 1 215 1-172 1 132 1-128 1-122 1 324 1-406 1-267 1 455 1 292 1-271 1 16 1 3 1-30 1-136 1 482 1-440 1-210 1 194 1 186 1 327 1-448 1 32 1-226 1-91 1 99 1 336 1-224 1-72 1-111 1-249 1 170 1-205 1 447 1 108 1-27 1-125 1 67 1 367 1 67 1-228 1 56 1-277 1-369 1 335 1 335 1-109 1-355 1 234 1-129 1-166 1 260 1-346 1 450 1 137 1-184 1-174 1 565 1-318 1-110 1-166 1 232 1-200 1 367 1 10 1-142 1-127 1-398 1 346 1-248 1 466 1 39 1-33 1-264 1 26 1-170 1 257 1-11 1 135 1 61 1 3 1-471 1 360 1-100 1 70 1 7 1-199 1-501 1 792 1-4 1 103 1-338 1 18 1-75 1 79 1 137 1 527 1-410 1 83 1-306 1-203 1 484 1-253 1 226 1 310 1-371 1-379 1-38 1 141 1 320 1-450 1 306 1 312 1-170 1-232 1 199 1-158 1 63 1-287 1 172 1 51 1 346 1-472 1-125 1 107 1 54 1 158 1 50 1-190 1 4 1 180 1 143 1-83 1-319 1 250 1-551 1 329 1 334 1-222 1-610 1 158 1 386 1 281 1-416 1 361 1-158 1-121 1 307 1-68 1 89 1 39 1 289 1-706 1 171 1 295 1-266 1-30 1-82 1 168 1-289 1 550 1-321 1-522 1 253 1 422 1-24 1-189 1 255 1 268 1-220 1 154 1-344 1 450 1-215 1-685 1 278 1-182 1 122 1 574 1-209 1 10 1-287 1 415 1-347 1 266 1-406 1 12 1-30 1-302 1 393 1 22 1 260 1-85 1 109 1-257 1 214 1-157 1-414 1 395 1-19 1 215 1-398 1-93 1 64 1-13 1-111 1 238 1 231 1-153 1 432 1-82 1 21 1-91 1-335 1 500 1-531 1 416 1-394 1 367 1-206 1 234 1-381 1 74 1 500 1-612 1 176 1-5 1 300 1-406 1 96 1 287 1-269 1 12 1 133 1-210 1 432 1-329 1-24 1-145 1 193 1-5 1-185 1-86 1-80 1 149 1-161 1 452 1-448 1-279 1 549 1 225 1-10 1-451 1 70 1 506 1 68 1-461 1 107 1 159 1 4 1-27 1 274 1-129 1-212 1-245 1-77 1 440 1-343 1 330 1-528 1 45 1-195 1 272 1 354 1-319 1 86 1 43 1 236 1-567 1 155 1-105 1-22 1 281 1-293 1 185 1-61 1 270 1-246 1 258 1-442 1 282 1 414 1-626 1 427 1-59 1-102 1-57 1-14 1-60 1-203 1 469 1-152 1-119 1 58 1 193 1-322 1 280 1-102 1-32 1-141 1 259 1-17 1-162 1 194 1-269 1 54 1 155 1 214 1-182 1-130 1 209 1-265 1 110 1-216 1 204 1 380 1-242 1 204 1-316 1-53 1 509 1-198 1-398 1-45 1 2 1 64 1 385 1 111 1-660 1 476 1-334 1-69 1 315 1-71 1-35 1-52 1 210 1-28 1 138 1-241 1-143 1 121 1-261 1 54 1 315 1 172 1-169 1-142 1 147 1-118 1-90 1 259 1-56 1-260 1 302 1-84 1-149 1-107 1 276 1 462 1 99 1-502 1-180 1 337 1-324 1 24 1 280 1-25 1-433 1 120 1-132 1 206 1-86 1-59 1-334 1 39 1 486 1-179 1 172 1-50 1 37 1-141 1 46 1 369 1-227 1-273 1 284 1-41 1-126 1 159 1-540 1 412 1 199 1 277 1-671 1-98 1-272 1 599 1 28 1 6 1-313 1 549 1-164 1 260 1-49 1 126 1-417 1 192 1-97 1 484 1-693 1 113 1-98 1 55 1 113 1-61 1-264 1 121 1 313 1-320 1 582 1-535 1 425 1-397 1-131 1 439 1 143 1-551 1 324 1 85 1-116 1 55 1-20 1 8 1 135 1-276 1-41 1-75 1-155 1 43 1-40 1 158 1-133 1-236 1 430 1-23 1-4 1-61 1-168 1 509 1-383 1 186 1-65 1 13 1 192 1-88 1-201 1 113 1-106 1 56 1-166 1 12 1-170 1 297 1 470 1-116 1-192 1-200 1 107 1-365 1 308 1 54 1-31 1-11 1-115 1 364 1 172 1-287 1-36 1-57 1 361 1-542 1-414 1 355 1 559 1-601 1 61 1 96 1-15 1 27 1-20 1 101 1-342 1 311" fill="none" stroke="#A99ED0" stroke-width="0.85" vector-effect="non-scaling-stroke"/>
<path transform="translate(390.30,0) scale(0.07870,0.1)" d="M0,1075 l1-297 1 183 1 491 1-388 1 417 1 45 1-101 1-185 1 177 1-352 1 511 1-108 1-96 1 184 1 102 1-324 1 82 1-590 1 316 1 334 1-231 1-420 1 358 1 105 1-100 1-140 1 147 1-78 1-131 1 268 1 439 1-576 1 171 1-141 1 98 1-52 1-186 1 469 1-594 1 201 1 432 1-142 1-81 1-288 1 379 1-194 1-94 1 126 1 420 1-313 1-254 1 239 1-51 1 16 1 146 1 39 1-295 1-102 1 7 1 230 1-37 1-141 1 509 1-191 1-100 1 174 1-113 1 108 1-394 1 394 1-190 1-104 1-285 1 38 1 395 1-527 1 67 1 94 1 617 1-207 1 67 1-389 1 129 1-84 1 48 1 159 1 431 1-615 1 224 1-126 1-327 1 258 1-9 1 348 1-271 1-111 1-84 1 608 1-309 1-13 1 308 1-178 1 16 1-326 1 84 1-71 1-184 1 126 1-40 1-109 1 233 1-574 1 459 1 108 1-224 1 325 1-70 1 354 1 248 1-480 1-39 1-101 1 342 1-442 1-243 1 65 1 437 1-323 1 326 1-411 1 346 1-260 1 18 1 34 1 44 1 239 1 284 1-353 1-186 1 177 1-110 1-304 1 325 1-164 1 164 1 1 1 287 1-286 1 469 1-83 1-429 1 278 1 118 1-289 1-183 1 310 1-340 1 118 1 294 1-9 1-664 1 280 1-92 1 27 1 128 1-16 1-140 1 258 1-399 1 65 1 196 1 135 1-103 1 141 1-344 1-104 1 460 1 209 1-349 1 143 1-150 1 548 1-416 1 129 1-466 1 288 1 157 1-69 1-249 1-16 1-4 1 104 1 408 1-266 1 36 1-196 1 193 1-107 1 157 1 88 1-280 1-282 1 507 1 1 1-39 1-542 1 336 1-97 1 100 1-133 1 126 1-242 1 138 1-8 1 374 1 167 1-371 1 298 1-37 1-230 1-239 1 390 1-108 1-172 1 395 1-449 1-197 1 189 1 142 1-318 1 401 1-47 1 87 1-202 1 36 1 51 1 23 1 336 1-473 1 362 1 12 1-581 1 8 1 224 1 262 1-130 1-330 1-119 1 121 1 284 1 478 1-438 1 192 1-38 1 104 1-444 1 167 1-155 1 33 1 293 1-464 1 732 1-264 1-201 1-320 1 101 1 289 1-105 1-2 1 22 1-507 1 638 1-190 1 71 1 190 1 100 1-398 1-19 1 308 1-505 1 468 1-229 1 318 1-500 1 139 1 20 1 196 1-124 1 306 1-82 1 164 1-295 1-227 1 154 1-259 1 428 1-434 1-151 1 503 1-146 1-67 1 460 1-13 1-7 1-445 1 160 1 144 1-601 1 587 1-247 1 164 1 40 1-135 1 39 1-150 1 35 1 219 1 205 1 581 1-462 1-222 1 34 1-306 1 185 1-578 1 113 1 68 1 69 1 480 1-1 1-109 1-100 1-75 1-52 1 128 1-95 1 311 1 255 1-405 1-360 1 124 1 211 1-305 1-183 1 363 1 204 1 85 1 93 1-622 1 387 1-85 1-3 1 127 1-525 1 203 1 413 1-201 1-507 1 444 1-133 1-176 1 234 1 171 1-62 1 233 1-285 1 306 1-274 1-46 1-133 1 539 1-150 1-68 1-330 1 331 1-16 1 184 1-422 1 47 1 133 1 188 1-1 1 70 1-184 1 43 1 53 1-398 1 117 1-319 1 434 1-467 1 134 1 376 1-17 1-210 1 555 1-499 1 334 1-92 1-200 1 182 1-49 1-166 1-74 1 602 1-542 1 206 1 0 1 270 1-109 1-493 1 503 1-239 1-380 1 20 1 211 1 299 1-133 1-38 1 118 1 19 1-52 1 54 1-239 1-57 1 390 1-367 1 197 1 289 1-381 1-48 1 290 1-343 1-230 1 418 1-396 1 295 1 121 1-1 1-137 1-116 1-73 1 332 1-146 1-178 1 619 1-117 1-228 1-208 1 277 1-23 1-245 1-41 1 78 1 199 1 109 1-565 1 134 1-65 1 43 1 14 1 272 1-61 1-354 1 155 1 190 1-227 1-72 1 223 1-751 1 763 1-118 1 276 1-118 1-250 1 62 1 80 1 178 1 386 1-92 1 97 1-253 1-79 1 110 1 60 1-584 1 606 1 69 1-294 1 67 1 85 1-66 1-111 1 119 1-234 1 206 1 142 1 192 1-395 1 177 1-151 1 177 1-56 1 47 1-185 1 118 1 219 1-243 1-431 1 467 1-281 1 136 1 201 1-22 1 3 1 45 1-103 1 45 1-267 1-21 1 92 1-363 1-175 1 427 1-25 1-306 1 88 1 78 1 283 1 142 1-668 1 729 1-118 1 132 1-389 1 46 1-47 1-183 1 339 1-487 1 190 1 103 1 491 1-669 1 59 1-107 1 247 1 386 1-270 1 67 1 150 1-360 1 526 1-293 1-176 1 294 1-351 1 480 1-193 1 380 1-595 1-93 1-7 1 70 1-142 1 280 1 110 1-230 1-34 1 48 1 10 1 55 1-356 1 696 1-238 1-8 1-19 1-201 1 466 1-583 1 262 1 299 1-312 1 554 1-105 1-259 1-192 1 205 1-59 1-374 1 259 1-240 1 180 1 213 1 5 1 270 1-174 1-311 1 80 1 51 1-74 1 50 1-86 1 43 1 81 1-45 1-441 1 271 1 124 1 86 1-70 1-94 1-399 1 895 1-427 1 37 1 61 1-508 1 560 1-169 1-138 1-453 1 503 1-45 1-141 1 192 1 172 1 16 1-153 1 176 1 143 1 65 1-257 1 459 1-211 1-140 1-525 1 176 1 343 1-68 1 47 1-268 1-226 1 202 1-129 1 213 1 19 1 120 1 376 1-597 1 126 1 281 1 89 1-439 1-30 1 194 1 170 1-488 1-3 1 103 1 139 1-176 1 133 1 186 1 120 1 37 1 75 1-91 1-482 1 579 1-50 1-112 1-429 1 185 1 99 1-274 1 253 1 419 1-604 1 273 1-437 1 244 1-333 1 358 1 189 1 232 1-284 1-373 1-196 1-8 1 471 1-109 1-236 1 229 1 596 1-278 1-331 1-12 1-36 1-89 1-12 1 263 1 128 1-237 1 287 1-325 1 81 1 386 1-85 1-27 1-109 1 110 1-208 1-223 1-60 1 492 1 252 1-556 1 385 1 47 1-165 1-348 1-168 1 492 1 763 1-793 1-119 1 318 1-242 1-536 1 35 1 278 1 258 1-487 1 623 1-297 1-96 1-56 1-158 1 82 1 723 1-465 1-101 1-13 1 100 1-290 1 371 1 170 1-191 1 63 1-121 1 31 1-160 1 112 1 84 1 32 1-76 1 10 1 166 1-119 1 374 1-456 1 52 1 26 1-97 1 208 1 81 1 219 1-340 1-51 1 52 1-399 1 646 1-550 1 388 1-204 1 373 1-136 1 105 1-201 1-144 1-166 1 77 1-206 1 203 1-239 1 225 1 124 1-167 1 668 1-271 1-340 1 216 1 83 1-522 1 61 1 223 1 159 1-214 1 45 1-18 1 279 1 152 1-159 1-37 1 212 1-240 1 439 1-176 1-172 1-151 1-139 1 138 1-167 1 245 1-188 1-168 1-243 1 515 1-226 1-141 1 116 1 422 1-581 1 523 1 115 1 13 1-195 1-113 1 209 1-157 1-127 1 67 1 41 1 32 1-123 1 14 1 149 1-203 1 420 1-710 1 296 1 258 1-41 1-135 1 82 1 145 1-219 1 42 1 242 1-669 1 324 1 124 1 210 1-296 1-410 1 408 1 9 1-115 1 346 1 86 1 53 1-332 1-219 1-2 1 214 1 91 1-318 1 296 1-132 1-222 1 390 1-171 1 197 1-281 1-101 1 248 1 16 1 275 1-24 1 173 1-268 1-252 1-105 1 146 1 185 1-213 1 393 1-293 1-50 1 526 1-684 1 252 1-73 1 230 1-156 1 81 1 27 1 325 1-777 1-7 1 568 1-177 1-545 1 279 1-21 1 713 1 58 1-420 1-285 1 348 1-9 1-359 1 154 1-276 1 440 1-403 1 397 1-216 1 291 1-333 1-101 1-87 1 242 1 158 1 159 1-290 1 44 1-155 1-20 1-227 1-24 1 442 1 34 1-288 1 161 1 339 1-615 1-98 1 446 1 109 1-77 1 145 1-283 1 192 1-81 1 246 1-144 1-34 1 467 1-103 1-50 1-397 1-331 1 276 1 245 1-171 1-278 1 64 1-418 1 450 1 2 1 24 1-447 1 537 1 20 1-265 1-122 1 309 1 8 1-88 1-295 1 427 1 67 1-72 1 19 1 128 1-126 1 201 1-40 1 73 1-497 1 519 1-81 1 128 1-114 1-500 1 572 1-115 1-26 1-215 1 30 1-77 1 500 1-289 1-198 1 87 1 311 1-215 1-161 1 13 1-6 1-49 1 165 1-93 1 408 1 207 1-723 1 670 1-620 1-130 1-243 1 229 1 133 1 287 1-141 1-75 1 498 1-248 1-122 1-125 1-139 1-9 1-311 1 651 1 112 1 213 1-430 1 313 1 28 1-375 1-141 1 397 1-306 1-67 1 114 1 28 1-119 1-277 1 353 1 367 1-42 1-22 1-162 1-72 1 219 1-239 1 20 1 142 1-328 1 230 1 26 1-193 1 303 1 112 1-146 1-160 1-174 1 394 1 174 1-417 1 32 1-136 1-199 1 330 1 445 1-324 1 68 1-179 1 41 1 13 1-227 1 33 1 191 1 101 1-294 1 40 1 259 1 204 1-367 1-36 1 10 1 137 1-600 1 257 1 467 1-231 1 203 1-96 1-410 1 388 1-4 1 196 1-364 1 133 1 228 1-423 1-81 1 282 1-397 1 298 1-287 1 457 1 116 1 228 1-53 1-537 1 250 1 40 1-304 1 53 1-328 1 411 1-88 1 93 1 176 1-214 1-156 1-293 1 325 1-136 1-30 1 269 1 420 1-266 1 42 1-306 1-45 1 475 1-234 1 262 1-130 1 43 1 105 1-193 1 161 1 58 1-231 1-84 1 181 1-564 1 99 1 392 1-175 1-58 1 202 1-184 1 24 1 504 1 260 1-551 1 34 1-178 1 473 1-195 1 132 1-534 1-202 1 408 1-169 1 358 1-188 1-135 1 11 1-106 1-68 1-34 1-79 1 346 1-156 1 38 1-115 1 162 1-43 1-137 1 36 1-61 1 472 1-204 1-160 1 316 1 115 1-190 1-401 1 281 1 377 1 52 1-255 1-68 1-43 1 375 1-562 1 137 1 180 1-330 1-72 1 353 1 265 1-144 1-439 1 9 1 96 1 361 1-192 1 332 1-270 1-474 1 369 1 150 1-239 1 305 1-172 1 290 1-76 1-113 1-305 1 32 1 218 1-112 1 195 1-425 1-170 1 78 1-52 1 332 1-248 1 477 1-385 1-307 1 370 1-25 1 279 1-247 1 187 1-13 1 410 1-361 1-46 1-116 1-159 1 410 1-131 1-54 1 175 1-167 1-336 1 560 1-613 1 171 1 187 1 131 1-302 1-191 1 550 1-515 1-19 1 328 1 186 1-13 1-333 1 135 1-73 1 29 1 114 1 152 1-217 1-45 1-236 1 85 1 330 1-290 1 160 1-194 1 157 1 66 1 289 1-281 1 87 1-239 1 73 1 224 1-367 1 656 1-353 1 35 1-316 1 7 1 265 1-187 1-240 1 98 1 343 1-46 1-57 1 137 1-42 1-119 1-34 1 102 1 327 1-527 1 332 1-243 1 194 1 21 1 207 1-647 1 168 1 29 1 6 1 96 1 174 1-117 1 404 1-230 1-56 1-152 1-286 1 54 1 337 1-266 1 335 1-141 1 255 1-59 1-143 1 29 1 32 1-221 1-139 1 389 1 27 1-1 1-242 1-426 1 301 1 144 1-256 1-152 1 245 1 138 1-359 1 146 1 341 1-345 1 217 1-180 1 255 1 562 1-325 1-299 1 274 1-34 1-120 1-338 1 284 1-185 1 85 1-119 1 214 1-203 1 181 1-308 1 194 1-211 1 158 1 489 1 339 1-999 1 243 1 665 1-645 1-91 1 202 1 55 1-243 1 588 1-244 1-297 1-36 1-9 1 104 1 81 1 292 1-175 1 187 1-215 1-323 1-47 1 127 1-37 1 492 1-418 1 393 1 22 1-156 1-281 1-130 1 345 1-267 1 155 1-4 1 70 1-338 1 222 1 19 1 167 1 68 1-396 1 77 1 193 1 162 1-511 1-420 1 306 1 145 1 31 1-125 1 206 1-115 1-1 1 157 1 173 1-477 1 428 1-84 1-17 1 107 1 228 1-53 1-244 1 231 1 123 1-260 1-115 1-160 1 363 1 50 1-326 1 39 1-7 1-3 1 337 1-463 1-259 1 487 1 87 1-161 1 606 1-363 1-314 1 24 1 324 1-618 1-59 1 42 1 131 1 64 1 724 1-650 1-4 1 39 1-113 1 442 1-582 1 462 1-472 1 447 1-211 1-23 1-120 1-181 1 358 1-37 1 238 1 112 1 60 1-387 1-74 1 415 1-179 1 62 1-213 1 111 1-5 1-243 1-51 1 519 1-368 1 337 1-416 1 101 1 132 1-242 1 78 1 101 1-11 1-70 1 49 1-82 1 111 1 365 1-62 1-140 1 16 1 236 1-156 1-7 1-397 1-46 1 134 1 193 1 118 1-505 1 59 1 15 1 4 1 173 1 212 1-2 1-326 1 158 1-463 1 208 1 225 1-43 1 214 1-263 1-161 1 227 1-197 1 149 1 10 1 324 1-165 1-530 1 273 1 147 1-41 1-266 1 712 1-98 1-315 1 177 1-239 1 115 1-219 1-105 1 393 1 162 1-132 1-399 1 15 1-36 1 311 1 491 1-395 1-442 1 510 1-268 1 577 1-548 1-73 1 210 1-328 1 169 1 38 1-299 1 126 1 719 1-573 1-134 1 479 1-480 1 197 1 23 1-374 1 471 1 291 1-677 1 216 1-234 1 478 1-181 1-313 1 347 1-6 1-1 1 361 1-738 1 206 1-33 1 696 1-645 1 471 1-466 1-17 1-321 1 319 1 234 1 97 1-195 1 254 1-391 1 124 1 255 1 35 1 124 1-210 1-226 1 122 1 155 1 326 1-776 1 70 1 238 1-215 1 192 1 199 1-65 1-244 1 127 1 214 1-372 1 186 1-129 1-250 1 311 1-325 1 324 1 258 1 66 1-137 1 161 1-14 1-414 1 186 1 10 1 145 1-473 1-131 1-57 1 349 1-70 1 130 1-169 1 158 1 89 1 52 1-25 1 168 1-190 1-278 1-291 1 582 1-27 1-60 1-285 1 294 1 24 1 46 1-359 1-90 1 223 1 21 1-84 1-518 1 619 1 78 1 103 1-216 1-154 1 113 1 141 1 112 1-200 1 30 1 271 1-287 1 180 1-50 1-150 1-238 1 212 1 152 1 71 1-486 1 84 1 146 1-44 1 112 1-36 1 148 1 211 1-56 1-249 1 123 1 151 1 98 1-225 1 334 1-714 1 215 1 139 1-325 1 281 1-298 1 192 1 305 1 22 1-70 1-49 1-203 1 46 1 248 1-143 1 134 1-153 1-34 1 205 1-413 1-116 1 89 1 187 1 24 1 32 1-358 1 177 1-4 1 35 1-21 1 55 1 486 1 117 1-182 1 95 1-284 1-63 1-253 1 202 1 140 1 180 1-97 1-111 1-348 1 37 1 229 1-396 1 293 1 58 1 37 1 79 1-151 1 128 1 140 1-316 1-97 1 309 1 38 1 19 1-399 1 57 1 221 1 368 1-236 1 25 1-322 1 12 1-125 1 142 1 172 1-36 1 171 1-350 1-116 1 573 1-107 1-272 1 280 1-505 1 79 1 0 1 267 1 17 1-247 1 413 1-339 1 90 1 174 1-459 1 158 1-145 1 349 1-302 1 61 1 175 1 278 1-525 1 318 1-497 1 321 1 15 1 75 1 104 1-218 1 91 1 110 1-103 1-62 1 3 1-203 1 283 1 41 1-296 1 44 1 435 1-128 1-226 1-261 1 99 1 162 1 314 1 166 1-380 1-351 1-3 1 174 1 48 1 149 1 333 1-353 1 231 1-341 1 1 1-1 1-144 1 484 1-235 1 340 1-225 1-185 1 36 1 17 1 16 1-32 1-62 1-150 1 144 1-45 1 182 1 228 1-25 1-377 1-94 1 306 1 131 1-106 1 15 1 292 1-244 1-149 1 92 1-335 1 441 1 243 1-453 1 129 1 133 1 120 1-211 1-540 1-36 1 348 1 402 1 137 1 59 1-600 1-164 1 259 1-25 1 286 1-435 1 87 1-80 1-3 1-215 1 389 1 27 1 71 1-59 1-120 1 122 1-11 1 60 1 189 1 114 1-439 1 504 1 47 1-417 1-165 1 34 1 122 1 295 1-19 1-437 1 284 1-23 1-204 1-66 1 352 1-135 1-124 1-162 1 350 1-90 1-265 1 22 1 241 1 222 1 200 1-183 1-232 1 6 1-194 1 258 1-273 1 381 1-171 1 35 1 142 1-278 1-306 1-89 1 388 1-358 1 483 1 79 1-432 1 341 1-34 1-98 1-7 1-223 1 67 1 515 1-415 1 504 1-454 1-40 1-86 1-171 1 522 1-62 1-421 1 79 1-39 1 425 1-113 1 344 1-639 1 791 1-744 1 419 1-21 1-286 1 142 1-420 1 154 1 25 1 106 1-325 1 448 1-195 1-141 1 82 1-98 1 125 1 61 1 132 1-409 1 19 1-66 1-2 1-57 1 38 1 239 1 194 1-113 1-267 1 255 1 354 1-260 1 379 1-302 1 52 1-377 1 460 1-277 1 349 1-145 1-72 1 7 1-180 1 93 1 465 1-47 1-550 1 410 1-340 1 379 1-481 1 71 1 134 1 152 1 106 1-35 1 120 1-234 1-154 1 29 1 16 1 186 1-168 1-15 1-162 1 457 1-410 1 38 1-310 1 270 1-53 1-188 1-96 1 62 1 247 1 327 1-385 1 512 1-241 1-192 1 67 1 154 1-121 1 306 1-284 1-41 1 131 1 179 1 114 1-558 1 99 1 253 1-77 1-54 1 386 1-51 1-323 1 169 1-85 1-165 1-57 1-123 1 181 1-167 1 390 1-365 1 96 1-208 1 184 1 180 1-64 1-3 1-18 1 79 1 389 1 261 1-609 1-159 1 276 1 82 1 198 1-348 1-99 1-91 1-61 1 609 1-694 1 423 1-281 1-85 1 133 1 212 1-71 1-14 1 330 1-27 1-512 1 108 1 201 1-340 1-102 1 244 1-20 1 207 1-488 1 37 1-168 1 455 1-310 1 83 1-229 1 328 1-171 1-164 1 29 1-20 1 264 1-21 1 41 1 333 1-165 1-233 1-36 1 14 1-1 1 287 1 94 1-98 1-268 1 437 1-1 1-99 1-398 1 113 1 127 1 180 1-102 1-100 1-347 1 230 1 51 1-290 1 369 1 20 1-120 1 235 1-514 1 227 1-91 1-69 1 112 1 498 1-261 1-155 1-348 1 646 1 304 1-593 1 20 1 204 1 206 1-507 1-89 1 621 1-229 1-213 1 128 1-268 1 156 1-43 1 588 1-89 1-250 1-380 1-91 1 195 1 188 1-254 1 136 1 217 1-73 1 15 1 336 1-139 1-453 1 203 1-200 1-53 1 359 1-229 1 222 1 164 1 177 1-470 1 193 1-13 1 108 1-463 1 152 1-143 1 228 1 5 1 117 1-245 1 305 1-212 1-196 1 11 1 363 1-191 1 190 1-573 1 344 1 53 1-16 1-206 1 37 1-174 1 203 1 54 1 204 1 62 1 109 1-142 1 3 1-133 1-98 1-52 1 26 1 171 1-364 1 4 1 80 1 274 1-260 1-219 1 264 1 206 1 27 1-256 1 319 1 131 1-342 1 189 1-160 1 412 1-272 1 172 1-392 1 105 1-80 1-373 1-140 1 302 1-20 1 298 1 501 1-256 1-248 1-230 1 488 1-237 1 358 1-240 1-237 1-189 1 180 1 155 1-54 1 35 1-48 1-379 1 180 1-177 1 273 1 99 1 56 1 337 1-403 1 462 1-510 1 8 1 152 1-121 1-6 1 47 1 75 1-396 1 194 1 242 1 193 1-210 1 5 1-131 1-275 1 57 1 196 1-117 1 309 1-12 1-324 1 59 1 109 1 403 1-435 1 7 1-365 1 341 1 107 1-143 1 124 1 30 1 204 1-391 1-276 1 571 1-331 1 184 1 282 1-346 1 75 1-399 1 245 1 283 1 21 1-119 1-230 1 305 1-448 1-118 1 155 1 214 1 47 1 426 1-165 1 308 1-424 1-45 1-470 1 478 1-3 1 184 1-6 1-83 1-129 1-601 1 363 1-127 1 506 1-15 1-279 1 94 1-195 1 186 1-265 1-109 1 356 1 54 1-38 1 17 1 123 1-35 1 11 1 142 1-150 1-235 1 321 1-36 1-450 1 64 1-90 1 293 1-16 1-156 1 554 1-541 1 434 1-665 1 394 1-5 1 233 1-178 1-86 1-76 1 16 1 185 1 20 1-190 1-46 1-189 1 491 1-265 1 509 1 77 1 177 1-357 1-417 1-17 1 472 1-268 1-193 1-231 1 215 1 241 1 127 1 55 1-228 1-208 1 178 1 70 1-147 1 374 1-550 1 110 1 151 1 433 1-524 1 76 1 68 1-146 1-162 1 546 1-192 1-275 1 239 1 210 1-196 1 55 1-343 1 62 1 375 1-17 1 115 1-189 1-15 1-378 1 124 1 309 1 59 1 359 1-546 1-45 1 342 1-111 1 45 1-20 1-114 1 46 1 204 1-324 1-187 1 45 1 278 1-255 1 328 1-709 1 701 1-321 1-185 1 399 1-416 1 75 1 291 1 107 1-290 1-530 1 443 1 1 1 149 1-227 1 253 1 137 1 46 1-143 1 205 1 116 1-279 1 227 1-358 1 137 1-200 1-87 1-14 1 339 1-160 1-181 1 41 1 0 1 236 1-93 1-205 1 263 1 331 1-174 1-55 1-119 1-91 1 170 1-242 1-355 1 369 1 346 1-28 1-179 1-150 1 213 1-270 1 97 1-78 1-98 1-40 1 206 1 217 1 41 1 52 1 39 1-204 1-44 1 313 1 228 1-277 1-582 1-44 1 714 1-219 1-263 1 6 1-98 1 88 1 100 1-312 1 211 1 341 1 249 1-379 1-30 1 38 1-27 1-93 1-109 1 13 1 159 1 79 1 199 1-333 1-121 1 66 1 319 1-67 1-68 1-149 1 112 1 294 1-218 1-301 1-65 1 155 1 346 1-234 1 33 1 65 1-199 1 235 1 338 1-563 1-188 1-117 1 125 1 85 1 272 1 246 1-537 1-114 1 703 1-5 1-367 1 213 1 86 1-433 1-37 1 71 1 215 1 193 1-389 1 34 1-534 1 45 1 224 1 160 1 380 1-291 1 288 1-277 1-150 1 289 1-330 1 31 1 223 1-137 1 511 1-81 1-336 1-31 1-126 1-42 1 190 1-81 1-183 1 316 1-178 1 432 1-493 1-2 1 253 1-213 1-326 1 510 1-325 1 501 1-554 1 45 1 206 1-104 1-9 1 434 1-180 1-92 1-434 1-265 1 534 1-116 1 397 1-44 1 315 1-436 1-229 1 209 1 52 1 118 1 71 1-656 1 472 1-199 1 340 1-33 1-145 1 201 1-333 1 295 1 53 1-334 1-11 1 339 1 98 1 32 1-326 1-224 1-377 1 617 1-2 1 273 1-435 1 477 1-528 1-30 1 815 1-329 1 224 1-139 1-178 1 1 1 430 1-367 1-105 1-325 1 120 1 392 1-416 1 23 1 382 1-211 1 163 1-334 1 411 1 28 1-300 1-5 1-202 1 514 1 101 1-580 1 143 1 44 1-132 1 288 1-173 1-157 1 353 1-211 1 214 1 260 1-76 1-351 1-56 1-132 1-73 1 270 1 112 1-208 1-15 1-18 1 594 1-242 1-388 1-295 1 543 1-191 1-5 1 296 1-155 1-119 1-142 1 85 1 26 1-44 1-361 1 293 1 124 1-19 1 14 1 117 1-184 1 233 1 185 1-319 1 200 1-206 1 4 1 122 1-119 1 58 1 92 1-65 1 143 1 21 1-226 1-36 1-204 1 273 1-221 1 219 1-129 1 98 1 175 1 167 1-189 1 34 1-327 1-34 1-13 1 374 1 149 1-84 1-246 1 184 1-279 1-40 1 181 1 316 1-187 1-135 1-136 1 276 1-13 1-213 1-14 1-282 1 320 1-136 1 316 1-230 1 201 1 87 1-40 1-67 1 84 1-190 1 116 1 148 1-168 1-218 1 36 1-170 1 129 1 477 1-341 1-424 1 451 1-184 1 347 1-537 1 196 1 61 1-212 1 529 1-324 1 249 1-547 1 393 1 396 1 30 1-119 1-173 1-39 1-208 1 489 1-173 1 57 1-184 1 178 1 91 1-213 1-118 1-9 1 12 1-90 1 219 1-257 1 402 1 51 1-162 1-356 1 114 1-6 1-117 1 66 1 149 1-211 1 342 1-300 1 392 1-515 1 310 1-212 1 297 1-34 1-292 1 135 1-201 1 198 1-117 1-246 1 121 1 88 1-121 1 244 1-127 1 488 1-155 1 56 1 143 1-128 1-172 1 23 1-221 1 254 1 186 1-438 1-230 1 499 1 281 1-317 1-141 1 142 1-215 1 118 1 78 1-26 1 193 1-201 1 189 1-226 1 219 1 154 1-60 1 34 1 284 1-482 1 0 1-332 1-78 1 177 1-22 1 80 1 214 1-102 1 50 1-186 1 94 1 38 1 47 1-91 1 102 1 166 1-381 1 61 1-233 1 239 1 13 1 144 1-396 1 445 1-405 1 714 1-464 1 188 1 566 1-350 1-484 1-94 1 188 1 89 1-83 1-187 1 288 1-87 1-83 1 130 1-165 1-108 1-59 1-78 1 24 1 427 1-1 1-284 1 261 1-99 1-8 1 132 1-348 1 260 1-143 1 105 1 244 1-54 1 55 1-257 1-169 1-214 1 266 1 431 1-189 1-315 1 182 1-47 1-17 1 629 1-549 1-172 1 395 1-213 1-544 1 377 1 287 1-520 1 323 1 86 1 66 1-148 1-85 1 353 1-235 1-157 1 302 1-231 1 89 1-173 1 356 1-236 1 212 1 165 1 159 1-293 1-182 1 258 1-451 1 654 1-413 1-96 1 299 1-98 1-225 1 143 1-176 1 300 1-178 1 56" fill="none" stroke="#542788" stroke-width="0.85" vector-effect="non-scaling-stroke"/>
<path transform="translate(390.30,0) scale(0.07870,0.1)" d="M0,1001 l1 173 1 209 1 171 1-167 1-236 1 102 1-47 1 254 1-57 1-475 1 331 1-16 1 104 1-9 1-206 1 334 1-361 1-384 1 211 1 160 1-273 1 333 1-205 1 260 1 249 1-220 1 11 1-457 1 354 1 528 1-396 1 303 1 211 1-285 1-457 1 266 1-219 1-16 1-122 1 258 1 176 1-187 1-117 1-7 1-254 1 441 1 87 1-285 1-110 1 521 1-220 1-460 1 564 1 70 1 171 1-8 1-152 1-319 1-102 1 59 1 353 1-301 1 154 1-3 1 465 1-325 1-297 1-196 1 366 1-411 1 427 1-294 1 178 1 198 1-267 1 169 1 521 1-559 1 264 1-215 1-55 1-49 1-39 1-545 1 657 1-85 1-164 1 545 1-499 1 155 1 116 1-97 1 298 1-46 1-550 1 29 1-362 1 502 1 6 1 47 1 123 1-171 1 19 1-151 1 297 1-336 1 275 1 381 1-170 1-452 1-8 1 261 1-147 1 198 1-162 1 94 1-281 1 365 1-235 1 250 1-270 1 354 1 160 1-189 1-629 1 440 1 253 1-240 1 15 1 336 1-209 1 26 1-239 1 149 1 257 1-272 1-677 1 504 1 188 1-179 1-180 1-160 1 486 1-61 1 635 1-494 1 61 1 110 1 75 1-241 1-86 1-110 1 413 1 98 1-54 1-214 1-49 1-186 1 91 1-50 1 74 1 146 1-72 1-428 1 383 1-600 1 476 1 439 1-505 1 205 1-273 1 97 1-89 1 10 1-136 1 446 1-88 1-189 1 144 1-309 1 218 1 132 1 202 1-99 1-215 1-316 1 352 1-210 1 297 1 346 1-208 1-421 1 175 1 83 1-194 1 122 1 182 1-226 1 272 1-359 1 303 1-304 1 358 1-66 1 231 1-368 1 111 1-75 1 315 1-226 1-78 1 168 1-38 1-196 1-269 1 166 1-334 1 656 1 17 1 83 1-587 1 199 1 189 1-443 1 181 1 629 1-1 1-586 1 139 1 364 1-66 1-338 1 106 1-225 1 310 1 135 1-308 1-426 1 139 1 54 1 309 1 342 1-592 1 16 1 178 1 110 1-324 1 394 1 49 1-130 1 58 1-129 1 6 1-43 1 205 1 150 1-239 1 110 1-342 1 172 1 144 1-87 1-36 1 136 1 30 1-43 1 181 1-283 1 77 1-127 1 235 1-146 1 67 1-347 1-11 1 153 1-372 1 525 1-292 1 76 1-340 1 951 1-783 1 486 1-447 1 435 1-302 1 86 1-382 1 581 1 150 1-399 1-95 1 430 1-189 1-103 1-36 1 170 1-246 1-196 1 489 1-433 1 360 1-107 1 73 1-105 1 257 1-135 1-180 1 123 1-344 1 425 1-32 1-9 1-169 1 250 1 81 1-256 1-22 1 131 1-206 1 41 1-14 1-37 1-297 1-68 1 225 1 620 1-147 1-429 1-53 1 344 1-85 1-176 1 165 1-21 1 91 1-55 1 73 1-281 1 210 1 40 1-180 1 122 1 8 1 372 1-293 1-65 1-304 1 397 1-37 1-232 1 201 1 215 1-129 1-316 1 66 1-201 1-230 1 555 1-84 1 145 1 141 1-254 1 508 1-566 1 173 1-168 1 15 1 260 1-22 1-541 1 711 1-280 1-174 1 481 1 79 1-175 1-310 1 50 1 20 1 35 1-294 1 28 1 260 1 91 1-252 1 263 1-253 1 340 1 6 1-312 1 77 1 26 1 214 1-275 1 467 1-296 1 247 1-71 1-79 1 142 1-190 1-48 1-180 1-72 1 37 1-259 1 640 1-207 1-41 1 387 1-283 1 126 1-168 1 145 1-280 1 113 1-195 1 520 1-230 1 357 1-824 1 518 1-50 1-242 1 119 1-115 1 174 1-67 1-59 1 193 1 176 1 22 1-197 1-138 1-214 1 46 1 292 1 19 1-555 1 387 1-66 1-198 1 320 1 357 1-924 1 208 1 288 1 123 1-86 1 64 1 185 1 62 1 97 1-226 1-469 1 196 1 215 1 246 1-238 1-46 1 197 1-249 1 318 1-337 1 138 1-71 1-114 1-190 1 496 1-148 1 32 1-2 1-380 1 108 1-29 1 280 1-337 1 212 1 252 1-146 1 237 1-633 1 485 1-200 1-188 1 137 1 315 1-464 1 222 1 250 1-295 1-20 1-72 1 279 1-511 1 161 1-134 1 37 1-51 1 365 1-184 1 221 1-286 1 53 1 389 1-396 1-31 1-108 1 226 1 183 1 36 1-467 1 423 1-158 1-205 1-179 1 780 1-332 1-292 1-212 1 245 1 282 1 227 1-93 1-320 1 368 1-313 1 292 1-244 1 134 1-372 1 239 1 153 1 252 1-576 1 115 1 186 1-79 1-153 1-20 1 143 1 40 1 0 1-198 1 143 1 28 1 93 1-265 1 26 1 95 1-107 1 26 1 139 1 145 1-73 1-120 1 303 1 113 1-238 1 83 1-55 1 89 1-534 1-282 1 120 1-32 1 348 1-248 1 667 1 384 1-428 1-6 1-342 1 68 1 28 1 98 1-24 1-43 1-27 1-337 1-80 1 219 1 228 1 140 1-14 1 18 1 174 1-107 1-336 1 223 1 38 1-7 1-15 1-186 1 129 1-37 1-313 1 185 1-251 1 435 1 238 1-271 1-143 1-315 1 220 1 293 1-302 1 381 1-173 1-74 1 107 1-20 1-453 1 460 1-448 1 93 1 169 1-65 1-221 1 629 1-145 1 16 1-87 1-91 1 246 1-160 1 95 1 308 1-21 1 9 1 115 1-523 1-25 1 234 1-540 1 447 1 13 1-15 1 109 1 49 1-440 1 336 1-56 1-97 1-213 1 212 1 0 1-129 1-358 1 628 1-51 1-211 1 70 1 443 1-529 1-28 1 145 1-258 1-92 1 401 1-95 1 356 1-8 1 81 1-155 1 186 1-652 1 199 1 157 1 32 1 101 1 36 1 49 1-468 1 211 1-188 1 60 1-34 1-7 1 379 1-595 1 144 1-61 1 27 1-300 1 460 1 536 1-63 1-176 1-234 1-156 1-96 1 144 1 393 1-333 1 144 1 16 1 268 1-93 1-309 1 116 1 364 1-135 1-462 1 388 1 138 1-61 1-499 1 362 1 134 1-415 1-111 1 343 1-208 1 109 1-200 1 255 1 21 1-73 1-46 1 23 1-206 1-113 1 389 1-303 1 102 1 179 1-128 1 486 1-344 1-17 1-33 1-249 1 557 1-263 1-62 1 69 1 210 1-255 1-58 1-48 1-382 1 276 1 442 1 307 1-8 1-306 1 13 1-109 1-251 1 81 1 151 1-68 1-170 1-210 1-8 1 724 1-394 1-169 1-149 1 13 1 161 1 157 1-114 1-242 1-166 1 239 1 204 1-93 1 286 1-52 1 98 1-27 1-33 1-61 1-103 1-27 1 14 1 537 1-381 1 115 1-507 1 139 1 299 1-247 1 409 1-359 1 188 1-212 1 325 1-229 1 55 1-143 1 168 1-263 1-151 1 111 1-43 1-219 1 649 1 168 1-235 1-2 1-188 1 1 1 248 1 135 1-484 1-81 1 464 1-222 1-330 1 111 1 5 1 104 1 291 1-74 1 72 1-356 1 165 1 109 1-233 1 125 1-22 1 426 1-421 1 106 1-95 1-50 1 181 1 110 1 66 1-270 1 107 1-231 1 259 1-291 1 263 1-193 1-248 1 563 1 324 1-661 1-181 1 381 1-69 1 30 1-429 1 326 1-156 1 480 1-661 1 335 1 32 1-172 1-204 1 212 1 460 1 32 1-71 1-376 1 369 1-451 1 293 1-404 1 98 1 252 1-55 1-284 1 285 1-493 1-80 1 614 1 460 1-756 1 367 1 99 1 282 1-393 1-217 1 161 1 234 1-392 1 409 1-69 1-209 1 141 1-383 1-307 1 718 1-617 1 328 1-2 1-401 1 336 1 24 1 114 1-75 1 119 1-554 1 251 1 208 1 58 1 253 1-258 1-174 1 69 1-39 1 592 1-77 1-374 1 206 1-90 1-163 1 256 1-71 1 356 1 48 1-426 1 266 1-120 1 12 1-27 1-260 1 170 1 54 1-164 1 112 1 148 1-219 1-162 1-221 1 227 1 87 1 207 1 57 1-20 1 237 1-11 1-501 1-184 1 300 1-291 1-153 1 55 1 42 1 127 1 238 1-73 1 61 1-198 1-156 1 156 1 222 1-391 1 313 1 87 1-598 1 641 1-90 1 303 1-224 1 154 1-594 1 8 1 254 1-1 1-41 1 28 1 253 1-54 1-105 1-30 1-43 1 355 1-937 1 390 1 10 1 446 1-101 1-517 1 443 1 95 1 70 1 13 1 196 1-109 1-8 1 72 1-240 1 205 1-178 1-144 1 58 1-117 1-89 1-85 1-386 1 490 1 386 1-285 1 134 1 198 1-244 1 12 1-636 1 482 1 316 1-394 1 226 1 28 1 62 1-245 1 2 1 49 1 139 1 57 1 248 1-453 1 393 1 203 1-146 1-754 1 201 1-21 1 218 1 114 1 105 1-396 1 66 1-54 1-321 1 702 1-173 1 86 1-281 1-16 1 82 1 177 1 147 1-20 1-30 1-166 1-162 1-316 1-175 1 498 1-114 1 79 1 49 1 72 1 164 1-81 1-414 1 355 1-173 1 265 1-262 1 221 1-28 1 1 1 412 1-455 1 116 1 65 1-424 1 25 1 321 1-189 1 287 1 35 1-485 1 632 1-366 1-570 1 323 1 250 1 37 1-234 1 283 1-184 1-223 1 220 1 62 1-31 1-35 1-78 1 156 1-314 1 424 1-190 1 83 1-395 1 382 1 97 1 29 1 13 1 232 1-356 1-103 1 120 1 70 1 74 1 13 1 26 1-327 1-211 1 260 1 43 1 356 1-405 1-79 1 554 1-372 1 114 1 196 1-493 1-21 1 390 1 47 1-32 1-400 1 376 1-246 1 30 1-181 1 274 1 39 1-87 1-144 1-41 1 603 1-186 1-127 1-348 1 22 1 453 1-412 1 393 1 35 1-117 1-478 1 137 1 135 1 64 1-96 1-237 1 132 1-5 1-311 1 26 1 283 1 462 1-24 1-18 1 6 1-252 1-112 1 206 1-71 1-57 1 156 1-318 1-37 1-66 1 242 1 124 1-144 1 323 1-413 1-169 1 148 1 407 1-212 1-25 1-71 1-120 1 12 1 470 1-447 1 277 1-477 1 463 1 67 1-309 1 478 1-42 1-208 1 142 1-60 1 204 1-385 1 341 1-201 1-192 1 99 1 35 1-56 1-249 1 291 1 39 1 102 1-356 1 60 1 89 1 4 1-142 1-174 1 43 1-83 1 227 1 108 1-207 1-147 1-130 1 367 1 107 1 64 1-80 1 400 1-85 1-275 1-286 1 301 1 220 1-239 1-328 1 425 1 51 1-239 1 373 1-404 1 558 1-381 1 215 1 98 1-139 1-204 1 146 1-195 1 41 1-65 1-248 1 71 1-182 1 93 1 537 1-220 1-182 1 3 1-124 1 155 1 80 1-374 1 681 1-237 1-453 1 427 1 152 1-544 1 314 1 379 1-774 1 516 1 67 1-241 1 201 1-98 1 117 1-271 1 214 1-232 1 145 1 249 1 369 1-106 1-327 1-389 1 107 1 735 1-234 1-631 1 272 1-219 1 493 1 85 1-184 1-275 1 41 1 176 1 104 1-261 1-171 1 465 1 100 1-413 1 1 1-18 1 99 1 236 1-216 1 211 1 431 1-165 1-312 1 38 1-224 1 163 1-706 1 446 1 158 1 263 1-633 1 450 1-97 1 300 1-83 1-142 1-128 1 38 1-332 1-235 1 889 1-16 1-337 1-56 1-292 1 553 1-21 1-241 1 89 1 57 1-25 1-52 1-42 1-17 1 106 1 194 1-145 1-71 1-54 1 196 1-319 1 193 1 2 1 183 1-220 1 171 1-6 1-47 1-250 1 166 1 406 1-274 1-40 1-184 1 217 1-86 1-175 1 294 1-19 1-335 1-16 1 241 1-189 1 162 1 222 1-315 1 376 1-796 1 37 1 492 1-318 1 208 1 189 1-235 1 458 1-44 1-147 1 222 1 174 1-574 1-306 1 327 1 55 1 74 1-402 1-80 1 590 1-245 1 194 1-113 1 12 1 178 1-450 1 69 1 525 1 41 1-404 1 78 1-157 1-5 1 11 1-130 1 47 1-15 1 258 1-195 1-210 1 326 1-56 1-135 1 200 1 115 1-397 1 51 1 47 1-35 1 99 1 70 1 52 1-265 1 584 1-426 1-188 1 233 1 77 1 114 1-323 1-226 1 311 1 223 1-197 1-31 1 258 1-59 1-308 1 271 1 234 1-556 1 393 1-31 1 442 1-538 1 194 1-214 1 110 1-43 1-403 1-186 1 692 1 41 1-401 1 285 1 22 1-41 1-51 1-62 1-101 1 74 1 151 1-401 1-47 1 257 1 34 1-133 1 192 1-126 1 335 1-428 1 40 1-63 1 24 1-269 1 440 1 202 1-102 1 163 1-313 1-99 1 233 1-536 1 13 1 719 1-43 1-47 1 35 1-152 1-310 1 151 1 149 1-88 1 111 1-205 1 532 1-454 1 170 1 109 1-436 1-86 1 252 1 20 1 118 1-85 1 147 1 13 1-377 1-98 1 530 1-175 1-218 1-222 1 262 1 286 1 52 1-62 1 138 1-232 1-55 1-135 1 21 1 229 1-36 1-70 1 24 1 366 1-430 1 535 1-158 1-388 1-215 1 149 1 305 1-66 1-81 1 104 1-452 1 185 1 105 1-318 1 572 1 8 1 31 1-85 1-196 1-143 1-307 1 153 1 153 1 547 1-368 1 451 1-316 1 58 1-253 1-107 1 164 1-111 1-18 1 94 1 238 1-86 1 112 1-57 1 37 1 17 1-143 1-172 1 449 1-50 1-256 1-224 1-49 1 174 1-46 1-85 1 62 1 187 1-71 1 113 1-259 1-63 1 168 1 193 1-308 1 69 1 305 1-317 1-473 1 231 1-143 1 257 1-114 1 591 1-457 1-74 1 183 1 193 1-169 1-16 1 283 1-313 1-146 1 478 1-198 1-93 1-222 1 396 1 61 1-518 1 181 1 36 1 29 1 3 1 86 1 246 1-10 1-165 1 235 1-313 1 140 1-136 1-206 1-37 1 671 1-253 1-132 1-97 1 10 1 17 1 322 1-254 1-42 1-22 1 211 1-439 1 392 1-206 1 443 1-215 1-41 1-41 1-104 1-148 1 36 1-122 1 12 1 228 1 208 1-214 1 434 1-457 1-269 1-53 1 279 1 278 1-30 1-183 1 338 1-332 1 184 1-184 1-13 1-81 1 185 1 469 1-356 1 46 1-106 1 80 1-473 1-253 1 407 1-93 1 498 1-291 1 135 1 0 1 20 1-6 1-252 1 121 1 200 1-286 1-296 1 320 1-79 1 330 1-66 1-210 1-114 1 15 1-19 1-487 1 490 1 570 1-257 1-177 1 15 1-238 1 414 1 284 1-185 1-160 1-928 1 1051 1-521 1 20 1 263 1-361 1 42 1 279 1 16 1 340 1-257 1 73 1 27 1 45 1-662 1 251 1 48 1-436 1 638 1-157 1 186 1 199 1-241 1-268 1 410 1-98 1-101 1-56 1 138 1 280 1-147 1-302 1 316 1-516 1 541 1-338 1 122 1-86 1-109 1 207 1-179 1-167 1 138 1 320 1-422 1-228 1 225 1 519 1-494 1 482 1 9 1 136 1-215 1-156 1-18 1-67 1 92 1-19 1-70 1 76 1 151 1-100 1 6 1 98 1 126 1-502 1-42 1 382 1-153 1-129 1-184 1 88 1 356 1 55 1 445 1-64 1-573 1-130 1-228 1 275 1 254 1 153 1-206 1 6 1-222 1 167 1 43 1 123 1 87 1-355 1 213 1-315 1 233 1 258 1-514 1 119 1 236 1-392 1 320 1 185 1-362 1 505 1-527 1 159 1 243 1-460 1 559 1-85 1-113 1-213 1 170 1-408 1 227 1-185 1 188 1-10 1 33 1 261 1 378 1-824 1 287 1-211 1 383 1 122 1-390 1-197 1 283 1 300 1-200 1-186 1 406 1 65 1-367 1-222 1 263 1-663 1 265 1 295 1-150 1-47 1 288 1-246 1 49 1 266 1-150 1-155 1 34 1-341 1-13 1 277 1 567 1 102 1-165 1 154 1-258 1-492 1-9 1-269 1 339 1 64 1 153 1-409 1 356 1 321 1 51 1-211 1 148 1-94 1-14 1-324 1 182 1 208 1-43 1-415 1 400 1-500 1 372 1 210 1 176 1-281 1-28 1 279 1-349 1-224 1 712 1-44 1-331 1 70 1-49 1-57 1-167 1 129 1 99 1-339 1 256 1-387 1 619 1-290 1-247 1 149 1-106 1 535 1-322 1-210 1 40 1 300 1 57 1-166 1-97 1 124 1-184 1 207 1 0 1-62 1-129 1 135 1-283 1 481 1-216 1 115 1-304 1-78 1 375 1-127 1-40 1 425 1-431 1 299 1 143 1-330 1 333 1-199 1-108 1 371 1-426 1-118 1-240 1 251 1 45 1-408 1 126 1 224 1-166 1 30 1-178 1 200 1 198 1-115 1 114 1-22 1 64 1 159 1-176 1-3 1-120 1 77 1-139 1 209 1-295 1 358 1-410 1 475 1-15 1-447 1 54 1 34 1 164 1-123 1-335 1 576 1 207 1-106 1-295 1 143 1-57 1 131 1-54 1-99 1 292 1-144 1 68 1-22 1 20 1-420 1 367 1-567 1 573 1-432 1-100 1-118 1 262 1 354 1-500 1 226 1-157 1-15 1 160 1 172 1-349 1 349 1-207 1 142 1-251 1 777 1-385 1-477 1 271 1-205 1 567 1-484 1 502 1-81 1-532 1 392 1-154 1 68 1 126 1-264 1 380 1-508 1 246 1-125 1 510 1 84 1-284 1-245 1 451 1-546 1 384 1-312 1-365 1 704 1-347 1 190 1 12 1 222 1-34 1-56 1 80 1 59 1-170 1-428 1 226 1 256 1-206 1 80 1 55 1-243 1 76 1-178 1 184 1-4 1 134 1-156 1-311 1 645 1-150 1-99 1-101 1 168 1-257 1-106 1 217 1 280 1 143 1-25 1-134 1 142 1-31 1-58 1-90 1 289 1-440 1 360 1-12 1-376 1-286 1-103 1 216 1-86 1 84 1 391 1-325 1 123 1 160 1-237 1 224 1 231 1-469 1-8 1 166 1-113 1-311 1 467 1 74 1-590 1 811 1-241 1 144 1-195 1-22 1 58 1-199 1-165 1 197 1 167 1-140 1 165 1 392 1-238 1-190 1-260 1 141 1 193 1-106 1-366 1 429 1-85 1-66 1 6 1-255 1 350 1-99 1-193 1 266 1 194 1 198 1-418 1 243 1-324 1 208 1-311 1 85 1-104 1 157 1 256 1-366 1-68 1 502 1-60 1-288 1-452 1 293 1 346 1 39 1-58 1-528 1 265 1-152 1 14 1 204 1 394 1-505 1 492 1 25 1-24 1-483 1 312 1 100 1-304 1 174 1-357 1 71 1-172 1 464 1-146 1-48 1 62 1 688 1-292 1-327 1-23 1 125 1-74 1-147 1 219 1 227 1-385 1-177 1 125 1-47 1 150 1-93 1 50 1 263 1-93 1 147 1-533 1 423 1-202 1-246 1-70 1 391 1-100 1 213 1 18 1-138 1 10 1-16 1 73 1 24 1-281 1-58 1 493 1-32 1-174 1-350 1 74 1-15 1 22 1 53 1-5 1 126 1-33 1 76 1-334 1 442 1-206 1 332 1-47 1-133 1 282 1 297 1-791 1 295 1 65 1-140 1 230 1-485 1-199 1 625 1 9 1-515 1 252 1-224 1 323 1-197 1 167 1 40 1 111 1 179 1-423 1-116 1-2 1 31 1-45 1-86 1-317 1 433 1 21 1 237 1-333 1 41 1 359 1-12 1-161 1 5 1-45 1 19 1-215 1 131 1 435 1-258 1 179 1-308 1-7 1 298 1-171 1 82 1 171 1-238 1 1 1 121 1-57 1 147 1-190 1 137 1 13 1-116 1 92 1-160 1-483 1 511 1 287 1-467 1-366 1 34 1 315 1 96 1-206 1-244 1 182 1 190 1-257 1 596 1-126 1-106 1 173 1 255 1-356 1 43 1-183 1-380 1 271 1 403 1-357 1 31 1 74 1-264 1 475 1-241 1-269 1 31 1 14 1-354 1 234 1 371 1-19 1-127 1-171 1-184 1 291 1 8 1-156 1-26 1 25 1 302 1-290 1 433 1-595 1 377 1-57 1 257 1-138 1-42 1 88 1 54 1 275 1-662 1 324 1 66 1-168 1-145 1 147 1 60 1 185 1 130 1-79 1-145 1 167 1-175 1 75 1 84 1-429 1-81 1 80 1 269 1-141 1-202 1-20 1 597 1-258 1-28 1 65 1 142 1 80 1-55 1 188 1-412 1-153 1 345 1-158 1-591 1 431 1-324 1 307 1 106 1 321 1 188 1-357 1-68 1-73 1-533 1 301 1 347 1-17 1-115 1-188 1 329 1 219 1-267 1 189 1-440 1 376 1 259 1-293 1 154 1-200 1-24 1-103 1-113 1 226 1-267 1-101 1 254 1 543 1-89 1-228 1 118 1-341 1-244 1 108 1-55 1 285 1 257 1-174 1-256 1 428 1-386 1 181 1-192 1-18 1 168 1 34 1-111 1 36 1 199 1 8 1-467 1 539 1 17 1-299 1 110 1-207 1-34 1 239 1 75 1-153 1-192 1 179 1-213 1 184 1 239 1-486 1 138 1-63 1 402 1-8 1-341 1-166 1 182 1 302 1-212 1 105 1-193 1 109 1-334 1 240 1-243 1 169 1 45 1-20 1-104 1 335 1 245 1-186 1-231 1 97 1 57 1-78 1 106 1-68 1-142 1 20 1 265 1-136 1-378 1 209 1 148 1-92 1-68 1 11 1 53 1-34 1 97 1 560 1-499 1 18 1-361 1 287 1-86 1-166 1 359 1 42 1-240 1 105 1-26 1-448 1-271 1 1016 1 7 1-321 1 19 1 284 1-163 1 85 1-138 1-153 1-132 1 387 1 6 1-51 1-588 1 224 1-50 1-107 1 307 1 311 1-201 1-300 1 78 1 566 1-244 1-504 1 431 1-47 1-152 1 686 1-647 1 63 1-42 1 87 1-105 1-48 1 58 1 244 1-163 1 69 1-157 1 371 1-116 1-287 1 276 1-321 1 258 1 245 1-67 1-48 1-204 1 44 1 217 1-333 1 0 1 342 1-350 1 0 1 67 1 137 1 135 1-718 1 439 1 26 1-211 1 191 1-158 1 385 1 48 1-293 1 291 1-70 1 155 1 7 1-294 1-453 1 232 1 428 1-319 1 74 1-162 1 246 1 308 1-676 1 296 1-164 1 126 1 101 1-34 1-180 1-18 1 44 1 62 1-159 1 667 1-278 1-107 1 77 1 214 1-237 1-26 1-247 1 114 1-103 1-217 1 447 1 159 1-325 1 158 1-158 1-89 1-11 1 119 1 310 1-384 1-1 1 112 1-4 1-181 1 126 1-59 1-449 1 763 1-99 1 86 1 60 1-229 1-297 1 223 1-145 1 144 1 94 1-6 1-475 1 379 1 331 1-113 1-206 1-166 1 291 1-122 1 300 1-74 1-347 1-292 1 494 1-146 1 496 1-163 1 146 1-120 1-340 1 398 1-501 1-43 1-192 1 216 1 264 1-89 1 159 1-147 1-270 1 158 1-88 1-134 1 315 1-290 1-25 1 262 1-62 1-13 1 147 1-21 1 267 1-15 1-189 1 238 1-242 1-288 1 464 1-371 1 479 1-350 1 284 1-237 1 25 1-256 1-7 1 85 1 296 1 161 1-380 1-48 1-137 1-90 1 437 1-378 1-154 1 357 1 54 1-276 1 356 1 190 1-220 1 12 1 152 1-62 1 111 1-127 1-600 1 364 1-150 1 155 1-4 1-326 1 508 1 322 1-198 1 321 1-337 1-51 1 230 1-403 1-198 1 199 1-92 1-148 1-207 1 254 1 660 1-668 1 466 1 230 1-257 1-429 1 67 1 484 1-44 1-487 1-55 1 105 1 299 1 154 1-583 1 183 1-135 1 209 1 65 1 404 1-387 1-220 1 171 1 158 1-3 1-139 1-27 1 112 1 68 1-65 1-212 1 101 1 190 1-258 1 216 1-248 1 74 1-102 1 307 1-305 1-122 1 151 1 189 1 369 1-267 1 10 1-305 1 31 1 136 1-25 1 70 1-234 1 161 1 302 1-288 1 166 1-55 1-638 1 402 1-56 1 142 1-144 1 199 1-392 1 111 1-156 1 318 1-71 1 70 1 387 1-433 1 254 1-106 1-21 1-45 1-31 1-135 1-96 1 210 1 58 1 171 1-12 1-288 1-47 1 444 1-139 1-40 1-280 1 321 1 95 1-315 1 126 1 158 1-57 1-273 1 211 1 237 1-233 1 325 1-417 1 97 1 171 1-22 1-147 1-339 1 551 1-387 1-62 1 217 1-330 1-67 1 273 1 79 1-118 1 40 1-298 1 474 1-120 1-231 1 385 1-222 1 224 1-207 1-70 1 164 1-276 1 103 1-100 1 131 1 306 1-11 1-262 1 61 1 36 1 20 1-564 1 790 1-228 1 488 1 15 1-433 1-101 1 12 1-19 1-8 1 127 1-236 1 492 1-526 1-20 1 325 1-32 1-373 1 496 1 129 1-344 1-98 1 141 1-242 1 89 1 321 1-388 1-32 1 603 1-326 1-226 1 604 1-7 1-493 1 250 1 22 1-126 1 44 1-22 1-226 1-81 1-183 1 284 1-282 1 835 1-200 1-229 1 232 1-42 1 44 1-365 1-20 1 145 1 192 1 31 1 93 1-563 1 263 1-110 1-159 1 316 1 246 1-206 1 63 1 129 1-735 1 525 1-299 1 4 1-231 1 372 1 203 1-259 1 260 1-132 1-117 1 200 1-220 1 357 1-23 1-724 1 140 1 630 1-59 1 162 1 156 1-503 1-119 1 412 1 305 1-457 1 29 1-121 1-544 1 741 1-199 1 56 1-9 1-93 1 106 1-60 1 18 1-29 1-21 1-105 1 238 1-96 1 332 1-171 1 3 1-146 1-33 1-194 1-127 1 468 1-133 1-320 1 42 1 498 1-306 1-51 1-39 1 397 1 226 1-720 1 80 1-370 1 461 1 152 1-188 1 178" fill="none" stroke="#F1A340" stroke-width="0.85" vector-effect="non-scaling-stroke"/>
<path d="M378.50,22.50 V232.10 H638.60" fill="none" stroke="#2e2e2e" stroke-width="1.25" stroke-linejoin="round"/>
<line x1="375.80" y1="199.80" x2="378.50" y2="199.80" stroke="#333" stroke-width="1"/>
<text x="373.50" y="203.10" font-size="8.10" text-anchor="end" fill="#4D4D4D" stroke="#4D4D4D" stroke-width="0.00" >0.04</text>
<line x1="375.80" y1="136.90" x2="378.50" y2="136.90" stroke="#333" stroke-width="1"/>
<text x="373.50" y="140.20" font-size="8.10" text-anchor="end" fill="#4D4D4D" stroke="#4D4D4D" stroke-width="0.00" >0.06</text>
<line x1="375.80" y1="74.00" x2="378.50" y2="74.00" stroke="#333" stroke-width="1"/>
<text x="373.50" y="77.30" font-size="8.10" text-anchor="end" fill="#4D4D4D" stroke="#4D4D4D" stroke-width="0.00" >0.08</text>
<line x1="390.30" y1="232.10" x2="390.30" y2="234.80" stroke="#333" stroke-width="1"/>
<text x="390.30" y="243.10" font-size="8.10" text-anchor="middle" fill="#4D4D4D" stroke="#4D4D4D" stroke-width="0.00" >1000</text>
<line x1="468.97" y1="232.10" x2="468.97" y2="234.80" stroke="#333" stroke-width="1"/>
<text x="468.97" y="243.10" font-size="8.10" text-anchor="middle" fill="#4D4D4D" stroke="#4D4D4D" stroke-width="0.00" >2000</text>
<line x1="547.64" y1="232.10" x2="547.64" y2="234.80" stroke="#333" stroke-width="1"/>
<text x="547.64" y="243.10" font-size="8.10" text-anchor="middle" fill="#4D4D4D" stroke="#4D4D4D" stroke-width="0.00" >3000</text>
<line x1="626.31" y1="232.10" x2="626.31" y2="234.80" stroke="#333" stroke-width="1"/>
<text x="626.31" y="243.10" font-size="8.10" text-anchor="middle" fill="#4D4D4D" stroke="#4D4D4D" stroke-width="0.00" >4000</text>
<text x="508.30" y="254.70" font-size="10.00" text-anchor="middle" fill="#000" stroke="#000" stroke-width="0.08" >Iteration</text>
<text x="378.70" y="15.60" font-size="10.30" text-anchor="start" fill="#000" stroke="#000" stroke-width="0.08" >B: Brms</text>
<text x="674.60" y="102.60" font-size="10.10" text-anchor="start" fill="#000" stroke="#000" stroke-width="0.08" >chain</text>
<line x1="676" y1="116.70" x2="689.1" y2="116.70" stroke="#EC7834" stroke-width="1.3"/>
<text x="695.30" y="119.70" font-size="8.40" text-anchor="start" fill="#000" stroke="#000" stroke-width="0.08" >1</text>
<line x1="676" y1="132.70" x2="689.1" y2="132.70" stroke="#ADA4D6" stroke-width="1.3"/>
<text x="695.30" y="135.70" font-size="8.40" text-anchor="start" fill="#000" stroke="#000" stroke-width="0.08" >2</text>
<line x1="676" y1="148.80" x2="689.1" y2="148.80" stroke="#6044A0" stroke-width="1.3"/>
<text x="695.30" y="151.80" font-size="8.40" text-anchor="start" fill="#000" stroke="#000" stroke-width="0.08" >3</text>
<line x1="676" y1="164.80" x2="689.1" y2="164.80" stroke="#F5AE58" stroke-width="1.3"/>
<text x="695.30" y="167.80" font-size="8.40" text-anchor="start" fill="#000" stroke="#000" stroke-width="0.08" >4</text>
<path d="M66.20,286.30 V502.80 H340.60" fill="none" stroke="#2e2e2e" stroke-width="1.25" stroke-linejoin="round"/>
<line x1="63.50" y1="486.60" x2="66.20" y2="486.60" stroke="#333" stroke-width="1"/>
<text x="61.20" y="489.90" font-size="8.10" text-anchor="end" fill="#4D4D4D" stroke="#4D4D4D" stroke-width="0.00" >1.0000</text>
<line x1="63.50" y1="436.60" x2="66.20" y2="436.60" stroke="#333" stroke-width="1"/>
<text x="61.20" y="439.90" font-size="8.10" text-anchor="end" fill="#4D4D4D" stroke="#4D4D4D" stroke-width="0.00" >1.0025</text>
<line x1="63.50" y1="386.60" x2="66.20" y2="386.60" stroke="#333" stroke-width="1"/>
<text x="61.20" y="389.90" font-size="8.10" text-anchor="end" fill="#4D4D4D" stroke="#4D4D4D" stroke-width="0.00" >1.0050</text>
<line x1="63.50" y1="336.60" x2="66.20" y2="336.60" stroke="#333" stroke-width="1"/>
<text x="61.20" y="339.90" font-size="8.10" text-anchor="end" fill="#4D4D4D" stroke="#4D4D4D" stroke-width="0.00" >1.0075</text>
<line x1="63.50" y1="286.60" x2="66.20" y2="286.60" stroke="#333" stroke-width="1"/>
<text x="61.20" y="289.90" font-size="8.10" text-anchor="end" fill="#4D4D4D" stroke="#4D4D4D" stroke-width="0.00" >1.0100</text>
<line x1="121.30" y1="502.80" x2="121.30" y2="505.50" stroke="#333" stroke-width="1"/>
<text x="121.30" y="512.10" font-size="7.00" text-anchor="middle" fill="#4D4D4D" stroke="#4D4D4D" stroke-width="0.00" >γ</text>
<line x1="202.90" y1="502.80" x2="202.90" y2="505.50" stroke="#333" stroke-width="1"/>
<text x="202.90" y="512.10" font-size="7.00" text-anchor="middle" fill="#4D4D4D" stroke="#4D4D4D" stroke-width="0.00" >β</text>
<line x1="284.80" y1="502.80" x2="284.80" y2="505.50" stroke="#333" stroke-width="1"/>
<text x="284.80" y="512.10" font-size="7.00" text-anchor="middle" fill="#4D4D4D" stroke="#4D4D4D" stroke-width="0.00" >δ</text>
<text x="203.50" y="526.00" font-size="10.20" text-anchor="middle" fill="#000" stroke="#000" stroke-width="0.08" >Parameter</text>
<text x="66.30" y="279.20" font-size="9.50" text-anchor="start" fill="#000" stroke="#000" stroke-width="0.08" >C</text>
<text x="0.80" y="400.50" font-size="9.20" text-anchor="start" fill="#000" stroke="#000" stroke-width="0.08" >R</text>
<path d="M2.0,392.6 L3.9,389.0 L5.8,392.6" fill="none" stroke="#000" stroke-width="0.85"/>
<line x1="390.5" y1="404.5" x2="635" y2="404.5" stroke="#C4C4C4" stroke-width="1" stroke-dasharray="3.6,4.07" stroke-dashoffset="-2"/>
<path d="M390.50,286.50 V502.70 H635.40" fill="none" stroke="#2e2e2e" stroke-width="1.25" stroke-linejoin="round"/>
<line x1="387.80" y1="497.20" x2="390.50" y2="497.20" stroke="#333" stroke-width="1"/>
<text x="385.50" y="500.50" font-size="8.10" text-anchor="end" fill="#4D4D4D" stroke="#4D4D4D" stroke-width="0.00" >0</text>
<line x1="387.80" y1="420.00" x2="390.50" y2="420.00" stroke="#333" stroke-width="1"/>
<text x="385.50" y="423.30" font-size="8.10" text-anchor="end" fill="#4D4D4D" stroke="#4D4D4D" stroke-width="0.00" >10000</text>
<line x1="387.80" y1="342.80" x2="390.50" y2="342.80" stroke="#333" stroke-width="1"/>
<text x="385.50" y="346.10" font-size="8.10" text-anchor="end" fill="#4D4D4D" stroke="#4D4D4D" stroke-width="0.00" >20000</text>
<line x1="440.90" y1="502.70" x2="440.90" y2="505.40" stroke="#333" stroke-width="1"/>
<text x="440.90" y="511.70" font-size="7.00" text-anchor="middle" fill="#4D4D4D" stroke="#4D4D4D" stroke-width="0.00" >γ</text>
<line x1="513.50" y1="502.70" x2="513.50" y2="505.40" stroke="#333" stroke-width="1"/>
<text x="513.50" y="511.70" font-size="7.00" text-anchor="middle" fill="#4D4D4D" stroke="#4D4D4D" stroke-width="0.00" >β</text>
<line x1="586.10" y1="502.70" x2="586.10" y2="505.40" stroke="#333" stroke-width="1"/>
<text x="586.10" y="511.70" font-size="7.00" text-anchor="middle" fill="#4D4D4D" stroke="#4D4D4D" stroke-width="0.00" >δ</text>
<text x="512.90" y="526.60" font-size="10.20" text-anchor="middle" fill="#000" stroke="#000" stroke-width="0.08" >Parameter</text>
<text x="390.50" y="279.30" font-size="9.60" text-anchor="start" fill="#000" stroke="#000" stroke-width="0.08" >D</text>
<text x="0.00" y="0.00" font-size="10.20" text-anchor="middle" fill="#000" stroke="#000" stroke-width="0.08" transform="translate(358.9,394.4) rotate(-90)">Number of effective samples</text>
<text x="666.00" y="385.80" font-size="10.35" text-anchor="start" fill="#000" stroke="#000" stroke-width="0.08" >Package</text>
<rect x="666.4" y="392.1" width="14.5" height="14.4" fill="#FFC08A"/>
<rect x="666.4" y="408.1" width="14.5" height="14.5" fill="#8DB58A"/>
<text x="687.20" y="402.80" font-size="8.20" text-anchor="start" fill="#000" stroke="#000" stroke-width="0.08" >Brms</text>
<text x="687.20" y="418.60" font-size="8.20" text-anchor="start" fill="#000" stroke="#000" stroke-width="0.08" >Rstan</text>
<g opacity="0.130"><path d="M91.23,363.62 L96.43,363.62 M91.99,361.78 L95.67,365.46 M93.83,361.02 L93.83,366.22 M95.67,361.78 L91.99,365.46" stroke="#FF8515" stroke-width="0.80" fill="none" stroke-linecap="round"/><path d="M88.51,343.33 L93.71,343.33 M89.28,341.49 L92.95,345.17 M91.11,340.73 L91.11,345.93 M92.95,341.49 L89.28,345.17" stroke="#FF8515" stroke-width="0.80" fill="none" stroke-linecap="round"/><path d="M100.48,357.73 L105.68,357.73 M101.24,355.89 L104.92,359.57 M103.08,355.13 L103.08,360.33 M104.92,355.89 L101.24,359.57" stroke="#FF8515" stroke-width="0.80" fill="none" stroke-linecap="round"/><path d="M96.39,351.39 L101.59,351.39 M97.16,349.55 L100.83,353.23 M98.99,348.79 L98.99,353.99 M100.83,349.55 L97.16,353.23" stroke="#FF8515" stroke-width="0.80" fill="none" stroke-linecap="round"/><path d="M84.54,341.05 L89.74,341.05 M85.30,339.21 L88.97,342.89 M87.14,338.45 L87.14,343.65 M88.97,339.21 L85.30,342.89" stroke="#FF8515" stroke-width="0.80" fill="none" stroke-linecap="round"/><path d="M108.78,363.04 L113.98,363.04 M109.54,361.21 L113.22,364.88 M111.38,360.44 L111.38,365.64 M113.22,361.21 L109.54,364.88" stroke="#FF8515" stroke-width="0.80" fill="none" stroke-linecap="round"/><path d="M107.92,360.56 L113.12,360.56 M108.68,358.72 L112.35,362.40 M110.52,357.96 L110.52,363.16 M112.35,358.72 L108.68,362.40" stroke="#FF8515" stroke-width="0.80" fill="none" stroke-linecap="round"/><path d="M102.57,343.11 L107.77,343.11 M103.33,341.27 L107.00,344.95 M105.17,340.51 L105.17,345.71 M107.00,341.27 L103.33,344.95" stroke="#FF8515" stroke-width="0.80" fill="none" stroke-linecap="round"/><path d="M88.32,364.90 L93.52,364.90 M89.08,363.06 L92.76,366.74 M90.92,362.30 L90.92,367.50 M92.76,363.06 L89.08,366.74" stroke="#FF8515" stroke-width="0.80" fill="none" stroke-linecap="round"/><path d="M108.06,338.23 L113.26,338.23 M108.82,336.40 L112.50,340.07 M110.66,335.63 L110.66,340.83 M112.50,336.40 L108.82,340.07" stroke="#FF8515" stroke-width="0.80" fill="none" stroke-linecap="round"/><path d="M102.07,358.57 L107.27,358.57 M102.83,356.73 L106.51,360.41 M104.67,355.97 L104.67,361.17 M106.51,356.73 L102.83,360.41" stroke="#FF8515" stroke-width="0.80" fill="none" stroke-linecap="round"/><path d="M91.73,354.24 L96.93,354.24 M92.49,352.40 L96.16,356.08 M94.33,351.64 L94.33,356.84 M96.16,352.40 L92.49,356.08" stroke="#FF8515" stroke-width="0.80" fill="none" stroke-linecap="round"/><path d="M97.08,346.98 L102.28,346.98 M97.84,345.14 L101.52,348.81 M99.68,344.38 L99.68,349.58 M101.52,345.14 L97.84,348.81" stroke="#FF8515" stroke-width="0.80" fill="none" stroke-linecap="round"/><path d="M97.02,329.11 L102.22,329.11 M97.78,327.27 L101.46,330.94 M99.62,326.51 L99.62,331.71 M101.46,327.27 L97.78,330.94" stroke="#FF8515" stroke-width="0.80" fill="none" stroke-linecap="round"/><path d="M94.16,361.99 L99.36,361.99 M94.92,360.15 L98.60,363.83 M96.76,359.39 L96.76,364.59 M98.60,360.15 L94.92,363.83" stroke="#FF8515" stroke-width="0.80" fill="none" stroke-linecap="round"/><path d="M107.80,350.76 L113.00,350.76 M108.56,348.92 L112.24,352.60 M110.40,348.16 L110.40,353.36 M112.24,348.92 L108.56,352.60" stroke="#FF8515" stroke-width="0.80" fill="none" stroke-linecap="round"/><path d="M89.84,344.52 L95.04,344.52 M90.60,342.68 L94.28,346.36 M92.44,341.92 L92.44,347.12 M94.28,342.68 L90.60,346.36" stroke="#FF8515" stroke-width="0.80" fill="none" stroke-linecap="round"/><path d="M96.95,343.23 L102.15,343.23 M97.71,341.39 L101.39,345.07 M99.55,340.63 L99.55,345.83 M101.39,341.39 L97.71,345.07" stroke="#FF8515" stroke-width="0.80" fill="none" stroke-linecap="round"/><path d="M98.80,353.14 L104.00,353.14 M99.56,351.30 L103.23,354.98 M101.40,350.54 L101.40,355.74 M103.23,351.30 L99.56,354.98" stroke="#FF8515" stroke-width="0.80" fill="none" stroke-linecap="round"/><path d="M108.37,342.46 L113.57,342.46 M109.13,340.62 L112.81,344.30 M110.97,339.86 L110.97,345.06 M112.81,340.62 L109.13,344.30" stroke="#FF8515" stroke-width="0.80" fill="none" stroke-linecap="round"/><path d="M86.22,348.34 L91.42,348.34 M86.98,346.50 L90.66,350.18 M88.82,345.74 L88.82,350.94 M90.66,346.50 L86.98,350.18" stroke="#FF8515" stroke-width="0.80" fill="none" stroke-linecap="round"/><path d="M86.64,343.66 L91.84,343.66 M87.40,341.82 L91.08,345.50 M89.24,341.06 L89.24,346.26 M91.08,341.82 L87.40,345.50" stroke="#FF8515" stroke-width="0.80" fill="none" stroke-linecap="round"/><path d="M100.24,330.49 L105.44,330.49 M101.01,328.65 L104.68,332.32 M102.84,327.89 L102.84,333.09 M104.68,328.65 L101.01,332.32" stroke="#FF8515" stroke-width="0.80" fill="none" stroke-linecap="round"/><path d="M85.76,339.34 L90.96,339.34 M86.53,337.51 L90.20,341.18 M88.36,336.74 L88.36,341.94 M90.20,337.51 L86.53,341.18" stroke="#FF8515" stroke-width="0.80" fill="none" stroke-linecap="round"/><path d="M94.09,359.79 L99.29,359.79 M94.85,357.95 L98.52,361.63 M96.69,357.19 L96.69,362.39 M98.52,357.95 L94.85,361.63" stroke="#FF8515" stroke-width="0.80" fill="none" stroke-linecap="round"/><path d="M88.45,358.84 L93.65,358.84 M89.22,357.00 L92.89,360.67 M91.05,356.24 L91.05,361.44 M92.89,357.00 L89.22,360.67" stroke="#FF8515" stroke-width="0.80" fill="none" stroke-linecap="round"/><path d="M111.68,353.45 L116.88,353.45 M112.44,351.61 L116.11,355.29 M114.28,350.85 L114.28,356.05 M116.11,351.61 L112.44,355.29" stroke="#FF8515" stroke-width="0.80" fill="none" stroke-linecap="round"/><path d="M100.11,347.02 L105.31,347.02 M100.87,345.18 L104.55,348.86 M102.71,344.42 L102.71,349.62 M104.55,345.18 L100.87,348.86" stroke="#FF8515" stroke-width="0.80" fill="none" stroke-linecap="round"/><path d="M95.11,365.15 L100.31,365.15 M95.88,363.31 L99.55,366.99 M97.71,362.55 L97.71,367.75 M99.55,363.31 L95.88,366.99" stroke="#FF8515" stroke-width="0.80" fill="none" stroke-linecap="round"/><path d="M100.43,359.51 L105.63,359.51 M101.19,357.67 L104.86,361.35 M103.03,356.91 L103.03,362.11 M104.86,357.67 L101.19,361.35" stroke="#FF8515" stroke-width="0.80" fill="none" stroke-linecap="round"/><path d="M95.00,339.11 L100.20,339.11 M95.76,337.27 L99.44,340.94 M97.60,336.51 L97.60,341.71 M99.44,337.27 L95.76,340.94" stroke="#FF8515" stroke-width="0.80" fill="none" stroke-linecap="round"/><path d="M95.31,350.05 L100.51,350.05 M96.07,348.21 L99.75,351.89 M97.91,347.45 L97.91,352.65 M99.75,348.21 L96.07,351.89" stroke="#FF8515" stroke-width="0.80" fill="none" stroke-linecap="round"/><path d="M106.41,364.11 L111.61,364.11 M107.18,362.27 L110.85,365.94 M109.01,361.51 L109.01,366.71 M110.85,362.27 L107.18,365.94" stroke="#FF8515" stroke-width="0.80" fill="none" stroke-linecap="round"/><path d="M103.63,357.72 L108.83,357.72 M104.40,355.88 L108.07,359.56 M106.23,355.12 L106.23,360.32 M108.07,355.88 L104.40,359.56" stroke="#FF8515" stroke-width="0.80" fill="none" stroke-linecap="round"/><path d="M95.90,343.57 L101.10,343.57 M96.66,341.73 L100.34,345.41 M98.50,340.97 L98.50,346.17 M100.34,341.73 L96.66,345.41" stroke="#FF8515" stroke-width="0.80" fill="none" stroke-linecap="round"/><path d="M84.17,346.86 L89.37,346.86 M84.93,345.02 L88.61,348.70 M86.77,344.26 L86.77,349.46 M88.61,345.02 L84.93,348.70" stroke="#FF8515" stroke-width="0.80" fill="none" stroke-linecap="round"/><path d="M86.04,348.67 L91.24,348.67 M86.80,346.83 L90.48,350.51 M88.64,346.07 L88.64,351.27 M90.48,346.83 L86.80,350.51" stroke="#FF8515" stroke-width="0.80" fill="none" stroke-linecap="round"/><path d="M108.68,361.89 L113.88,361.89 M109.44,360.05 L113.12,363.73 M111.28,359.29 L111.28,364.49 M113.12,360.05 L109.44,363.73" stroke="#FF8515" stroke-width="0.80" fill="none" stroke-linecap="round"/><path d="M93.70,355.19 L98.90,355.19 M94.46,353.35 L98.14,357.03 M96.30,352.59 L96.30,357.79 M98.14,353.35 L94.46,357.03" stroke="#FF8515" stroke-width="0.80" fill="none" stroke-linecap="round"/><path d="M91.05,344.64 L96.25,344.64 M91.81,342.80 L95.49,346.48 M93.65,342.04 L93.65,347.24 M95.49,342.80 L91.81,346.48" stroke="#FF8515" stroke-width="0.80" fill="none" stroke-linecap="round"/><path d="M92.08,346.58 L97.28,346.58 M92.84,344.74 L96.52,348.42 M94.68,343.98 L94.68,349.18 M96.52,344.74 L92.84,348.42" stroke="#FF8515" stroke-width="0.80" fill="none" stroke-linecap="round"/><path d="M89.63,332.80 L94.83,332.80 M90.39,330.96 L94.07,334.64 M92.23,330.20 L92.23,335.40 M94.07,330.96 L90.39,334.64" stroke="#FF8515" stroke-width="0.80" fill="none" stroke-linecap="round"/><path d="M111.90,347.60 L117.10,347.60 M112.67,345.76 L116.34,349.44 M114.50,345.00 L114.50,350.20 M116.34,345.76 L112.67,349.44" stroke="#FF8515" stroke-width="0.80" fill="none" stroke-linecap="round"/><path d="M96.95,338.64 L102.15,338.64 M97.71,336.80 L101.39,340.48 M99.55,336.04 L99.55,341.24 M101.39,336.80 L97.71,340.48" stroke="#FF8515" stroke-width="0.80" fill="none" stroke-linecap="round"/><path d="M88.60,332.56 L93.80,332.56 M89.36,330.72 L93.04,334.39 M91.20,329.96 L91.20,335.16 M93.04,330.72 L89.36,334.39" stroke="#FF8515" stroke-width="0.80" fill="none" stroke-linecap="round"/></g>
<path d="M100.80,321.80 L100.90,326.00 L101.00,330.00 L101.50,334.00 L102.70,338.50 L103.20,343.00 L103.20,352.00 L103.10,360.00 L102.60,366.00 L101.90,369.60 L100.80,370.40 L99.60,370.40 L98.50,369.60 L97.80,366.00 L97.30,360.00 L97.20,352.00 L97.20,343.00 L97.70,338.50 L98.90,334.00 L99.40,330.00 L99.50,326.00 L99.60,321.80Z" fill="none" fill-opacity="1.000" stroke="#FF8515" stroke-width="1.00" stroke-linejoin="round"/>
<path d="M96.90,296.30 L103.70,296.30 M97.90,293.90 L102.70,298.70 M100.30,292.90 L100.30,299.70 M102.70,293.90 L97.90,298.70" stroke="#FF8515" stroke-width="1.10" fill="none" stroke-linecap="round"/>
<g fill="#1C7A1C" fill-opacity="0.050" stroke="#1C7A1C" stroke-opacity="0.075" stroke-width="0.50"><circle cx="141.0" cy="480.9" r="1.5"/><circle cx="151.4" cy="487.0" r="1.5"/><circle cx="144.7" cy="489.4" r="1.5"/><circle cx="135.1" cy="483.5" r="1.5"/><circle cx="137.7" cy="487.9" r="1.5"/><circle cx="128.1" cy="485.4" r="1.5"/><circle cx="139.1" cy="490.4" r="1.5"/><circle cx="134.6" cy="487.0" r="1.5"/><circle cx="144.9" cy="492.9" r="1.5"/><circle cx="147.9" cy="482.4" r="1.5"/><circle cx="141.6" cy="479.8" r="1.5"/><circle cx="141.0" cy="484.3" r="1.5"/><circle cx="130.9" cy="489.2" r="1.5"/><circle cx="152.3" cy="486.3" r="1.5"/><circle cx="132.5" cy="491.1" r="1.5"/><circle cx="143.7" cy="492.9" r="1.5"/><circle cx="145.3" cy="490.9" r="1.5"/><circle cx="142.7" cy="481.3" r="1.5"/><circle cx="128.1" cy="487.3" r="1.5"/><circle cx="137.1" cy="488.2" r="1.5"/><circle cx="151.2" cy="490.8" r="1.5"/><circle cx="141.2" cy="480.5" r="1.5"/><circle cx="125.6" cy="487.0" r="1.5"/><circle cx="143.1" cy="478.4" r="1.5"/><circle cx="151.5" cy="488.6" r="1.5"/><circle cx="142.1" cy="487.0" r="1.5"/><circle cx="143.1" cy="480.4" r="1.5"/><circle cx="137.8" cy="479.7" r="1.5"/><circle cx="135.1" cy="486.4" r="1.5"/><circle cx="146.3" cy="486.0" r="1.5"/><circle cx="144.3" cy="486.4" r="1.5"/><circle cx="143.5" cy="492.1" r="1.5"/><circle cx="147.1" cy="492.0" r="1.5"/><circle cx="138.5" cy="483.4" r="1.5"/><circle cx="137.4" cy="478.9" r="1.5"/><circle cx="140.9" cy="483.6" r="1.5"/><circle cx="130.8" cy="489.5" r="1.5"/><circle cx="136.4" cy="482.9" r="1.5"/><circle cx="144.5" cy="480.6" r="1.5"/><circle cx="132.8" cy="487.3" r="1.5"/><circle cx="153.8" cy="488.1" r="1.5"/><circle cx="137.3" cy="481.3" r="1.5"/><circle cx="137.8" cy="478.2" r="1.5"/><circle cx="135.6" cy="481.0" r="1.5"/><circle cx="150.4" cy="482.6" r="1.5"/><circle cx="146.4" cy="484.7" r="1.5"/><circle cx="151.2" cy="486.8" r="1.5"/><circle cx="131.8" cy="490.9" r="1.5"/><circle cx="131.4" cy="484.5" r="1.5"/><circle cx="150.3" cy="487.2" r="1.5"/><circle cx="145.8" cy="487.8" r="1.5"/><circle cx="140.1" cy="483.3" r="1.5"/><circle cx="142.5" cy="486.4" r="1.5"/><circle cx="141.7" cy="492.7" r="1.5"/><circle cx="144.7" cy="493.1" r="1.5"/><circle cx="133.1" cy="485.3" r="1.5"/><circle cx="149.8" cy="489.9" r="1.5"/><circle cx="131.1" cy="484.2" r="1.5"/><circle cx="145.0" cy="489.6" r="1.5"/><circle cx="130.8" cy="484.7" r="1.5"/><circle cx="148.7" cy="489.3" r="1.5"/><circle cx="137.0" cy="478.8" r="1.5"/><circle cx="135.7" cy="481.9" r="1.5"/><circle cx="149.6" cy="487.4" r="1.5"/><circle cx="146.6" cy="482.1" r="1.5"/><circle cx="149.3" cy="483.3" r="1.5"/><circle cx="142.5" cy="488.0" r="1.5"/><circle cx="142.6" cy="483.2" r="1.5"/><circle cx="150.9" cy="483.7" r="1.5"/><circle cx="142.6" cy="489.4" r="1.5"/><circle cx="147.6" cy="480.0" r="1.5"/><circle cx="141.2" cy="478.0" r="1.5"/><circle cx="143.0" cy="489.9" r="1.5"/><circle cx="132.5" cy="490.5" r="1.5"/><circle cx="155.5" cy="487.9" r="1.5"/><circle cx="155.3" cy="487.6" r="1.5"/><circle cx="146.8" cy="490.8" r="1.5"/><circle cx="133.8" cy="486.4" r="1.5"/><circle cx="145.5" cy="480.1" r="1.5"/><circle cx="144.8" cy="484.8" r="1.5"/><circle cx="134.8" cy="485.6" r="1.5"/><circle cx="140.2" cy="489.8" r="1.5"/><circle cx="153.4" cy="487.1" r="1.5"/><circle cx="145.9" cy="478.8" r="1.5"/><circle cx="146.6" cy="487.6" r="1.5"/><circle cx="130.7" cy="489.6" r="1.5"/><circle cx="143.9" cy="479.2" r="1.5"/><circle cx="133.6" cy="491.1" r="1.5"/><circle cx="141.3" cy="478.5" r="1.5"/><circle cx="144.1" cy="487.8" r="1.5"/><circle cx="142.7" cy="484.4" r="1.5"/><circle cx="139.9" cy="486.4" r="1.5"/><circle cx="142.8" cy="481.6" r="1.5"/><circle cx="136.1" cy="481.3" r="1.5"/><circle cx="137.2" cy="483.4" r="1.5"/><circle cx="137.8" cy="489.2" r="1.5"/><circle cx="137.7" cy="489.8" r="1.5"/><circle cx="133.1" cy="489.4" r="1.5"/><circle cx="144.2" cy="483.8" r="1.5"/><circle cx="137.8" cy="483.8" r="1.5"/><circle cx="153.8" cy="485.7" r="1.5"/><circle cx="136.3" cy="481.0" r="1.5"/><circle cx="139.3" cy="484.6" r="1.5"/><circle cx="133.2" cy="486.8" r="1.5"/><circle cx="139.8" cy="483.5" r="1.5"/><circle cx="144.2" cy="481.3" r="1.5"/><circle cx="143.5" cy="479.5" r="1.5"/><circle cx="139.3" cy="485.4" r="1.5"/><circle cx="131.1" cy="486.4" r="1.5"/><circle cx="134.4" cy="483.8" r="1.5"/><circle cx="144.5" cy="476.3" r="1.5"/><circle cx="151.3" cy="485.8" r="1.5"/><circle cx="143.8" cy="491.4" r="1.5"/><circle cx="156.6" cy="486.9" r="1.5"/><circle cx="145.0" cy="486.1" r="1.5"/><circle cx="148.4" cy="485.8" r="1.5"/><circle cx="143.6" cy="483.7" r="1.5"/><circle cx="129.2" cy="487.3" r="1.5"/><circle cx="133.6" cy="481.7" r="1.5"/><circle cx="146.8" cy="490.5" r="1.5"/><circle cx="154.2" cy="485.5" r="1.5"/><circle cx="151.8" cy="487.7" r="1.5"/><circle cx="139.9" cy="478.3" r="1.5"/><circle cx="146.7" cy="484.7" r="1.5"/><circle cx="140.0" cy="481.0" r="1.5"/><circle cx="144.4" cy="481.6" r="1.5"/><circle cx="145.1" cy="487.6" r="1.5"/><circle cx="137.6" cy="487.8" r="1.5"/><circle cx="143.2" cy="487.5" r="1.5"/><circle cx="146.7" cy="483.9" r="1.5"/><circle cx="151.7" cy="490.1" r="1.5"/><circle cx="126.9" cy="489.4" r="1.5"/><circle cx="153.2" cy="487.2" r="1.5"/><circle cx="132.1" cy="484.6" r="1.5"/><circle cx="149.5" cy="488.9" r="1.5"/><circle cx="137.1" cy="482.8" r="1.5"/><circle cx="137.6" cy="482.2" r="1.5"/><circle cx="139.3" cy="477.3" r="1.5"/><circle cx="132.3" cy="488.4" r="1.5"/><circle cx="139.6" cy="480.8" r="1.5"/></g>
<path d="M143.20,477.00 C144.02,477.20 143.82,477.62 144.30,478.20 C144.78,478.78 145.47,479.62 146.10,480.50 C146.73,481.38 147.47,482.58 148.10,483.50 C148.73,484.42 149.47,485.33 149.90,486.00 C150.33,486.67 150.93,486.87 150.70,487.50 C150.47,488.13 149.48,489.12 148.50,489.80 C147.52,490.48 145.90,491.15 144.80,491.60 C143.70,492.05 142.58,492.35 141.90,492.50 C141.22,492.65 141.38,492.65 140.70,492.50 C140.02,492.35 138.90,492.05 137.80,491.60 C136.70,491.15 135.08,490.48 134.10,489.80 C133.12,489.12 132.13,488.13 131.90,487.50 C131.67,486.87 132.27,486.67 132.70,486.00 C133.13,485.33 133.87,484.42 134.50,483.50 C135.13,482.58 135.87,481.38 136.50,480.50 C137.13,479.62 137.82,478.78 138.30,478.20 C138.78,477.62 138.58,477.20 139.40,477.00 C140.22,476.80 142.38,476.80 143.20,477.00Z" fill="#C9D5C9" fill-opacity="0.650" stroke="#1C7A1C" stroke-width="1.10" stroke-linejoin="round"/>
<path d="M138.60,488.60 L143.80,488.60 M139.36,486.76 L143.04,490.44 M141.20,486.00 L141.20,491.20 M143.04,486.76 L139.36,490.44" stroke="#0F6A0F" stroke-width="1.20" fill="none" stroke-linecap="round"/>
<path d="M182.60,479.00 C182.82,479.33 182.48,480.25 182.50,481.00 C182.52,481.75 182.40,482.83 182.70,483.50 C183.00,484.17 183.35,484.50 184.30,485.00 C185.25,485.50 187.05,486.00 188.40,486.50 C189.75,487.00 191.22,487.53 192.40,488.00 C193.58,488.47 194.72,488.93 195.50,489.30 C196.28,489.67 197.20,489.87 197.10,490.20 C197.00,490.53 196.18,490.93 194.90,491.30 C193.62,491.67 191.40,492.13 189.40,492.40 C187.40,492.67 184.32,492.82 182.90,492.90 C181.48,492.98 182.32,492.98 180.90,492.90 C179.48,492.82 176.40,492.67 174.40,492.40 C172.40,492.13 170.18,491.67 168.90,491.30 C167.62,490.93 166.80,490.53 166.70,490.20 C166.60,489.87 167.52,489.67 168.30,489.30 C169.08,488.93 170.22,488.47 171.40,488.00 C172.58,487.53 174.05,487.00 175.40,486.50 C176.75,486.00 178.55,485.50 179.50,485.00 C180.45,484.50 180.80,484.17 181.10,483.50 C181.40,482.83 181.28,481.75 181.30,481.00 C181.32,480.25 180.98,479.33 181.20,479.00 C181.42,478.67 182.38,478.67 182.60,479.00Z" fill="#FFD4AA" fill-opacity="1.000" stroke="#FF8515" stroke-width="1.00" stroke-linejoin="round"/>
<path d="M179.20,487.50 L184.40,487.50 M179.96,485.66 L183.64,489.34 M181.80,484.90 L181.80,490.10 M183.64,485.66 L179.96,489.34" stroke="#FF8515" stroke-width="1.10" fill="none" stroke-linecap="round"/>
<g fill="#1C7A1C" fill-opacity="0.050" stroke="#1C7A1C" stroke-opacity="0.075" stroke-width="0.50"><circle cx="217.8" cy="485.4" r="1.5"/><circle cx="217.9" cy="484.3" r="1.5"/><circle cx="220.4" cy="483.8" r="1.5"/><circle cx="231.1" cy="490.7" r="1.5"/><circle cx="230.3" cy="490.6" r="1.5"/><circle cx="218.7" cy="482.3" r="1.5"/><circle cx="213.8" cy="485.3" r="1.5"/><circle cx="213.3" cy="489.0" r="1.5"/><circle cx="223.4" cy="489.1" r="1.5"/><circle cx="214.3" cy="486.8" r="1.5"/><circle cx="225.1" cy="487.0" r="1.5"/><circle cx="225.5" cy="489.6" r="1.5"/><circle cx="217.1" cy="486.8" r="1.5"/><circle cx="225.4" cy="491.4" r="1.5"/><circle cx="229.2" cy="485.2" r="1.5"/><circle cx="216.1" cy="482.7" r="1.5"/><circle cx="217.7" cy="484.5" r="1.5"/><circle cx="227.7" cy="481.5" r="1.5"/><circle cx="219.3" cy="490.9" r="1.5"/><circle cx="223.1" cy="488.6" r="1.5"/><circle cx="222.9" cy="483.8" r="1.5"/><circle cx="221.2" cy="481.2" r="1.5"/><circle cx="214.3" cy="490.3" r="1.5"/><circle cx="222.1" cy="485.9" r="1.5"/><circle cx="227.5" cy="484.3" r="1.5"/><circle cx="233.3" cy="486.2" r="1.5"/><circle cx="229.0" cy="483.5" r="1.5"/><circle cx="218.6" cy="481.9" r="1.5"/><circle cx="219.3" cy="480.5" r="1.5"/><circle cx="225.4" cy="480.3" r="1.5"/><circle cx="224.3" cy="488.2" r="1.5"/><circle cx="221.7" cy="485.2" r="1.5"/><circle cx="217.0" cy="484.3" r="1.5"/><circle cx="234.2" cy="486.9" r="1.5"/><circle cx="227.8" cy="488.6" r="1.5"/><circle cx="215.6" cy="484.4" r="1.5"/><circle cx="226.6" cy="483.0" r="1.5"/><circle cx="215.2" cy="488.9" r="1.5"/><circle cx="219.0" cy="484.9" r="1.5"/><circle cx="227.2" cy="490.2" r="1.5"/><circle cx="218.4" cy="487.5" r="1.5"/><circle cx="217.9" cy="491.9" r="1.5"/><circle cx="223.1" cy="483.8" r="1.5"/><circle cx="219.6" cy="482.5" r="1.5"/><circle cx="220.1" cy="483.2" r="1.5"/><circle cx="223.9" cy="491.8" r="1.5"/><circle cx="229.5" cy="488.9" r="1.5"/><circle cx="215.7" cy="488.0" r="1.5"/><circle cx="221.1" cy="485.8" r="1.5"/><circle cx="230.3" cy="483.4" r="1.5"/><circle cx="218.8" cy="480.7" r="1.5"/><circle cx="232.0" cy="489.8" r="1.5"/><circle cx="235.0" cy="486.8" r="1.5"/><circle cx="229.4" cy="491.6" r="1.5"/><circle cx="223.0" cy="480.3" r="1.5"/><circle cx="210.8" cy="490.4" r="1.5"/><circle cx="224.5" cy="483.4" r="1.5"/><circle cx="220.5" cy="492.1" r="1.5"/><circle cx="215.9" cy="483.4" r="1.5"/><circle cx="231.3" cy="484.5" r="1.5"/><circle cx="233.9" cy="486.9" r="1.5"/><circle cx="221.5" cy="487.3" r="1.5"/><circle cx="230.1" cy="483.2" r="1.5"/><circle cx="210.7" cy="489.1" r="1.5"/><circle cx="225.0" cy="490.6" r="1.5"/><circle cx="221.9" cy="482.0" r="1.5"/><circle cx="229.7" cy="483.3" r="1.5"/><circle cx="210.4" cy="489.9" r="1.5"/><circle cx="224.7" cy="481.3" r="1.5"/><circle cx="211.3" cy="488.8" r="1.5"/><circle cx="234.8" cy="489.5" r="1.5"/><circle cx="225.3" cy="490.6" r="1.5"/><circle cx="225.0" cy="487.8" r="1.5"/><circle cx="225.3" cy="485.9" r="1.5"/><circle cx="227.3" cy="482.0" r="1.5"/><circle cx="218.4" cy="484.6" r="1.5"/><circle cx="228.5" cy="483.0" r="1.5"/><circle cx="215.2" cy="487.5" r="1.5"/><circle cx="223.7" cy="481.0" r="1.5"/><circle cx="220.3" cy="489.4" r="1.5"/><circle cx="218.4" cy="491.8" r="1.5"/><circle cx="226.4" cy="483.2" r="1.5"/><circle cx="221.4" cy="488.8" r="1.5"/><circle cx="226.3" cy="491.0" r="1.5"/><circle cx="216.4" cy="483.9" r="1.5"/><circle cx="224.5" cy="490.8" r="1.5"/><circle cx="223.7" cy="489.0" r="1.5"/><circle cx="228.3" cy="489.8" r="1.5"/><circle cx="218.7" cy="484.7" r="1.5"/><circle cx="224.9" cy="488.9" r="1.5"/><circle cx="229.7" cy="489.8" r="1.5"/><circle cx="222.1" cy="491.1" r="1.5"/><circle cx="229.9" cy="487.6" r="1.5"/><circle cx="218.9" cy="482.0" r="1.5"/><circle cx="236.5" cy="488.8" r="1.5"/><circle cx="217.5" cy="486.1" r="1.5"/><circle cx="224.9" cy="490.9" r="1.5"/><circle cx="230.8" cy="485.9" r="1.5"/><circle cx="226.9" cy="488.0" r="1.5"/><circle cx="227.5" cy="487.9" r="1.5"/><circle cx="221.9" cy="482.8" r="1.5"/><circle cx="227.1" cy="489.3" r="1.5"/><circle cx="229.5" cy="486.6" r="1.5"/><circle cx="211.8" cy="487.6" r="1.5"/><circle cx="220.7" cy="486.6" r="1.5"/><circle cx="224.2" cy="480.6" r="1.5"/><circle cx="230.0" cy="482.6" r="1.5"/><circle cx="224.8" cy="487.2" r="1.5"/><circle cx="233.5" cy="486.2" r="1.5"/><circle cx="229.8" cy="486.6" r="1.5"/><circle cx="228.9" cy="484.0" r="1.5"/><circle cx="216.0" cy="487.7" r="1.5"/><circle cx="217.2" cy="486.5" r="1.5"/><circle cx="212.1" cy="487.3" r="1.5"/><circle cx="230.8" cy="488.4" r="1.5"/><circle cx="226.1" cy="491.6" r="1.5"/><circle cx="224.4" cy="489.1" r="1.5"/><circle cx="236.5" cy="488.1" r="1.5"/><circle cx="222.2" cy="488.8" r="1.5"/><circle cx="215.5" cy="484.5" r="1.5"/></g>
<path d="M224.20,480.30 L225.60,481.50 L227.80,483.50 L230.40,486.00 L232.90,488.50 L233.70,489.80 L232.50,490.80 L230.50,491.30 L223.50,491.40 L222.50,491.40 L215.50,491.30 L213.50,490.80 L212.30,489.80 L213.10,488.50 L215.60,486.00 L218.20,483.50 L220.40,481.50 L221.80,480.30Z" fill="#CDDBCD" fill-opacity="0.700" stroke="#1C7A1C" stroke-width="1.20" stroke-linejoin="round"/>
<line x1="223" y1="471.2" x2="223" y2="481" stroke="#1C7A1C" stroke-width="2"/>
<path d="M220.50,478.80 L225.50,478.80 M221.23,477.03 L224.77,480.57 M223.00,476.30 L223.00,481.30 M224.77,477.03 L221.23,480.57" stroke="#1C7A1C" stroke-width="1.10" fill="none" stroke-linecap="round"/>
<path d="M264.80,481.70 C265.22,481.92 265.07,482.48 265.10,483.00 C265.13,483.52 264.73,484.37 265.00,484.80 C265.27,485.23 265.42,485.23 266.70,485.60 C267.98,485.97 270.78,486.52 272.70,487.00 C274.62,487.48 276.48,488.00 278.20,488.50 C279.92,489.00 281.95,489.60 283.00,490.00 C284.05,490.40 284.72,490.60 284.50,490.90 C284.28,491.20 283.50,491.45 281.70,491.80 C279.90,492.15 276.45,492.68 273.70,493.00 C270.95,493.32 267.12,493.58 265.20,493.70 C263.28,493.82 264.12,493.82 262.20,493.70 C260.28,493.58 256.45,493.32 253.70,493.00 C250.95,492.68 247.50,492.15 245.70,491.80 C243.90,491.45 243.12,491.20 242.90,490.90 C242.68,490.60 243.35,490.40 244.40,490.00 C245.45,489.60 247.48,489.00 249.20,488.50 C250.92,488.00 252.78,487.48 254.70,487.00 C256.62,486.52 259.42,485.97 260.70,485.60 C261.98,485.23 262.13,485.23 262.40,484.80 C262.67,484.37 262.27,483.52 262.30,483.00 C262.33,482.48 262.18,481.92 262.60,481.70 C263.02,481.48 264.38,481.48 264.80,481.70Z" fill="#FF8515" fill-opacity="1.000" stroke="#FF8515" stroke-width="1.00" stroke-linejoin="round"/>
<g fill="#1C7A1C" fill-opacity="0.070" stroke="#1C7A1C" stroke-opacity="0.105" stroke-width="0.50"><circle cx="312.2" cy="489.7" r="1.6"/><circle cx="313.5" cy="488.1" r="1.6"/><circle cx="305.8" cy="483.1" r="1.6"/><circle cx="301.9" cy="481.5" r="1.6"/><circle cx="293.1" cy="485.4" r="1.6"/><circle cx="310.3" cy="488.6" r="1.6"/><circle cx="314.5" cy="488.9" r="1.6"/><circle cx="315.3" cy="485.7" r="1.6"/><circle cx="291.2" cy="487.9" r="1.6"/><circle cx="309.2" cy="489.6" r="1.6"/><circle cx="302.2" cy="480.1" r="1.6"/><circle cx="308.1" cy="486.9" r="1.6"/><circle cx="304.0" cy="489.2" r="1.6"/><circle cx="317.3" cy="489.4" r="1.6"/><circle cx="312.7" cy="482.9" r="1.6"/><circle cx="294.9" cy="486.1" r="1.6"/><circle cx="302.0" cy="485.3" r="1.6"/><circle cx="302.9" cy="483.6" r="1.6"/><circle cx="314.5" cy="489.1" r="1.6"/><circle cx="299.3" cy="487.0" r="1.6"/><circle cx="314.0" cy="487.1" r="1.6"/><circle cx="296.3" cy="483.7" r="1.6"/><circle cx="310.3" cy="488.5" r="1.6"/><circle cx="302.5" cy="480.3" r="1.6"/><circle cx="305.7" cy="491.5" r="1.6"/><circle cx="295.8" cy="486.2" r="1.6"/><circle cx="312.1" cy="482.5" r="1.6"/><circle cx="312.4" cy="486.1" r="1.6"/><circle cx="304.3" cy="488.6" r="1.6"/><circle cx="302.7" cy="489.5" r="1.6"/><circle cx="302.4" cy="490.0" r="1.6"/><circle cx="299.0" cy="488.8" r="1.6"/><circle cx="299.4" cy="485.3" r="1.6"/><circle cx="299.4" cy="484.2" r="1.6"/><circle cx="292.4" cy="488.4" r="1.6"/><circle cx="309.4" cy="486.3" r="1.6"/><circle cx="308.0" cy="486.9" r="1.6"/><circle cx="313.3" cy="489.8" r="1.6"/><circle cx="299.3" cy="481.2" r="1.6"/><circle cx="301.3" cy="479.4" r="1.6"/><circle cx="300.7" cy="483.6" r="1.6"/><circle cx="315.0" cy="485.3" r="1.6"/><circle cx="306.9" cy="484.4" r="1.6"/><circle cx="301.4" cy="490.1" r="1.6"/><circle cx="295.7" cy="486.3" r="1.6"/><circle cx="294.8" cy="485.1" r="1.6"/><circle cx="307.4" cy="485.4" r="1.6"/><circle cx="291.3" cy="487.3" r="1.6"/><circle cx="307.7" cy="486.4" r="1.6"/><circle cx="307.8" cy="481.6" r="1.6"/><circle cx="314.5" cy="486.2" r="1.6"/><circle cx="294.1" cy="488.5" r="1.6"/><circle cx="306.5" cy="488.7" r="1.6"/><circle cx="306.6" cy="491.5" r="1.6"/><circle cx="297.2" cy="485.7" r="1.6"/><circle cx="303.3" cy="489.5" r="1.6"/><circle cx="317.2" cy="488.1" r="1.6"/><circle cx="306.9" cy="480.4" r="1.6"/><circle cx="317.9" cy="488.2" r="1.6"/><circle cx="307.9" cy="491.8" r="1.6"/><circle cx="299.3" cy="483.8" r="1.6"/><circle cx="294.0" cy="485.5" r="1.6"/><circle cx="297.2" cy="483.9" r="1.6"/><circle cx="305.5" cy="488.7" r="1.6"/><circle cx="312.9" cy="490.4" r="1.6"/><circle cx="311.3" cy="483.4" r="1.6"/><circle cx="300.5" cy="485.5" r="1.6"/><circle cx="303.4" cy="489.2" r="1.6"/><circle cx="303.2" cy="490.2" r="1.6"/><circle cx="311.0" cy="491.6" r="1.6"/><circle cx="297.1" cy="488.9" r="1.6"/><circle cx="314.2" cy="488.7" r="1.6"/><circle cx="313.2" cy="484.4" r="1.6"/><circle cx="300.7" cy="483.5" r="1.6"/><circle cx="306.5" cy="484.8" r="1.6"/><circle cx="308.1" cy="488.5" r="1.6"/><circle cx="315.5" cy="486.8" r="1.6"/><circle cx="305.5" cy="485.6" r="1.6"/><circle cx="302.7" cy="485.3" r="1.6"/><circle cx="303.6" cy="487.5" r="1.6"/><circle cx="290.8" cy="487.9" r="1.6"/><circle cx="311.5" cy="487.0" r="1.6"/><circle cx="303.9" cy="491.7" r="1.6"/><circle cx="309.6" cy="490.6" r="1.6"/><circle cx="292.7" cy="486.2" r="1.6"/><circle cx="311.0" cy="484.6" r="1.6"/><circle cx="317.4" cy="486.1" r="1.6"/><circle cx="304.7" cy="480.6" r="1.6"/><circle cx="310.8" cy="486.3" r="1.6"/><circle cx="300.7" cy="481.4" r="1.6"/><circle cx="316.0" cy="489.7" r="1.6"/><circle cx="295.7" cy="485.2" r="1.6"/><circle cx="312.9" cy="483.5" r="1.6"/><circle cx="314.0" cy="486.1" r="1.6"/><circle cx="307.8" cy="484.0" r="1.6"/><circle cx="303.2" cy="481.0" r="1.6"/><circle cx="317.1" cy="486.5" r="1.6"/><circle cx="314.5" cy="485.7" r="1.6"/><circle cx="295.8" cy="483.7" r="1.6"/><circle cx="298.1" cy="484.8" r="1.6"/><circle cx="302.7" cy="484.2" r="1.6"/><circle cx="315.4" cy="489.9" r="1.6"/><circle cx="304.3" cy="484.6" r="1.6"/><circle cx="297.2" cy="484.8" r="1.6"/><circle cx="305.3" cy="483.6" r="1.6"/><circle cx="290.7" cy="489.2" r="1.6"/><circle cx="303.4" cy="487.7" r="1.6"/><circle cx="302.7" cy="488.9" r="1.6"/><circle cx="306.8" cy="484.5" r="1.6"/><circle cx="306.5" cy="482.1" r="1.6"/><circle cx="305.2" cy="482.9" r="1.6"/><circle cx="312.5" cy="489.8" r="1.6"/><circle cx="303.1" cy="480.3" r="1.6"/><circle cx="303.2" cy="491.6" r="1.6"/><circle cx="310.9" cy="486.5" r="1.6"/><circle cx="310.2" cy="488.2" r="1.6"/><circle cx="314.3" cy="490.9" r="1.6"/><circle cx="306.3" cy="489.4" r="1.6"/><circle cx="306.1" cy="486.1" r="1.6"/><circle cx="306.8" cy="480.9" r="1.6"/><circle cx="301.2" cy="487.4" r="1.6"/><circle cx="296.8" cy="485.8" r="1.6"/><circle cx="306.2" cy="488.3" r="1.6"/><circle cx="311.6" cy="482.3" r="1.6"/><circle cx="307.6" cy="485.8" r="1.6"/><circle cx="299.7" cy="482.7" r="1.6"/><circle cx="302.8" cy="490.8" r="1.6"/><circle cx="297.3" cy="486.1" r="1.6"/><circle cx="308.3" cy="479.1" r="1.6"/><circle cx="308.6" cy="479.7" r="1.6"/><circle cx="301.2" cy="488.2" r="1.6"/><circle cx="302.6" cy="483.7" r="1.6"/><circle cx="313.0" cy="490.1" r="1.6"/><circle cx="298.6" cy="486.7" r="1.6"/><circle cx="307.2" cy="487.4" r="1.6"/><circle cx="319.4" cy="487.5" r="1.6"/><circle cx="304.2" cy="489.5" r="1.6"/><circle cx="291.3" cy="486.4" r="1.6"/><circle cx="308.1" cy="479.6" r="1.6"/><circle cx="304.9" cy="489.8" r="1.6"/><circle cx="295.8" cy="489.6" r="1.6"/><circle cx="302.9" cy="481.0" r="1.6"/><circle cx="296.9" cy="487.4" r="1.6"/><circle cx="313.0" cy="482.6" r="1.6"/><circle cx="304.9" cy="486.3" r="1.6"/><circle cx="305.3" cy="484.8" r="1.6"/><circle cx="299.1" cy="489.7" r="1.6"/><circle cx="311.4" cy="485.1" r="1.6"/><circle cx="301.0" cy="491.8" r="1.6"/><circle cx="309.6" cy="491.3" r="1.6"/><circle cx="295.2" cy="487.9" r="1.6"/><circle cx="302.2" cy="488.0" r="1.6"/><circle cx="305.7" cy="481.8" r="1.6"/><circle cx="297.7" cy="482.1" r="1.6"/><circle cx="310.6" cy="484.0" r="1.6"/><circle cx="300.5" cy="485.9" r="1.6"/><circle cx="314.0" cy="485.5" r="1.6"/><circle cx="299.2" cy="482.8" r="1.6"/><circle cx="297.8" cy="490.3" r="1.6"/><circle cx="304.0" cy="481.2" r="1.6"/><circle cx="298.1" cy="484.9" r="1.6"/><circle cx="315.8" cy="489.6" r="1.6"/><circle cx="302.2" cy="491.2" r="1.6"/><circle cx="291.7" cy="487.9" r="1.6"/><circle cx="298.0" cy="485.3" r="1.6"/><circle cx="304.9" cy="488.7" r="1.6"/><circle cx="307.3" cy="491.0" r="1.6"/><circle cx="305.0" cy="479.0" r="1.6"/><circle cx="304.5" cy="482.3" r="1.6"/><circle cx="309.9" cy="485.4" r="1.6"/><circle cx="305.1" cy="481.5" r="1.6"/><circle cx="294.1" cy="484.9" r="1.6"/><circle cx="302.1" cy="489.8" r="1.6"/><circle cx="302.7" cy="480.1" r="1.6"/><circle cx="308.6" cy="481.8" r="1.6"/><circle cx="306.2" cy="479.5" r="1.6"/><circle cx="302.0" cy="481.8" r="1.6"/><circle cx="303.2" cy="480.7" r="1.6"/><circle cx="294.2" cy="488.2" r="1.6"/><circle cx="294.4" cy="489.4" r="1.6"/><circle cx="312.5" cy="482.6" r="1.6"/><circle cx="312.5" cy="490.3" r="1.6"/><circle cx="298.9" cy="491.6" r="1.6"/><circle cx="309.5" cy="487.9" r="1.6"/><circle cx="313.6" cy="486.7" r="1.6"/><circle cx="297.4" cy="485.9" r="1.6"/><circle cx="319.2" cy="487.6" r="1.6"/><circle cx="311.0" cy="483.0" r="1.6"/><circle cx="302.8" cy="486.3" r="1.6"/><circle cx="300.4" cy="490.1" r="1.6"/><circle cx="294.9" cy="489.6" r="1.6"/><circle cx="305.8" cy="480.8" r="1.6"/><circle cx="308.8" cy="484.1" r="1.6"/><circle cx="308.6" cy="480.3" r="1.6"/><circle cx="297.4" cy="482.7" r="1.6"/><circle cx="300.9" cy="487.7" r="1.6"/><circle cx="292.5" cy="489.1" r="1.6"/><circle cx="318.4" cy="489.2" r="1.6"/><circle cx="299.7" cy="481.3" r="1.6"/><circle cx="295.9" cy="488.6" r="1.6"/><circle cx="316.7" cy="485.8" r="1.6"/><circle cx="293.5" cy="490.5" r="1.6"/><circle cx="306.8" cy="491.0" r="1.6"/><circle cx="313.6" cy="488.2" r="1.6"/><circle cx="311.0" cy="482.5" r="1.6"/><circle cx="302.6" cy="479.2" r="1.6"/><circle cx="302.8" cy="484.7" r="1.6"/><circle cx="301.2" cy="488.1" r="1.6"/><circle cx="305.8" cy="491.7" r="1.6"/><circle cx="303.2" cy="485.2" r="1.6"/><circle cx="307.8" cy="478.5" r="1.6"/><circle cx="304.5" cy="483.3" r="1.6"/><circle cx="311.2" cy="491.1" r="1.6"/><circle cx="305.7" cy="488.6" r="1.6"/><circle cx="317.6" cy="488.4" r="1.6"/><circle cx="293.3" cy="488.8" r="1.6"/><circle cx="295.7" cy="486.4" r="1.6"/><circle cx="307.8" cy="481.7" r="1.6"/><circle cx="313.3" cy="489.9" r="1.6"/><circle cx="303.0" cy="489.5" r="1.6"/><circle cx="306.3" cy="482.2" r="1.6"/><circle cx="305.1" cy="481.7" r="1.6"/><circle cx="293.9" cy="487.3" r="1.6"/><circle cx="295.6" cy="487.0" r="1.6"/><circle cx="303.8" cy="491.5" r="1.6"/><circle cx="293.5" cy="488.0" r="1.6"/><circle cx="290.5" cy="489.2" r="1.6"/><circle cx="304.3" cy="479.9" r="1.6"/><circle cx="310.9" cy="486.1" r="1.6"/><circle cx="301.7" cy="480.0" r="1.6"/><circle cx="303.8" cy="480.9" r="1.6"/><circle cx="298.3" cy="485.1" r="1.6"/><circle cx="310.1" cy="485.1" r="1.6"/><circle cx="309.2" cy="484.5" r="1.6"/><circle cx="306.3" cy="486.8" r="1.6"/><circle cx="302.5" cy="489.2" r="1.6"/><circle cx="301.6" cy="489.6" r="1.6"/><circle cx="289.8" cy="488.1" r="1.6"/><circle cx="301.6" cy="488.8" r="1.6"/><circle cx="302.9" cy="480.9" r="1.6"/><circle cx="309.5" cy="489.9" r="1.6"/><circle cx="306.5" cy="487.0" r="1.6"/><circle cx="299.6" cy="490.3" r="1.6"/><circle cx="297.2" cy="484.4" r="1.6"/><circle cx="297.9" cy="484.6" r="1.6"/><circle cx="294.1" cy="484.6" r="1.6"/><circle cx="315.1" cy="490.6" r="1.6"/><circle cx="305.7" cy="485.5" r="1.6"/><circle cx="308.6" cy="489.8" r="1.6"/><circle cx="309.1" cy="488.5" r="1.6"/></g>
<path d="M306.20,476.70 C306.80,476.92 306.40,477.45 306.60,478.00 C306.80,478.55 307.13,479.50 307.40,480.00 C307.67,480.50 307.58,480.50 308.20,481.00 C308.82,481.50 310.13,482.25 311.10,483.00 C312.07,483.75 313.32,484.73 314.00,485.50 C314.68,486.27 315.17,486.92 315.20,487.60 C315.23,488.28 314.93,489.03 314.20,489.60 C313.47,490.17 312.15,490.67 310.80,491.00 C309.45,491.33 307.38,491.50 306.10,491.60 C304.82,491.70 304.38,491.70 303.10,491.60 C301.82,491.50 299.75,491.33 298.40,491.00 C297.05,490.67 295.73,490.17 295.00,489.60 C294.27,489.03 293.97,488.28 294.00,487.60 C294.03,486.92 294.52,486.27 295.20,485.50 C295.88,484.73 297.13,483.75 298.10,483.00 C299.07,482.25 300.38,481.50 301.00,481.00 C301.62,480.50 301.53,480.50 301.80,480.00 C302.07,479.50 302.40,478.55 302.60,478.00 C302.80,477.45 302.40,476.92 303.00,476.70 C303.60,476.48 305.60,476.48 306.20,476.70Z" fill="#4C8C4C" fill-opacity="0.900" stroke="#166E16" stroke-width="1.10" stroke-linejoin="round"/>
<path d="M301.40,474.30 L307.60,474.30 M302.31,472.11 L306.69,476.49 M304.50,471.20 L304.50,477.40 M306.69,472.11 L302.31,476.49" stroke="#0F6A0F" stroke-width="1.20" fill="none" stroke-linecap="round"/>
<path d="M403.9,491.4 L441.3,491.4" stroke="#FF8515" stroke-width="1.6"/>
<ellipse cx="422.3" cy="491.3" rx="9.5" ry="1.5" fill="#FF8515"/>
<path d="M419.40,493.00 L425.00,493.00 M420.22,491.02 L424.18,494.98 M422.20,490.20 L422.20,495.80 M424.18,491.02 L420.22,494.98" stroke="#FF8515" stroke-width="1.10" fill="none" stroke-linecap="round"/>
<path d="M461.00,412.00 C462.20,412.33 462.60,413.17 463.40,414.00 C464.20,414.83 464.87,415.83 465.80,417.00 C466.73,418.17 468.87,419.83 469.00,421.00 C469.13,422.17 467.67,423.17 466.60,424.00 C465.53,424.83 464.60,425.67 462.60,426.00 C460.60,426.33 456.60,426.33 454.60,426.00 C452.60,425.67 451.67,424.83 450.60,424.00 C449.53,423.17 448.07,422.17 448.20,421.00 C448.33,419.83 450.47,418.17 451.40,417.00 C452.33,415.83 453.00,414.83 453.80,414.00 C454.60,413.17 455.00,412.33 456.20,412.00 C457.40,411.67 459.80,411.67 461.00,412.00Z" fill="#EAF1EA" fill-opacity="1.000" stroke="none" stroke-width="0.00" stroke-linejoin="round"/>
<g fill="#1C7A1C" fill-opacity="0.055" stroke="#1C7A1C" stroke-opacity="0.083" stroke-width="0.50"><circle cx="457.9" cy="425.9" r="1.6"/><circle cx="470.0" cy="420.1" r="1.6"/><circle cx="465.5" cy="419.6" r="1.6"/><circle cx="462.1" cy="421.1" r="1.6"/><circle cx="467.8" cy="421.5" r="1.6"/><circle cx="452.7" cy="420.2" r="1.6"/><circle cx="452.0" cy="415.4" r="1.6"/><circle cx="465.2" cy="420.5" r="1.6"/><circle cx="462.0" cy="424.3" r="1.6"/><circle cx="459.6" cy="424.9" r="1.6"/><circle cx="459.9" cy="419.9" r="1.6"/><circle cx="451.2" cy="420.6" r="1.6"/><circle cx="454.1" cy="415.4" r="1.6"/><circle cx="457.6" cy="412.0" r="1.6"/><circle cx="448.9" cy="423.1" r="1.6"/><circle cx="456.4" cy="416.9" r="1.6"/><circle cx="455.4" cy="414.3" r="1.6"/><circle cx="458.1" cy="416.4" r="1.6"/><circle cx="451.6" cy="417.0" r="1.6"/><circle cx="453.9" cy="419.0" r="1.6"/><circle cx="448.3" cy="423.2" r="1.6"/><circle cx="457.5" cy="413.4" r="1.6"/><circle cx="460.7" cy="416.3" r="1.6"/><circle cx="458.8" cy="419.8" r="1.6"/><circle cx="450.6" cy="417.9" r="1.6"/><circle cx="460.4" cy="420.5" r="1.6"/><circle cx="454.9" cy="424.7" r="1.6"/><circle cx="468.1" cy="422.5" r="1.6"/><circle cx="448.2" cy="420.1" r="1.6"/><circle cx="457.8" cy="412.3" r="1.6"/><circle cx="460.6" cy="421.3" r="1.6"/><circle cx="462.8" cy="413.1" r="1.6"/><circle cx="456.9" cy="416.8" r="1.6"/><circle cx="461.1" cy="420.9" r="1.6"/><circle cx="470.0" cy="419.5" r="1.6"/><circle cx="468.6" cy="418.7" r="1.6"/><circle cx="458.8" cy="422.6" r="1.6"/><circle cx="451.5" cy="416.0" r="1.6"/><circle cx="458.1" cy="420.4" r="1.6"/><circle cx="457.0" cy="415.6" r="1.6"/><circle cx="455.4" cy="419.2" r="1.6"/><circle cx="465.3" cy="422.1" r="1.6"/><circle cx="461.9" cy="418.6" r="1.6"/><circle cx="459.2" cy="421.1" r="1.6"/><circle cx="458.8" cy="422.9" r="1.6"/><circle cx="462.2" cy="419.4" r="1.6"/><circle cx="454.9" cy="412.9" r="1.6"/><circle cx="458.8" cy="417.6" r="1.6"/><circle cx="466.5" cy="421.4" r="1.6"/><circle cx="451.5" cy="416.7" r="1.6"/><circle cx="467.7" cy="421.2" r="1.6"/><circle cx="452.6" cy="416.7" r="1.6"/><circle cx="462.8" cy="418.7" r="1.6"/><circle cx="457.6" cy="413.2" r="1.6"/><circle cx="457.4" cy="425.0" r="1.6"/><circle cx="458.0" cy="413.5" r="1.6"/><circle cx="458.2" cy="424.2" r="1.6"/><circle cx="454.0" cy="416.9" r="1.6"/><circle cx="466.3" cy="418.3" r="1.6"/><circle cx="455.7" cy="416.2" r="1.6"/><circle cx="449.7" cy="420.3" r="1.6"/><circle cx="460.0" cy="425.2" r="1.6"/><circle cx="468.8" cy="418.7" r="1.6"/><circle cx="460.5" cy="413.3" r="1.6"/><circle cx="463.7" cy="418.4" r="1.6"/><circle cx="453.2" cy="417.5" r="1.6"/><circle cx="455.0" cy="418.2" r="1.6"/><circle cx="463.8" cy="416.5" r="1.6"/><circle cx="455.9" cy="413.5" r="1.6"/><circle cx="449.0" cy="419.2" r="1.6"/></g>
<path d="M458.95,404.20 C459.11,405.17 459.11,407.87 459.20,410.00 C459.29,412.13 459.46,414.83 459.50,417.00 C459.54,419.17 459.54,421.07 459.45,423.00 C459.36,424.93 459.15,427.67 458.95,428.60 C458.75,429.53 458.45,429.53 458.25,428.60 C458.05,427.67 457.84,424.93 457.75,423.00 C457.66,421.07 457.66,419.17 457.70,417.00 C457.74,414.83 457.91,412.13 458.00,410.00 C458.09,407.87 458.09,405.17 458.25,404.20 C458.41,403.23 458.79,403.23 458.95,404.20Z" fill="#1C7A1C" fill-opacity="1.000" stroke="#1C7A1C" stroke-width="0.50" stroke-linejoin="round"/>
<path d="M455.60,379.60 L462.00,379.60 M456.54,377.34 L461.06,381.86 M458.80,376.40 L458.80,382.80 M461.06,377.34 L456.54,381.86" stroke="#0F6A0F" stroke-width="1.00" fill="none" stroke-linecap="round"/>
<path d="M496.50,338.00 C497.19,338.67 497.38,340.50 497.62,342.00 C497.88,343.50 497.56,345.50 498.00,347.00 C498.44,348.50 499.07,349.62 500.25,351.00 C501.43,352.38 504.80,354.13 505.05,355.30 C505.30,356.47 502.93,356.88 501.75,358.00 C500.57,359.12 498.75,360.50 498.00,362.00 C497.25,363.50 497.50,365.50 497.25,367.00 C497.00,368.50 497.12,370.33 496.50,371.00 C495.88,371.67 494.12,371.67 493.50,371.00 C492.88,370.33 493.00,368.50 492.75,367.00 C492.50,365.50 492.75,363.50 492.00,362.00 C491.25,360.50 489.43,359.12 488.25,358.00 C487.07,356.88 484.70,356.47 484.95,355.30 C485.20,354.13 488.57,352.38 489.75,351.00 C490.93,349.62 491.56,348.50 492.00,347.00 C492.44,345.50 492.12,343.50 492.38,342.00 C492.62,340.50 492.81,338.67 493.50,338.00 C494.19,337.33 495.81,337.33 496.50,338.00Z" fill="#FFEBDC" fill-opacity="1.000" stroke="none" stroke-width="0.00" stroke-linejoin="round"/>
<g fill="#FF8515" fill-opacity="0.090" stroke="#FF8515" stroke-opacity="0.135" stroke-width="0.50"><circle cx="495.0" cy="352.2" r="1.5"/><circle cx="486.2" cy="354.2" r="1.5"/><circle cx="495.1" cy="361.0" r="1.5"/><circle cx="495.5" cy="358.0" r="1.5"/><circle cx="490.2" cy="351.5" r="1.5"/><circle cx="494.8" cy="353.7" r="1.5"/><circle cx="494.9" cy="355.4" r="1.5"/><circle cx="498.0" cy="361.3" r="1.5"/><circle cx="494.5" cy="348.9" r="1.5"/><circle cx="497.1" cy="365.2" r="1.5"/><circle cx="495.2" cy="351.9" r="1.5"/><circle cx="493.8" cy="359.7" r="1.5"/><circle cx="487.0" cy="355.4" r="1.5"/><circle cx="489.7" cy="352.2" r="1.5"/><circle cx="501.1" cy="355.8" r="1.5"/><circle cx="505.6" cy="354.9" r="1.5"/><circle cx="493.1" cy="346.4" r="1.5"/><circle cx="503.2" cy="354.1" r="1.5"/><circle cx="492.0" cy="366.2" r="1.5"/><circle cx="493.9" cy="357.5" r="1.5"/><circle cx="493.3" cy="344.7" r="1.5"/><circle cx="491.5" cy="358.3" r="1.5"/><circle cx="488.3" cy="357.9" r="1.5"/><circle cx="498.7" cy="354.8" r="1.5"/><circle cx="494.0" cy="340.1" r="1.5"/><circle cx="492.1" cy="355.7" r="1.5"/><circle cx="492.6" cy="350.7" r="1.5"/><circle cx="493.8" cy="355.4" r="1.5"/><circle cx="488.9" cy="353.2" r="1.5"/><circle cx="500.8" cy="353.5" r="1.5"/><circle cx="497.7" cy="366.8" r="1.5"/><circle cx="497.9" cy="366.9" r="1.5"/><circle cx="499.2" cy="347.2" r="1.5"/><circle cx="492.2" cy="349.7" r="1.5"/><circle cx="495.4" cy="369.7" r="1.5"/><circle cx="487.9" cy="355.4" r="1.5"/><circle cx="497.9" cy="357.9" r="1.5"/><circle cx="496.3" cy="356.2" r="1.5"/><circle cx="498.1" cy="345.1" r="1.5"/><circle cx="495.9" cy="355.4" r="1.5"/><circle cx="497.5" cy="340.9" r="1.5"/><circle cx="496.3" cy="338.0" r="1.5"/><circle cx="495.9" cy="339.7" r="1.5"/><circle cx="502.3" cy="355.1" r="1.5"/><circle cx="492.5" cy="343.5" r="1.5"/><circle cx="493.4" cy="340.2" r="1.5"/><circle cx="494.3" cy="343.7" r="1.5"/><circle cx="496.7" cy="355.0" r="1.5"/><circle cx="486.6" cy="356.8" r="1.5"/><circle cx="498.4" cy="348.7" r="1.5"/><circle cx="496.1" cy="365.2" r="1.5"/><circle cx="492.4" cy="347.9" r="1.5"/><circle cx="503.3" cy="353.6" r="1.5"/><circle cx="487.6" cy="357.1" r="1.5"/><circle cx="502.2" cy="356.9" r="1.5"/><circle cx="493.0" cy="348.6" r="1.5"/><circle cx="493.2" cy="348.2" r="1.5"/><circle cx="495.8" cy="350.0" r="1.5"/><circle cx="494.4" cy="356.0" r="1.5"/><circle cx="497.3" cy="361.6" r="1.5"/><circle cx="493.2" cy="347.3" r="1.5"/><circle cx="505.6" cy="355.0" r="1.5"/><circle cx="494.1" cy="349.1" r="1.5"/><circle cx="496.9" cy="359.6" r="1.5"/><circle cx="485.4" cy="353.3" r="1.5"/><circle cx="491.8" cy="346.7" r="1.5"/><circle cx="495.4" cy="357.3" r="1.5"/><circle cx="506.6" cy="355.1" r="1.5"/><circle cx="498.2" cy="357.4" r="1.5"/><circle cx="499.8" cy="349.1" r="1.5"/><circle cx="489.5" cy="350.6" r="1.5"/><circle cx="488.9" cy="351.6" r="1.5"/><circle cx="496.6" cy="361.8" r="1.5"/><circle cx="496.2" cy="351.0" r="1.5"/><circle cx="494.6" cy="357.8" r="1.5"/><circle cx="501.9" cy="356.7" r="1.5"/><circle cx="499.9" cy="357.7" r="1.5"/><circle cx="486.7" cy="354.0" r="1.5"/><circle cx="496.7" cy="358.9" r="1.5"/><circle cx="485.5" cy="354.6" r="1.5"/></g>
<path d="M495.0,337 L495.0,372.2" stroke="#FF8515" stroke-width="1.7"/>
<path d="M491.90,429.90 L497.90,429.90 M492.78,427.78 L497.02,432.02 M494.90,426.90 L494.90,432.90 M497.02,427.78 L492.78,432.02" stroke="#FF8515" stroke-width="1.10" fill="none" stroke-linecap="round"/>
<path d="M533.10,407.00 C533.90,407.50 533.90,409.00 534.70,410.00 C535.50,411.00 536.83,412.00 537.90,413.00 C538.97,414.00 540.17,415.00 541.10,416.00 C542.03,417.00 543.37,418.00 543.50,419.00 C543.63,420.00 542.83,421.00 541.90,422.00 C540.97,423.00 539.23,424.25 537.90,425.00 C536.57,425.75 535.37,426.25 533.90,426.50 C532.43,426.75 530.57,426.75 529.10,426.50 C527.63,426.25 526.43,425.75 525.10,425.00 C523.77,424.25 522.03,423.00 521.10,422.00 C520.17,421.00 519.37,420.00 519.50,419.00 C519.63,418.00 520.97,417.00 521.90,416.00 C522.83,415.00 524.03,414.00 525.10,413.00 C526.17,412.00 527.50,411.00 528.30,410.00 C529.10,409.00 529.10,407.50 529.90,407.00 C530.70,406.50 532.30,406.50 533.10,407.00Z" fill="#EAF1EA" fill-opacity="1.000" stroke="none" stroke-width="0.00" stroke-linejoin="round"/>
<g fill="#1C7A1C" fill-opacity="0.055" stroke="#1C7A1C" stroke-opacity="0.083" stroke-width="0.50"><circle cx="544.0" cy="421.8" r="1.6"/><circle cx="534.7" cy="416.3" r="1.6"/><circle cx="530.9" cy="411.4" r="1.6"/><circle cx="540.0" cy="414.6" r="1.6"/><circle cx="521.4" cy="415.8" r="1.6"/><circle cx="523.7" cy="423.2" r="1.6"/><circle cx="518.1" cy="419.8" r="1.6"/><circle cx="526.3" cy="417.7" r="1.6"/><circle cx="532.0" cy="421.2" r="1.6"/><circle cx="523.1" cy="423.4" r="1.6"/><circle cx="523.4" cy="413.7" r="1.6"/><circle cx="538.0" cy="412.1" r="1.6"/><circle cx="539.1" cy="421.7" r="1.6"/><circle cx="540.4" cy="423.2" r="1.6"/><circle cx="533.0" cy="413.8" r="1.6"/><circle cx="536.4" cy="425.0" r="1.6"/><circle cx="543.3" cy="418.3" r="1.6"/><circle cx="533.1" cy="408.5" r="1.6"/><circle cx="523.5" cy="421.4" r="1.6"/><circle cx="541.9" cy="420.6" r="1.6"/><circle cx="543.4" cy="421.2" r="1.6"/><circle cx="529.1" cy="414.1" r="1.6"/><circle cx="523.0" cy="421.0" r="1.6"/><circle cx="541.3" cy="421.5" r="1.6"/><circle cx="537.7" cy="415.4" r="1.6"/><circle cx="527.2" cy="417.3" r="1.6"/><circle cx="535.7" cy="414.8" r="1.6"/><circle cx="535.0" cy="425.8" r="1.6"/><circle cx="532.3" cy="407.9" r="1.6"/><circle cx="539.0" cy="418.4" r="1.6"/><circle cx="521.1" cy="422.1" r="1.6"/><circle cx="526.0" cy="424.3" r="1.6"/><circle cx="536.5" cy="418.4" r="1.6"/><circle cx="535.3" cy="419.2" r="1.6"/><circle cx="535.8" cy="420.7" r="1.6"/><circle cx="528.6" cy="417.3" r="1.6"/><circle cx="532.8" cy="414.7" r="1.6"/><circle cx="530.3" cy="421.6" r="1.6"/><circle cx="533.6" cy="415.2" r="1.6"/><circle cx="534.7" cy="424.9" r="1.6"/><circle cx="525.4" cy="424.8" r="1.6"/><circle cx="530.8" cy="410.0" r="1.6"/><circle cx="519.1" cy="420.9" r="1.6"/><circle cx="524.9" cy="419.6" r="1.6"/><circle cx="531.1" cy="423.6" r="1.6"/><circle cx="525.3" cy="423.9" r="1.6"/><circle cx="525.4" cy="424.4" r="1.6"/><circle cx="518.6" cy="421.7" r="1.6"/><circle cx="519.0" cy="421.0" r="1.6"/><circle cx="529.2" cy="418.5" r="1.6"/><circle cx="517.9" cy="419.9" r="1.6"/><circle cx="528.9" cy="409.8" r="1.6"/><circle cx="530.2" cy="415.4" r="1.6"/><circle cx="524.5" cy="417.7" r="1.6"/><circle cx="527.9" cy="423.4" r="1.6"/><circle cx="541.2" cy="415.4" r="1.6"/><circle cx="534.3" cy="417.6" r="1.6"/><circle cx="539.5" cy="423.8" r="1.6"/><circle cx="533.5" cy="407.6" r="1.6"/><circle cx="524.1" cy="421.8" r="1.6"/><circle cx="542.2" cy="422.5" r="1.6"/><circle cx="536.6" cy="410.6" r="1.6"/><circle cx="538.6" cy="415.5" r="1.6"/><circle cx="527.2" cy="410.6" r="1.6"/><circle cx="538.8" cy="418.2" r="1.6"/><circle cx="530.6" cy="408.4" r="1.6"/><circle cx="528.0" cy="418.8" r="1.6"/><circle cx="533.4" cy="424.5" r="1.6"/><circle cx="539.1" cy="415.5" r="1.6"/><circle cx="533.5" cy="414.9" r="1.6"/><circle cx="535.4" cy="424.4" r="1.6"/><circle cx="526.4" cy="414.9" r="1.6"/><circle cx="528.5" cy="424.1" r="1.6"/><circle cx="531.0" cy="411.4" r="1.6"/><circle cx="523.2" cy="413.9" r="1.6"/><circle cx="531.6" cy="416.8" r="1.6"/><circle cx="542.5" cy="417.6" r="1.6"/><circle cx="521.6" cy="416.6" r="1.6"/><circle cx="525.9" cy="416.8" r="1.6"/><circle cx="532.0" cy="422.5" r="1.6"/></g>
<path d="M531.85,401.60 C532.01,402.67 532.02,405.77 532.10,408.00 C532.18,410.23 532.32,412.83 532.35,415.00 C532.38,417.17 532.38,418.90 532.30,421.00 C532.22,423.10 532.04,426.50 531.85,427.60 C531.66,428.70 531.34,428.70 531.15,427.60 C530.96,426.50 530.78,423.10 530.70,421.00 C530.62,418.90 530.62,417.17 530.65,415.00 C530.68,412.83 530.82,410.23 530.90,408.00 C530.98,405.77 530.99,402.67 531.15,401.60 C531.31,400.53 531.69,400.53 531.85,401.60Z" fill="#1C7A1C" fill-opacity="1.000" stroke="#1C7A1C" stroke-width="0.50" stroke-linejoin="round"/>
<path d="M528.40,472.70 L534.40,472.70 M529.28,470.58 L533.52,474.82 M531.40,469.70 L531.40,475.70 M533.52,470.58 L529.28,474.82" stroke="#0F6A0F" stroke-width="1.00" fill="none" stroke-linecap="round"/>
<path d="M570.50,312.40 C572.00,312.83 573.41,314.07 574.10,315.00 C574.79,315.93 574.04,316.83 574.64,318.00 C575.24,319.17 576.69,320.50 577.70,322.00 C578.70,323.50 580.37,325.67 580.67,327.00 C580.97,328.33 579.97,328.88 579.50,330.00 C579.03,331.12 578.56,332.53 577.88,333.70 C577.20,334.87 576.20,335.88 575.45,337.00 C574.70,338.12 573.98,339.07 573.38,340.40 C572.78,341.73 572.48,343.40 571.85,345.00 C571.22,346.60 570.57,349.17 569.60,350.00 C568.62,350.83 566.98,350.83 566.00,350.00 C565.02,349.17 564.38,346.60 563.75,345.00 C563.12,343.40 562.82,341.73 562.22,340.40 C561.62,339.07 560.90,338.12 560.15,337.00 C559.40,335.88 558.39,334.87 557.72,333.70 C557.04,332.53 556.56,331.12 556.10,330.00 C555.63,328.88 554.63,328.33 554.93,327.00 C555.23,325.67 556.89,323.50 557.90,322.00 C558.90,320.50 560.36,319.17 560.96,318.00 C561.56,316.83 560.81,315.93 561.50,315.00 C562.19,314.07 563.60,312.83 565.10,312.40 C566.60,311.97 569.00,311.97 570.50,312.40Z" fill="#FFD3AE" fill-opacity="1.000" stroke="none" stroke-width="0.00" stroke-linejoin="round"/>
<g fill="#FF8515" fill-opacity="0.070" stroke="#FF8515" stroke-opacity="0.105" stroke-width="0.40"><circle cx="572.7" cy="329.6" r="1.4"/><circle cx="572.1" cy="338.0" r="1.4"/><circle cx="564.4" cy="331.4" r="1.4"/><circle cx="578.1" cy="321.9" r="1.4"/><circle cx="571.8" cy="313.2" r="1.4"/><circle cx="565.5" cy="321.4" r="1.4"/><circle cx="568.0" cy="315.8" r="1.4"/><circle cx="560.8" cy="323.3" r="1.4"/><circle cx="567.1" cy="347.0" r="1.4"/><circle cx="559.2" cy="336.0" r="1.4"/><circle cx="577.2" cy="327.2" r="1.4"/><circle cx="567.9" cy="315.4" r="1.4"/><circle cx="572.4" cy="318.0" r="1.4"/><circle cx="558.3" cy="321.2" r="1.4"/><circle cx="567.0" cy="321.0" r="1.4"/><circle cx="562.6" cy="321.5" r="1.4"/><circle cx="560.0" cy="329.5" r="1.4"/><circle cx="571.2" cy="320.2" r="1.4"/><circle cx="562.1" cy="330.0" r="1.4"/><circle cx="565.7" cy="320.4" r="1.4"/><circle cx="579.9" cy="328.2" r="1.4"/><circle cx="559.5" cy="330.5" r="1.4"/><circle cx="578.9" cy="333.0" r="1.4"/><circle cx="560.0" cy="334.9" r="1.4"/><circle cx="564.2" cy="327.0" r="1.4"/><circle cx="565.1" cy="338.1" r="1.4"/><circle cx="568.7" cy="327.2" r="1.4"/><circle cx="571.6" cy="333.2" r="1.4"/><circle cx="563.0" cy="328.4" r="1.4"/><circle cx="558.1" cy="335.5" r="1.4"/><circle cx="570.3" cy="324.2" r="1.4"/><circle cx="568.6" cy="347.1" r="1.4"/><circle cx="574.3" cy="329.3" r="1.4"/><circle cx="578.5" cy="327.2" r="1.4"/><circle cx="568.1" cy="349.1" r="1.4"/><circle cx="574.3" cy="332.3" r="1.4"/><circle cx="570.5" cy="331.5" r="1.4"/><circle cx="563.9" cy="330.4" r="1.4"/><circle cx="563.1" cy="343.2" r="1.4"/><circle cx="566.8" cy="318.4" r="1.4"/><circle cx="568.7" cy="320.3" r="1.4"/><circle cx="572.5" cy="331.4" r="1.4"/><circle cx="573.3" cy="335.8" r="1.4"/><circle cx="567.6" cy="332.5" r="1.4"/><circle cx="568.9" cy="324.1" r="1.4"/><circle cx="565.7" cy="344.5" r="1.4"/><circle cx="562.4" cy="333.8" r="1.4"/><circle cx="571.9" cy="335.3" r="1.4"/><circle cx="557.7" cy="327.6" r="1.4"/><circle cx="561.7" cy="330.9" r="1.4"/><circle cx="562.8" cy="322.4" r="1.4"/><circle cx="571.2" cy="338.2" r="1.4"/><circle cx="577.9" cy="322.1" r="1.4"/><circle cx="559.4" cy="321.1" r="1.4"/><circle cx="576.7" cy="325.4" r="1.4"/><circle cx="570.0" cy="330.8" r="1.4"/><circle cx="568.1" cy="331.2" r="1.4"/><circle cx="578.8" cy="327.2" r="1.4"/><circle cx="572.6" cy="320.6" r="1.4"/><circle cx="557.4" cy="325.5" r="1.4"/><circle cx="566.4" cy="339.2" r="1.4"/><circle cx="567.0" cy="313.1" r="1.4"/><circle cx="572.1" cy="341.8" r="1.4"/><circle cx="563.2" cy="342.2" r="1.4"/><circle cx="574.5" cy="326.4" r="1.4"/><circle cx="559.7" cy="326.2" r="1.4"/><circle cx="561.5" cy="314.8" r="1.4"/><circle cx="571.4" cy="321.7" r="1.4"/><circle cx="571.7" cy="332.0" r="1.4"/><circle cx="568.6" cy="316.8" r="1.4"/><circle cx="567.9" cy="345.6" r="1.4"/><circle cx="572.3" cy="339.0" r="1.4"/><circle cx="577.5" cy="333.7" r="1.4"/><circle cx="566.2" cy="326.9" r="1.4"/><circle cx="572.1" cy="344.8" r="1.4"/><circle cx="556.0" cy="332.2" r="1.4"/><circle cx="569.5" cy="345.6" r="1.4"/><circle cx="565.4" cy="331.0" r="1.4"/><circle cx="567.1" cy="349.3" r="1.4"/><circle cx="562.7" cy="324.4" r="1.4"/><circle cx="564.4" cy="318.8" r="1.4"/><circle cx="564.5" cy="326.7" r="1.4"/><circle cx="574.7" cy="325.0" r="1.4"/><circle cx="560.8" cy="326.0" r="1.4"/><circle cx="577.7" cy="333.2" r="1.4"/><circle cx="569.3" cy="326.8" r="1.4"/><circle cx="571.8" cy="338.6" r="1.4"/><circle cx="574.0" cy="316.2" r="1.4"/><circle cx="570.7" cy="329.9" r="1.4"/><circle cx="563.9" cy="330.8" r="1.4"/><circle cx="564.1" cy="322.5" r="1.4"/><circle cx="578.7" cy="325.2" r="1.4"/><circle cx="561.8" cy="319.4" r="1.4"/><circle cx="568.2" cy="326.1" r="1.4"/><circle cx="571.2" cy="334.1" r="1.4"/><circle cx="566.5" cy="333.8" r="1.4"/><circle cx="570.1" cy="334.2" r="1.4"/><circle cx="570.4" cy="335.1" r="1.4"/><circle cx="577.3" cy="321.3" r="1.4"/><circle cx="572.8" cy="332.6" r="1.4"/><circle cx="576.5" cy="322.4" r="1.4"/><circle cx="566.7" cy="341.3" r="1.4"/><circle cx="564.9" cy="317.7" r="1.4"/><circle cx="570.0" cy="328.6" r="1.4"/><circle cx="567.7" cy="333.5" r="1.4"/><circle cx="558.8" cy="335.4" r="1.4"/><circle cx="562.5" cy="315.2" r="1.4"/><circle cx="572.2" cy="329.8" r="1.4"/><circle cx="562.7" cy="319.8" r="1.4"/><circle cx="561.3" cy="317.5" r="1.4"/><circle cx="578.2" cy="329.0" r="1.4"/><circle cx="568.7" cy="345.1" r="1.4"/><circle cx="562.0" cy="314.6" r="1.4"/><circle cx="571.5" cy="342.8" r="1.4"/><circle cx="560.8" cy="337.3" r="1.4"/><circle cx="570.4" cy="337.6" r="1.4"/><circle cx="574.7" cy="322.6" r="1.4"/><circle cx="558.0" cy="321.7" r="1.4"/><circle cx="573.1" cy="340.9" r="1.4"/><circle cx="572.4" cy="325.7" r="1.4"/><circle cx="561.3" cy="339.6" r="1.4"/><circle cx="563.0" cy="319.5" r="1.4"/><circle cx="561.3" cy="326.9" r="1.4"/><circle cx="573.0" cy="340.4" r="1.4"/><circle cx="571.3" cy="315.3" r="1.4"/><circle cx="566.5" cy="325.8" r="1.4"/><circle cx="562.8" cy="318.4" r="1.4"/><circle cx="571.6" cy="317.5" r="1.4"/><circle cx="575.4" cy="321.5" r="1.4"/><circle cx="566.4" cy="339.5" r="1.4"/><circle cx="555.1" cy="330.0" r="1.4"/><circle cx="557.1" cy="325.1" r="1.4"/><circle cx="567.8" cy="328.7" r="1.4"/><circle cx="571.5" cy="312.9" r="1.4"/><circle cx="574.2" cy="338.2" r="1.4"/><circle cx="565.6" cy="346.8" r="1.4"/><circle cx="575.2" cy="333.9" r="1.4"/><circle cx="562.6" cy="326.4" r="1.4"/><circle cx="567.6" cy="345.7" r="1.4"/><circle cx="576.6" cy="329.1" r="1.4"/><circle cx="567.3" cy="326.0" r="1.4"/><circle cx="569.1" cy="322.4" r="1.4"/><circle cx="565.2" cy="337.5" r="1.4"/><circle cx="556.4" cy="322.7" r="1.4"/><circle cx="573.0" cy="339.1" r="1.4"/><circle cx="567.2" cy="348.0" r="1.4"/><circle cx="575.4" cy="329.8" r="1.4"/><circle cx="568.8" cy="318.1" r="1.4"/><circle cx="555.9" cy="331.7" r="1.4"/><circle cx="561.7" cy="315.8" r="1.4"/><circle cx="579.6" cy="325.6" r="1.4"/><circle cx="563.2" cy="319.6" r="1.4"/><circle cx="567.6" cy="346.9" r="1.4"/><circle cx="576.8" cy="322.0" r="1.4"/><circle cx="571.1" cy="337.2" r="1.4"/><circle cx="560.3" cy="331.4" r="1.4"/><circle cx="558.6" cy="320.8" r="1.4"/><circle cx="556.2" cy="326.5" r="1.4"/><circle cx="569.2" cy="321.2" r="1.4"/><circle cx="571.5" cy="345.8" r="1.4"/><circle cx="572.0" cy="324.3" r="1.4"/><circle cx="569.0" cy="322.6" r="1.4"/><circle cx="559.1" cy="332.9" r="1.4"/><circle cx="565.6" cy="339.9" r="1.4"/><circle cx="571.5" cy="325.1" r="1.4"/><circle cx="562.6" cy="333.5" r="1.4"/><circle cx="568.6" cy="320.9" r="1.4"/><circle cx="572.7" cy="315.6" r="1.4"/><circle cx="576.9" cy="336.5" r="1.4"/><circle cx="568.7" cy="322.7" r="1.4"/><circle cx="558.1" cy="321.8" r="1.4"/><circle cx="563.3" cy="340.4" r="1.4"/><circle cx="564.7" cy="323.0" r="1.4"/><circle cx="564.2" cy="346.6" r="1.4"/><circle cx="560.4" cy="323.5" r="1.4"/><circle cx="575.9" cy="330.8" r="1.4"/><circle cx="573.8" cy="335.7" r="1.4"/><circle cx="571.1" cy="341.9" r="1.4"/><circle cx="563.8" cy="345.8" r="1.4"/><circle cx="573.3" cy="327.7" r="1.4"/><circle cx="571.8" cy="314.8" r="1.4"/><circle cx="574.4" cy="334.1" r="1.4"/><circle cx="575.8" cy="324.8" r="1.4"/><circle cx="561.7" cy="324.9" r="1.4"/><circle cx="564.2" cy="331.1" r="1.4"/><circle cx="571.4" cy="324.4" r="1.4"/><circle cx="566.6" cy="336.8" r="1.4"/><circle cx="577.0" cy="321.1" r="1.4"/><circle cx="559.8" cy="329.1" r="1.4"/><circle cx="560.9" cy="327.5" r="1.4"/><circle cx="564.3" cy="342.9" r="1.4"/><circle cx="572.3" cy="337.0" r="1.4"/><circle cx="573.0" cy="338.7" r="1.4"/><circle cx="564.1" cy="316.8" r="1.4"/><circle cx="570.0" cy="320.3" r="1.4"/><circle cx="565.1" cy="321.8" r="1.4"/><circle cx="571.7" cy="315.8" r="1.4"/><circle cx="574.5" cy="320.8" r="1.4"/><circle cx="563.2" cy="319.9" r="1.4"/><circle cx="566.8" cy="338.7" r="1.4"/><circle cx="563.3" cy="316.1" r="1.4"/><circle cx="569.3" cy="326.1" r="1.4"/><circle cx="569.6" cy="337.8" r="1.4"/><circle cx="568.7" cy="340.6" r="1.4"/><circle cx="564.6" cy="345.1" r="1.4"/><circle cx="570.9" cy="334.8" r="1.4"/><circle cx="565.8" cy="324.9" r="1.4"/><circle cx="564.4" cy="336.0" r="1.4"/><circle cx="566.7" cy="343.5" r="1.4"/><circle cx="574.5" cy="323.7" r="1.4"/><circle cx="572.5" cy="324.4" r="1.4"/><circle cx="555.3" cy="324.6" r="1.4"/><circle cx="574.4" cy="336.5" r="1.4"/><circle cx="569.5" cy="335.0" r="1.4"/><circle cx="564.6" cy="314.8" r="1.4"/><circle cx="567.2" cy="341.9" r="1.4"/><circle cx="560.2" cy="335.3" r="1.4"/><circle cx="574.6" cy="321.6" r="1.4"/><circle cx="565.1" cy="336.6" r="1.4"/><circle cx="566.9" cy="332.1" r="1.4"/><circle cx="569.5" cy="331.3" r="1.4"/><circle cx="571.5" cy="313.6" r="1.4"/><circle cx="567.0" cy="348.7" r="1.4"/><circle cx="564.6" cy="331.6" r="1.4"/><circle cx="558.9" cy="332.1" r="1.4"/><circle cx="573.7" cy="325.4" r="1.4"/><circle cx="559.1" cy="334.3" r="1.4"/><circle cx="556.6" cy="329.2" r="1.4"/><circle cx="567.6" cy="338.7" r="1.4"/><circle cx="576.2" cy="329.3" r="1.4"/><circle cx="575.5" cy="330.5" r="1.4"/><circle cx="560.8" cy="316.1" r="1.4"/><circle cx="577.0" cy="335.9" r="1.4"/><circle cx="563.7" cy="340.0" r="1.4"/><circle cx="562.5" cy="319.0" r="1.4"/><circle cx="569.8" cy="331.1" r="1.4"/><circle cx="562.3" cy="320.2" r="1.4"/><circle cx="569.6" cy="337.6" r="1.4"/><circle cx="569.1" cy="329.2" r="1.4"/><circle cx="569.0" cy="324.2" r="1.4"/><circle cx="555.0" cy="326.3" r="1.4"/><circle cx="568.1" cy="313.2" r="1.4"/><circle cx="569.7" cy="327.8" r="1.4"/><circle cx="569.4" cy="314.0" r="1.4"/><circle cx="569.4" cy="347.0" r="1.4"/><circle cx="571.0" cy="320.8" r="1.4"/><circle cx="556.8" cy="324.6" r="1.4"/><circle cx="575.9" cy="332.8" r="1.4"/><circle cx="563.0" cy="327.9" r="1.4"/><circle cx="561.5" cy="331.4" r="1.4"/><circle cx="563.2" cy="325.6" r="1.4"/><circle cx="565.8" cy="347.8" r="1.4"/><circle cx="566.5" cy="315.4" r="1.4"/><circle cx="574.9" cy="331.2" r="1.4"/><circle cx="575.2" cy="325.0" r="1.4"/><circle cx="561.6" cy="340.2" r="1.4"/><circle cx="560.8" cy="337.9" r="1.4"/><circle cx="566.1" cy="326.9" r="1.4"/><circle cx="570.9" cy="344.1" r="1.4"/><circle cx="571.1" cy="332.2" r="1.4"/></g>
<path d="M567.8,295.5 L567.8,375.8" stroke="#FF8515" stroke-width="1.8"/>
<path d="M564.30,418.60 L570.30,418.60 M565.18,416.48 L569.42,420.72 M567.30,415.60 L567.30,421.60 M569.42,416.48 L565.18,420.72" stroke="#FF8515" stroke-width="1.10" fill="none" stroke-linecap="round"/>
<path d="M605.32,391.40 C606.42,392.00 607.89,393.57 609.28,395.00 C610.67,396.43 612.39,398.35 613.68,400.00 C614.97,401.65 616.80,403.23 617.02,404.90 C617.24,406.57 616.00,408.32 615.00,410.00 C614.00,411.68 612.51,413.23 611.04,415.00 C609.57,416.77 607.74,419.67 606.20,420.60 C604.66,421.53 603.34,421.53 601.80,420.60 C600.26,419.67 598.43,416.77 596.96,415.00 C595.49,413.23 594.00,411.68 593.00,410.00 C592.00,408.32 590.76,406.57 590.98,404.90 C591.20,403.23 593.03,401.65 594.32,400.00 C595.61,398.35 597.33,396.43 598.72,395.00 C600.11,393.57 601.58,392.00 602.68,391.40 C603.78,390.80 604.22,390.80 605.32,391.40Z" fill="#94C194" fill-opacity="1.000" stroke="none" stroke-width="0.00" stroke-linejoin="round"/>
<g fill="#2E7D2E" fill-opacity="0.060" stroke="#2E7D2E" stroke-opacity="0.090" stroke-width="0.40"><circle cx="604.9" cy="415.8" r="1.4"/><circle cx="600.3" cy="400.2" r="1.4"/><circle cx="604.7" cy="412.7" r="1.4"/><circle cx="609.8" cy="399.4" r="1.4"/><circle cx="600.8" cy="404.6" r="1.4"/><circle cx="599.7" cy="398.0" r="1.4"/><circle cx="617.9" cy="405.5" r="1.4"/><circle cx="606.7" cy="396.6" r="1.4"/><circle cx="599.8" cy="403.7" r="1.4"/><circle cx="600.5" cy="418.3" r="1.4"/><circle cx="599.1" cy="415.4" r="1.4"/><circle cx="600.0" cy="408.0" r="1.4"/><circle cx="608.9" cy="404.8" r="1.4"/><circle cx="610.6" cy="413.8" r="1.4"/><circle cx="599.2" cy="415.2" r="1.4"/><circle cx="604.4" cy="417.1" r="1.4"/><circle cx="605.7" cy="405.0" r="1.4"/><circle cx="594.4" cy="400.8" r="1.4"/><circle cx="602.1" cy="408.7" r="1.4"/><circle cx="610.2" cy="413.8" r="1.4"/><circle cx="606.7" cy="399.1" r="1.4"/><circle cx="610.8" cy="404.0" r="1.4"/><circle cx="613.0" cy="405.7" r="1.4"/><circle cx="593.8" cy="402.2" r="1.4"/><circle cx="615.3" cy="411.4" r="1.4"/><circle cx="602.5" cy="420.2" r="1.4"/><circle cx="590.5" cy="405.6" r="1.4"/><circle cx="606.5" cy="417.0" r="1.4"/><circle cx="593.0" cy="403.6" r="1.4"/><circle cx="605.1" cy="393.0" r="1.4"/><circle cx="602.9" cy="402.7" r="1.4"/><circle cx="607.5" cy="394.6" r="1.4"/><circle cx="599.9" cy="411.0" r="1.4"/><circle cx="607.5" cy="416.4" r="1.4"/><circle cx="615.4" cy="410.2" r="1.4"/><circle cx="597.0" cy="409.9" r="1.4"/><circle cx="614.0" cy="405.2" r="1.4"/><circle cx="598.1" cy="409.1" r="1.4"/><circle cx="606.6" cy="396.3" r="1.4"/><circle cx="601.4" cy="405.7" r="1.4"/><circle cx="600.6" cy="419.1" r="1.4"/><circle cx="600.4" cy="395.9" r="1.4"/><circle cx="607.7" cy="395.4" r="1.4"/><circle cx="606.7" cy="415.5" r="1.4"/><circle cx="611.2" cy="402.7" r="1.4"/><circle cx="604.3" cy="393.3" r="1.4"/><circle cx="600.8" cy="408.1" r="1.4"/><circle cx="606.4" cy="418.5" r="1.4"/><circle cx="602.7" cy="402.3" r="1.4"/><circle cx="609.4" cy="406.2" r="1.4"/><circle cx="600.4" cy="418.3" r="1.4"/><circle cx="602.4" cy="406.2" r="1.4"/><circle cx="595.3" cy="398.6" r="1.4"/><circle cx="590.5" cy="403.5" r="1.4"/><circle cx="595.9" cy="403.1" r="1.4"/><circle cx="615.1" cy="408.0" r="1.4"/><circle cx="595.3" cy="411.7" r="1.4"/><circle cx="613.3" cy="400.9" r="1.4"/><circle cx="603.3" cy="418.6" r="1.4"/><circle cx="597.0" cy="412.9" r="1.4"/><circle cx="596.3" cy="402.5" r="1.4"/><circle cx="601.3" cy="392.8" r="1.4"/><circle cx="600.3" cy="412.8" r="1.4"/><circle cx="594.3" cy="399.7" r="1.4"/><circle cx="610.5" cy="415.1" r="1.4"/><circle cx="611.5" cy="406.9" r="1.4"/><circle cx="596.3" cy="401.4" r="1.4"/><circle cx="603.8" cy="415.8" r="1.4"/><circle cx="595.3" cy="400.4" r="1.4"/><circle cx="607.5" cy="418.1" r="1.4"/><circle cx="604.8" cy="403.0" r="1.4"/><circle cx="601.9" cy="407.3" r="1.4"/><circle cx="605.0" cy="393.3" r="1.4"/><circle cx="612.4" cy="404.0" r="1.4"/><circle cx="596.9" cy="406.3" r="1.4"/><circle cx="598.0" cy="408.5" r="1.4"/><circle cx="600.1" cy="413.4" r="1.4"/><circle cx="612.1" cy="405.0" r="1.4"/><circle cx="605.8" cy="405.2" r="1.4"/><circle cx="600.4" cy="417.7" r="1.4"/><circle cx="605.9" cy="409.8" r="1.4"/><circle cx="604.5" cy="409.4" r="1.4"/><circle cx="595.2" cy="401.6" r="1.4"/><circle cx="600.8" cy="408.4" r="1.4"/><circle cx="611.7" cy="413.4" r="1.4"/><circle cx="612.9" cy="406.3" r="1.4"/><circle cx="608.7" cy="400.3" r="1.4"/><circle cx="596.7" cy="396.7" r="1.4"/><circle cx="600.6" cy="394.8" r="1.4"/><circle cx="603.7" cy="412.3" r="1.4"/><circle cx="610.8" cy="398.4" r="1.4"/><circle cx="609.2" cy="409.5" r="1.4"/><circle cx="605.2" cy="400.9" r="1.4"/><circle cx="609.6" cy="409.1" r="1.4"/><circle cx="596.9" cy="401.6" r="1.4"/><circle cx="606.3" cy="393.3" r="1.4"/><circle cx="605.0" cy="393.2" r="1.4"/><circle cx="604.7" cy="396.7" r="1.4"/><circle cx="607.2" cy="393.5" r="1.4"/><circle cx="602.8" cy="410.7" r="1.4"/><circle cx="597.0" cy="399.5" r="1.4"/><circle cx="616.8" cy="408.7" r="1.4"/><circle cx="596.4" cy="411.4" r="1.4"/><circle cx="611.8" cy="398.3" r="1.4"/><circle cx="598.4" cy="397.2" r="1.4"/><circle cx="599.3" cy="411.0" r="1.4"/><circle cx="604.1" cy="406.0" r="1.4"/><circle cx="610.9" cy="396.3" r="1.4"/><circle cx="597.4" cy="401.3" r="1.4"/><circle cx="597.4" cy="402.1" r="1.4"/><circle cx="605.0" cy="407.3" r="1.4"/><circle cx="612.9" cy="413.9" r="1.4"/><circle cx="596.9" cy="403.9" r="1.4"/><circle cx="592.0" cy="402.1" r="1.4"/><circle cx="598.9" cy="397.2" r="1.4"/><circle cx="611.0" cy="396.7" r="1.4"/><circle cx="594.0" cy="409.6" r="1.4"/><circle cx="603.7" cy="398.5" r="1.4"/><circle cx="598.1" cy="399.1" r="1.4"/><circle cx="603.1" cy="402.9" r="1.4"/><circle cx="607.4" cy="409.1" r="1.4"/><circle cx="605.6" cy="394.9" r="1.4"/><circle cx="596.7" cy="396.8" r="1.4"/><circle cx="608.5" cy="406.7" r="1.4"/><circle cx="599.6" cy="411.8" r="1.4"/><circle cx="613.9" cy="406.9" r="1.4"/><circle cx="609.8" cy="416.7" r="1.4"/><circle cx="609.1" cy="413.5" r="1.4"/><circle cx="594.4" cy="400.7" r="1.4"/><circle cx="607.3" cy="397.3" r="1.4"/><circle cx="591.4" cy="406.4" r="1.4"/><circle cx="609.8" cy="406.1" r="1.4"/><circle cx="593.8" cy="402.4" r="1.4"/><circle cx="597.9" cy="395.8" r="1.4"/><circle cx="605.8" cy="397.7" r="1.4"/><circle cx="595.6" cy="410.0" r="1.4"/><circle cx="600.2" cy="413.0" r="1.4"/><circle cx="610.1" cy="415.1" r="1.4"/><circle cx="598.8" cy="396.7" r="1.4"/><circle cx="603.2" cy="411.3" r="1.4"/><circle cx="599.3" cy="403.0" r="1.4"/><circle cx="607.9" cy="403.1" r="1.4"/><circle cx="608.6" cy="412.0" r="1.4"/><circle cx="598.7" cy="417.7" r="1.4"/><circle cx="609.5" cy="411.9" r="1.4"/><circle cx="604.8" cy="407.8" r="1.4"/><circle cx="609.5" cy="403.5" r="1.4"/><circle cx="600.8" cy="396.5" r="1.4"/><circle cx="600.6" cy="401.3" r="1.4"/><circle cx="606.6" cy="416.8" r="1.4"/><circle cx="607.3" cy="397.9" r="1.4"/><circle cx="596.8" cy="400.9" r="1.4"/><circle cx="596.7" cy="402.2" r="1.4"/><circle cx="607.4" cy="403.4" r="1.4"/><circle cx="608.1" cy="396.4" r="1.4"/><circle cx="605.2" cy="394.5" r="1.4"/><circle cx="606.8" cy="399.1" r="1.4"/><circle cx="604.1" cy="395.9" r="1.4"/><circle cx="596.9" cy="402.0" r="1.4"/><circle cx="613.3" cy="411.8" r="1.4"/><circle cx="617.1" cy="404.3" r="1.4"/><circle cx="611.2" cy="398.6" r="1.4"/><circle cx="597.6" cy="401.9" r="1.4"/><circle cx="599.9" cy="417.4" r="1.4"/><circle cx="611.4" cy="405.8" r="1.4"/><circle cx="602.7" cy="402.1" r="1.4"/><circle cx="610.7" cy="395.8" r="1.4"/><circle cx="591.4" cy="403.9" r="1.4"/><circle cx="616.6" cy="405.5" r="1.4"/><circle cx="603.3" cy="401.9" r="1.4"/><circle cx="607.9" cy="407.9" r="1.4"/><circle cx="605.0" cy="410.7" r="1.4"/><circle cx="602.2" cy="399.8" r="1.4"/><circle cx="616.7" cy="407.2" r="1.4"/><circle cx="605.8" cy="397.5" r="1.4"/><circle cx="590.4" cy="406.3" r="1.4"/><circle cx="595.5" cy="405.6" r="1.4"/><circle cx="612.7" cy="399.1" r="1.4"/><circle cx="607.8" cy="395.0" r="1.4"/><circle cx="609.6" cy="405.8" r="1.4"/><circle cx="607.3" cy="418.0" r="1.4"/><circle cx="600.0" cy="395.0" r="1.4"/><circle cx="615.6" cy="410.3" r="1.4"/><circle cx="613.1" cy="400.2" r="1.4"/><circle cx="599.4" cy="400.2" r="1.4"/><circle cx="606.6" cy="396.1" r="1.4"/><circle cx="604.7" cy="403.5" r="1.4"/><circle cx="600.6" cy="402.3" r="1.4"/><circle cx="593.1" cy="407.6" r="1.4"/><circle cx="598.9" cy="414.1" r="1.4"/><circle cx="591.8" cy="406.9" r="1.4"/><circle cx="604.1" cy="415.6" r="1.4"/><circle cx="612.1" cy="401.1" r="1.4"/><circle cx="603.3" cy="413.2" r="1.4"/><circle cx="616.0" cy="406.8" r="1.4"/><circle cx="603.0" cy="414.8" r="1.4"/><circle cx="598.9" cy="397.0" r="1.4"/><circle cx="596.2" cy="403.0" r="1.4"/><circle cx="604.0" cy="402.2" r="1.4"/><circle cx="597.2" cy="404.0" r="1.4"/><circle cx="606.1" cy="420.3" r="1.4"/><circle cx="597.3" cy="398.0" r="1.4"/><circle cx="603.4" cy="408.8" r="1.4"/><circle cx="604.3" cy="398.5" r="1.4"/><circle cx="612.6" cy="399.6" r="1.4"/><circle cx="601.5" cy="401.7" r="1.4"/><circle cx="610.3" cy="407.0" r="1.4"/><circle cx="610.1" cy="401.0" r="1.4"/><circle cx="594.7" cy="402.7" r="1.4"/><circle cx="599.0" cy="401.2" r="1.4"/><circle cx="601.2" cy="394.6" r="1.4"/><circle cx="603.7" cy="415.9" r="1.4"/><circle cx="604.9" cy="405.0" r="1.4"/><circle cx="607.1" cy="414.1" r="1.4"/><circle cx="595.6" cy="403.8" r="1.4"/><circle cx="614.7" cy="410.4" r="1.4"/><circle cx="597.0" cy="415.5" r="1.4"/><circle cx="599.7" cy="413.8" r="1.4"/><circle cx="609.7" cy="396.5" r="1.4"/><circle cx="602.3" cy="403.2" r="1.4"/><circle cx="608.4" cy="396.5" r="1.4"/><circle cx="607.8" cy="399.5" r="1.4"/><circle cx="607.9" cy="411.2" r="1.4"/><circle cx="612.4" cy="413.7" r="1.4"/><circle cx="603.5" cy="404.5" r="1.4"/><circle cx="597.1" cy="408.9" r="1.4"/><circle cx="606.5" cy="409.8" r="1.4"/><circle cx="603.7" cy="419.3" r="1.4"/><circle cx="610.2" cy="398.5" r="1.4"/><circle cx="600.5" cy="418.6" r="1.4"/><circle cx="601.5" cy="410.1" r="1.4"/><circle cx="602.1" cy="397.4" r="1.4"/><circle cx="593.3" cy="399.8" r="1.4"/><circle cx="613.3" cy="406.4" r="1.4"/><circle cx="600.2" cy="413.2" r="1.4"/><circle cx="595.9" cy="401.2" r="1.4"/><circle cx="593.1" cy="402.6" r="1.4"/><circle cx="606.3" cy="402.6" r="1.4"/><circle cx="592.5" cy="410.6" r="1.4"/><circle cx="601.9" cy="403.8" r="1.4"/><circle cx="602.5" cy="401.7" r="1.4"/><circle cx="608.7" cy="410.9" r="1.4"/><circle cx="601.6" cy="392.9" r="1.4"/><circle cx="611.1" cy="404.3" r="1.4"/><circle cx="602.8" cy="420.1" r="1.4"/><circle cx="607.8" cy="412.2" r="1.4"/><circle cx="594.8" cy="405.4" r="1.4"/><circle cx="606.2" cy="409.3" r="1.4"/><circle cx="598.0" cy="404.9" r="1.4"/><circle cx="615.8" cy="402.9" r="1.4"/><circle cx="609.8" cy="408.8" r="1.4"/><circle cx="603.0" cy="401.8" r="1.4"/><circle cx="604.3" cy="401.8" r="1.4"/><circle cx="605.0" cy="400.3" r="1.4"/><circle cx="598.5" cy="411.6" r="1.4"/><circle cx="615.2" cy="406.7" r="1.4"/><circle cx="593.1" cy="408.0" r="1.4"/><circle cx="589.7" cy="404.7" r="1.4"/><circle cx="605.6" cy="400.2" r="1.4"/><circle cx="612.6" cy="402.5" r="1.4"/></g>
<path d="M604.0,390.8 L604.0,420.6" stroke="#177017" stroke-width="1.9"/>
<path d="M601.00,466.10 L607.00,466.10 M601.88,463.98 L606.12,468.22 M604.00,463.10 L604.00,469.10 M606.12,463.98 L601.88,468.22" stroke="#0F6A0F" stroke-width="1.00" fill="none" stroke-linecap="round"/>
</svg></body></html>
